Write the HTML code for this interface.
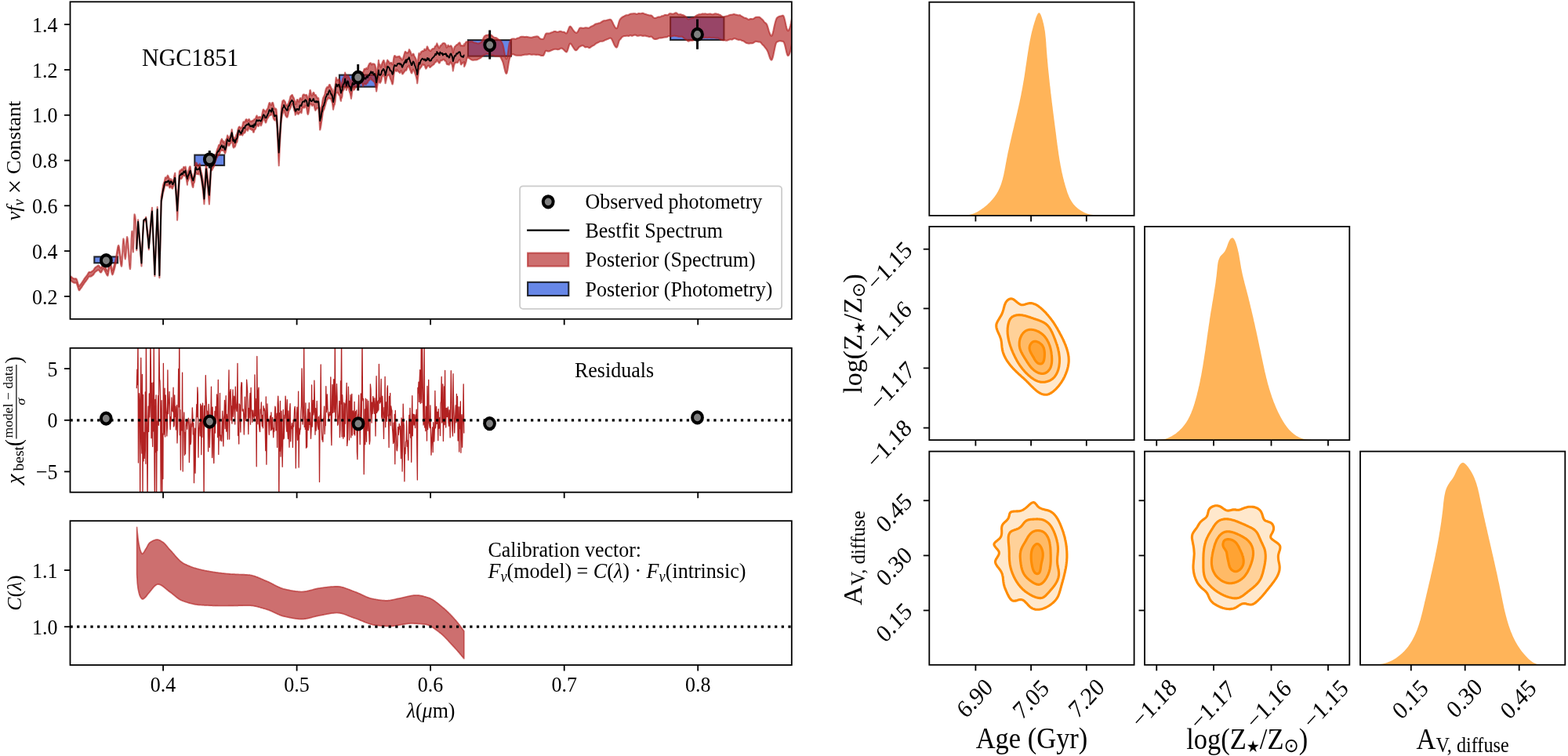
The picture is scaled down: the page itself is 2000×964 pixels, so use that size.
<!DOCTYPE html>
<html><head><meta charset="utf-8"><title>NGC1851 SED fit</title><style>html,body{margin:0;padding:0;background:#fff;}svg{display:block;}</style></head><body>
<svg width="2000" height="964" viewBox="0 0 2000 964" font-family="'Liberation Serif', serif" fill="#000">
<rect width="2000" height="964" fill="#fff"/>
<defs>
<clipPath id="cm"><rect x="89.5" y="2.3" width="920.3" height="404.5"/></clipPath>
<clipPath id="cr"><rect x="89.5" y="443.8" width="920.3" height="183.90000000000003"/></clipPath>
<clipPath id="cc"><rect x="89.5" y="664.2" width="920.3" height="183.79999999999995"/></clipPath>
</defs>
<g clip-path="url(#cm)">
<rect x="120.3" y="327.4" width="29.8" height="7.9" fill="royalblue" fill-opacity="0.8" stroke="#000" stroke-opacity="0.8" stroke-width="2.1"/>
<rect x="248.3" y="197.6" width="37.8" height="13.3" fill="royalblue" fill-opacity="0.8" stroke="#000" stroke-opacity="0.8" stroke-width="2.1"/>
<rect x="432.9" y="95.6" width="46.8" height="15.1" fill="royalblue" fill-opacity="0.8" stroke="#000" stroke-opacity="0.8" stroke-width="2.1"/>
<rect x="597" y="51.1" width="55" height="20.5" fill="royalblue" fill-opacity="0.8" stroke="#000" stroke-opacity="0.8" stroke-width="2.1"/>
<rect x="855.1" y="21.8" width="68.3" height="29.1" fill="royalblue" fill-opacity="0.8" stroke="#000" stroke-opacity="0.8" stroke-width="2.1"/>
<path d="M89.5 353 L90.1 352.5 L90.7 352.7 L91.3 353.3 L91.9 353.9 L92.5 354.4 L93.1 354.7 L93.7 355 L94.3 355.2 L94.9 355.4 L95.5 355.5 L96.1 355.3 L96.7 355.2 L97.3 355.6 L97.9 356.6 L98.5 358.2 L99.1 360.1 L99.7 362.1 L100.3 363.9 L100.9 364.8 L101.1 364.8 L101.5 364.4 L102.1 363.6 L102.7 362.7 L103.3 362 L103.9 361.2 L104.5 360.3 L105.1 359.4 L105.7 358.4 L106.3 357.5 L106.9 356.6 L107.5 355.6 L108.1 354.7 L108.7 354 L109.3 353.3 L109.9 352.4 L110.5 351.6 L111.1 350.8 L111.7 349.9 L112.3 348.8 L112.9 347.7 L113.5 347.1 L114.1 346.9 L114.7 347 L115.3 347 L115.9 346.9 L116.5 346.6 L117.1 346.1 L117.7 345.7 L118.3 345.3 L118.6 345.1 L118.9 344.8 L119.5 344.1 L120.1 343.1 L120.7 342.1 L121.3 341.3 L121.9 340.8 L122.5 340.4 L123.1 340 L123.7 339.5 L124.3 339.1 L124.9 338.8 L125.5 338.6 L126.1 338.8 L126.7 339.5 L127.3 340.5 L127.9 341.3 L128.5 341.7 L128.7 341.6 L129.1 341.3 L129.7 340.4 L130.3 339.1 L130.9 337.8 L131.5 336.8 L131.8 336.6 L132.1 336.7 L132.7 337.4 L133.3 338.5 L133.9 339.8 L134.5 341 L135.1 342.2 L135.7 343.4 L136.3 344.5 L136.9 345.3 L137.2 345.6 L137.5 345.4 L138.1 343.2 L138.7 339.6 L139.3 335.9 L139.9 333.2 L140.3 332.6 L140.5 332.8 L141.1 334.8 L141.7 337.9 L142.3 341.2 L142.9 343.6 L143.5 344.3 L144.1 343.3 L144.7 341.4 L145.3 339.4 L145.9 337.4 L146.5 334.9 L147.1 332.3 L147.3 331.4 L147.7 329.8 L148.3 326.8 L148.9 323.3 L149.5 319.4 L150.1 315.8 L150.7 313.4 L151.2 312.8 L151.9 314.8 L152.5 318.6 L153.1 323.3 L153.7 328 L154.3 331.6 L154.9 333.4 L155.1 333.4 L155.5 331.3 L156.1 322.6 L156.7 312 L157.3 305 L157.5 304.4 L157.9 305.9 L158.5 312.3 L159.1 319.9 L159.7 324.2 L160.3 321.5 L160.9 313.8 L161.5 305.8 L162.1 302 L162.7 304.1 L163.3 309.6 L163.9 317 L164.5 324.9 L165.1 331.8 L165.7 336 L166 336.8 L166.3 335.1 L166.9 323.3 L167.5 307.7 L168.1 296.3 L168.4 294.7 L168.7 297 L169.3 308.1 L169.9 315.1 L170.5 301.9 L171.1 279.9 L171.5 273.3 L171.7 273.4 L172.3 275.3 L172.9 280.7 L173.5 291.4 L174.1 309.1 L174.3 316.1 L174.9 305.3 L175.5 293.9 L176.1 280.4 L176.7 287.2 L177.3 294.3 L177.9 301.5 L178.5 308.5 L179.1 315.2 L179.7 322.5 L180.3 329.5 L180.5 332 L180.9 324.2 L181.5 311.5 L182.1 299 L182.7 288.1 L183.1 281 L183.3 280.9 L183.9 280.7 L184.5 280.2 L185.1 278.9 L185.7 278.4 L186.2 276.8 L186.9 283.1 L187.5 288.8 L188.1 293.6 L188.7 299 L189.3 305.2 L189.8 312.2 L190.5 304.4 L191.1 296.9 L191.7 289.6 L192.3 283 L192.9 275.9 L193.5 269.4 L194 264.7 L194.7 281.5 L195.3 295.7 L195.9 311.1 L196.5 326.6 L197.1 342.1 L197.4 347.7 L197.7 338.6 L198.3 324.3 L198.9 310 L199.5 295.2 L200.1 280.9 L200.7 264.1 L201.3 280.9 L201.9 297.8 L202.5 318.3 L203.1 339.1 L203.4 348 L203.7 335.1 L204.3 311.2 L204.9 287 L205.5 260 L205.7 250.5 L206.1 248.4 L206.7 245.7 L207.3 241.6 L207.9 237.2 L208.5 234.6 L209.1 232.9 L209.7 231.8 L210.3 228.7 L210.9 226.2 L211.5 226.2 L212.1 226.6 L212.7 226.9 L213.3 224.9 L213.9 223.7 L214.5 224.5 L215.1 225.9 L215.6 227 L216.3 228.3 L216.9 230.1 L217.5 230 L218.1 228.2 L218.7 229.4 L219.3 231.1 L219.9 232.8 L220.2 232.4 L220.5 230.8 L221.1 230.1 L221.7 227.5 L222.3 224.4 L222.9 221.7 L223.3 220.7 L223.5 224.2 L224.1 234.4 L224.7 241.8 L225.3 248.7 L225.9 256.4 L226.1 260.9 L226.5 254.8 L227.1 245.1 L227.7 236.3 L228.3 227.9 L228.8 219 L229.5 217.4 L230.1 217.9 L230.7 217.2 L231.3 216.2 L231.9 215.6 L232.5 215.7 L232.7 216.7 L233.1 216.5 L233.7 214.7 L234.3 212.8 L234.9 213.1 L235.5 213.8 L236.1 214.1 L236.6 212.5 L237.3 216.2 L237.9 220.3 L238.5 222.6 L238.9 224 L239.1 222.8 L239.7 220.3 L240.3 217.9 L240.9 216 L241.5 213.7 L242.1 212.3 L242.7 212.3 L243.3 216.9 L243.9 220.1 L244.5 222 L245.1 224.5 L245.7 225.7 L246.3 226.1 L246.7 226.1 L246.9 224.7 L247.5 223.6 L248.1 219.7 L248.7 214.8 L249.3 209.7 L249.8 207.2 L250.5 207.8 L251.1 208 L251.7 210 L252.3 211.2 L252.9 211.4 L253.5 211.8 L254.1 211.5 L254.5 210.1 L254.7 208.8 L255.3 211.8 L255.9 215.6 L256.5 218.5 L256.8 219.5 L257.1 220.4 L257.7 223.6 L258.3 227.1 L258.9 230.5 L259.5 235.7 L260.1 241 L260.4 244 L260.7 240.6 L261.3 232.5 L261.9 222.5 L262.5 214 L263 207.6 L263.7 214.5 L264.3 218.9 L264.9 224.4 L265.5 230.4 L266.1 236.2 L266.7 240.3 L266.9 241.6 L267.3 238.2 L267.9 229.4 L268.5 219.2 L269.1 208.9 L269.7 207.9 L270.3 207.4 L270.9 206.7 L271.5 204.9 L272.1 204.3 L272.7 202.6 L273.3 200.4 L273.9 199.3 L274.5 199 L274.7 198.9 L275.1 198.2 L275.7 195.4 L276.3 193 L276.9 191.1 L277.5 189.4 L278.1 188.5 L278.7 186.1 L279.3 184.7 L279.9 184.5 L280.5 184.7 L280.9 184.3 L281.1 182 L281.7 179.5 L282.3 178.4 L282.9 177.2 L283.5 178.2 L284.1 180.8 L284.7 180.9 L285.3 180 L285.6 180.8 L285.9 182 L286.5 182.9 L287.1 183.6 L287.7 180.3 L288.3 178 L288.9 177.4 L289.5 175.5 L290.1 172.6 L290.7 173.8 L291.3 174.8 L291.9 175.5 L292.5 176.7 L293.1 175.6 L293.4 174 L293.7 172.7 L294.3 171.7 L294.9 169.6 L295.5 166.3 L295.7 165.1 L296.1 167.3 L296.7 172.6 L297.3 174.3 L297.9 175 L298.5 175.6 L299.1 176.6 L299.6 176.6 L300.3 175.2 L300.9 173.7 L301.5 171.8 L302.1 170.6 L302.7 169.1 L303.3 165.9 L303.9 163.9 L304.2 163.5 L304.5 162.1 L305.1 161.8 L305.7 161.6 L306.3 162.5 L306.9 163.2 L307.5 163.5 L308.1 162.5 L308.7 161.9 L308.9 161.5 L309.3 159.9 L309.9 157.2 L310.5 155.4 L311.1 155.3 L311.7 155.7 L312.3 155.2 L312.9 154.3 L313.5 152.5 L314.1 152.1 L314.7 152.2 L315.1 154.2 L315.3 154.7 L315.9 153.9 L316.5 152.9 L317.1 152.8 L317.7 151.8 L318.3 153.2 L318.9 155 L319.5 154.9 L320.1 154.6 L320.7 154.9 L321.3 154.3 L321.9 153.9 L322.5 153.5 L323.1 153.6 L323.7 153.2 L324.3 151.9 L324.9 152 L325.5 151.7 L326.1 151.2 L326.7 148.8 L327.3 147.9 L327.6 147.4 L327.9 148 L328.5 149.9 L329.1 150.2 L329.7 149.4 L330.3 149.3 L330.9 148.9 L331.5 149.2 L332.1 149.9 L332.3 149.7 L332.7 149 L333.3 149.5 L333.9 147.9 L334.5 144.9 L335.1 142 L335.7 139.7 L336.2 139.6 L336.9 140.7 L337.5 141.4 L338.1 141.3 L338.7 142.5 L339.3 142.7 L339.9 140.8 L340.5 139.4 L341.1 139 L341.7 137.8 L342.3 135.5 L342.9 133.1 L343.5 131.2 L344.1 131 L344.7 132.4 L345.3 133.5 L345.9 134 L346.5 132.9 L347.1 131.2 L347.7 130.8 L347.9 130.8 L348.3 131.6 L348.9 134 L349.5 136.7 L350.1 138.7 L350.7 139.2 L351.3 138.4 L351.9 138.5 L352.5 139.5 L353.1 145.8 L353.7 154.6 L354.3 165.1 L354.9 174.4 L355.5 183.7 L355.7 188.4 L356.1 183.8 L356.7 171.3 L357.3 162.3 L357.9 153.6 L358.5 144.2 L358.8 138.7 L359.1 136 L359.7 132.1 L360.3 129 L360.9 128.2 L361.5 128.1 L361.9 127.5 L362.1 127.6 L362.7 128.8 L363.3 129.2 L363.9 130.2 L364.5 132.5 L365.1 134.1 L365.7 134.6 L366.3 134.2 L366.9 133.6 L367.5 132.6 L368.1 131 L368.7 129.2 L369.3 127.9 L369.9 125.5 L370.5 122.9 L371.1 122.1 L371.7 122.1 L372.3 121.1 L372.9 121.1 L373.5 122.7 L374.1 123.7 L374.3 124.3 L374.7 124.8 L375.3 126.7 L375.9 129 L376.5 129.9 L376.7 131.3 L377.1 133 L377.7 132.4 L378.3 129.3 L378.9 127 L379.5 127.1 L380.1 128.2 L380.7 129.4 L381.3 129.7 L381.9 127.7 L382.5 125.6 L383.1 125.1 L383.7 125.3 L384.3 126.2 L384.5 126.9 L384.9 127.5 L385.5 125 L386.1 121.9 L386.7 120.6 L387.3 120.5 L387.9 120.5 L388.5 120.8 L389.1 121.2 L389.7 121.5 L390.3 121 L390.9 120.9 L391.5 122 L392.1 124.1 L392.7 126.1 L393 126.9 L393.3 126.5 L393.9 123.9 L394.5 120.6 L395.1 117.4 L395.3 115.3 L395.7 114.8 L396.3 116.8 L396.9 120.1 L397.5 121.8 L398.1 121.7 L398.7 120.7 L399.2 118.8 L399.9 117.8 L400.5 118.5 L401.1 120.5 L401.6 121.3 L402.3 121 L402.9 121.3 L403.5 122.8 L404.1 123.8 L404.7 124.4 L405.3 125.4 L405.9 125 L406.2 125 L406.5 128.3 L407.1 134.7 L407.7 141.3 L408.1 146.1 L408.3 143.3 L408.9 140.6 L409.5 137.7 L410.1 135.7 L410.7 133.3 L410.9 131.8 L411.3 129 L411.9 125.8 L412.5 124.1 L413.1 123 L413.7 121.8 L414.3 120 L414.8 117.2 L415.5 114.6 L416.1 112.6 L416.7 111.9 L417.1 111.2 L417.3 110.8 L417.9 111.7 L418.5 111.3 L419.1 110.5 L419.7 108.7 L420.2 107.8 L420.9 108.4 L421.5 110.3 L422.1 111.1 L422.5 112.6 L422.7 113.8 L423.3 113.1 L423.9 115.8 L424.5 119.3 L425 122.2 L425.7 119.5 L426.3 114.6 L426.9 112.3 L427.5 109.4 L428.1 104.4 L428.7 98.8 L429.3 100.4 L429.9 101.8 L430.5 102.6 L431.1 101.8 L431.7 101.4 L432.3 101.7 L432.5 101 L432.9 101.6 L433.5 103.1 L434.1 105.4 L434.7 108.5 L434.9 110 L435.3 107.6 L435.9 106.5 L436.5 104.6 L436.8 102.8 L437.1 100.9 L437.7 99.7 L438.3 99 L438.9 97.8 L439.5 96.4 L439.9 94.4 L440.1 92.5 L440.7 94.6 L441.3 96.8 L441.8 99.5 L442.5 97.7 L443.1 96.6 L443.7 96.3 L444.3 97.2 L444.9 98 L445.5 99.2 L446.1 100.3 L446.7 102.6 L447.3 105.7 L447.9 108.3 L448.5 103.9 L449.1 100.7 L449.7 99.7 L450.3 99.5 L450.5 100 L450.9 100.7 L451.5 99.8 L452.1 98.8 L452.4 97.8 L452.7 96.5 L453.3 96.1 L453.9 94.8 L454.5 94.2 L455.1 93.8 L455.7 93.4 L456 92.1 L456.3 90.8 L456.9 90.2 L457.5 90.7 L458.1 91.3 L458.7 92.3 L459.3 93.1 L459.9 93.5 L460.5 93.6 L461 92.5 L461.7 92.1 L462.3 92.2 L462.9 92.4 L463.5 91.5 L464.1 89.6 L464.7 87.7 L465.3 87.8 L465.9 88 L466.1 88.3 L466.5 88 L467.1 87 L467.7 86.7 L468.3 87.9 L468.9 87.9 L469.2 86.4 L469.5 85 L470.1 83.5 L470.7 82.1 L471.3 80.9 L471.9 80.5 L472.5 80.5 L472.9 80.3 L473.1 80.7 L473.7 82 L474.3 82.6 L474.8 81.6 L475.5 81.2 L476 81.4 L476.7 81.6 L477.3 81.5 L477.9 82.1 L478.5 83.3 L479.1 86.4 L479.7 90.4 L480.1 94.8 L480.3 93.7 L480.9 90 L481.5 87.4 L482.1 83.9 L482.7 79.3 L482.9 76.8 L483.3 80.2 L483.9 82 L484.5 82.4 L484.8 83.7 L485.1 84.9 L485.7 85.6 L486.3 84.3 L486.9 82.1 L487.5 80.5 L488.1 79 L488.7 77.9 L489.3 76.8 L489.7 77.1 L489.9 78.5 L490.5 79.8 L491.1 82.5 L491.6 85.7 L492.3 83.2 L492.9 81.3 L493.5 78.9 L494.1 76.6 L494.4 76.6 L494.7 77.5 L495.3 77.9 L495.9 78.3 L496.5 79.8 L497.1 80.9 L497.7 80.4 L498.3 80.1 L498.9 79.8 L499.5 80.3 L499.9 81 L500.1 81.8 L500.7 82.4 L501.3 80.9 L501.9 76.3 L502.5 72.8 L503.1 71.2 L503.7 71 L504.3 71.7 L504.9 72.8 L505.5 72.8 L506.1 72.4 L506.5 72.7 L506.7 72.3 L507.3 72.4 L507.9 72.2 L508.5 72 L509.1 71.6 L509.7 71.9 L509.9 73.2 L510.3 74 L510.9 73.6 L511.5 74.1 L512.1 75.5 L512.7 76.2 L513.3 76.2 L513.9 75.3 L514.5 73.1 L515.1 71 L515.6 69.2 L516.3 67 L516.9 65.7 L517.5 65.9 L518.1 67 L518.7 67.6 L519.3 67.2 L519.9 67.1 L520.5 67.3 L521.1 65.9 L521.7 63.8 L521.9 63 L522.3 63.6 L522.9 64.7 L523.5 65.8 L524.1 67.6 L524.7 69.4 L525.3 70.7 L525.9 70.2 L526.5 69.1 L527.1 68.6 L527.6 69.1 L528.3 70.9 L528.9 72.2 L529.5 73.2 L530.1 74.3 L530.7 75.8 L531.3 78.9 L531.9 82 L532.2 84.4 L532.5 81.8 L533.1 76.8 L533.7 72.3 L534.3 68.4 L534.5 67.8 L534.9 68.8 L535.5 69.4 L536.1 68.8 L536.7 67.2 L537.3 66 L537.9 65.7 L538.5 65.3 L539.1 65 L539.7 65.1 L540.3 65.1 L540.9 64.2 L541.3 63 L541.5 62.5 L542.1 63.6 L542.7 64 L543.3 63.7 L543.9 62.2 L544.5 60.8 L544.7 59.4 L545.1 59.3 L545.7 60.7 L546.3 62.5 L546.9 63.4 L547.5 63.6 L548.1 64.3 L548.7 64.9 L549.3 65.1 L549.9 64.4 L550.5 63.4 L551.1 62.7 L551.6 62.3 L552.3 62.1 L552.9 62.3 L553.5 62.2 L554.1 61.4 L554.7 59.5 L555.3 58.8 L555.9 58.7 L556.5 57.8 L557.1 55.9 L557.3 55.2 L557.7 56.2 L558.3 57.8 L558.9 58.9 L559.5 60.3 L560.1 61.2 L560.7 60.6 L561.3 59.3 L561.9 57.9 L562.5 57.9 L563.1 57.5 L563.7 56.4 L564.3 55.7 L564.7 55.3 L564.9 55.2 L565.5 55.1 L566.1 54.9 L566.7 55 L567.3 55.5 L567.9 55.8 L568.5 57 L569.1 58.3 L569.3 60 L569.7 60.6 L570.3 60.2 L570.9 58.9 L571.5 57.5 L572.1 58.2 L572.7 59 L573.3 59.2 L573.9 59 L574.5 58.4 L575.1 58.2 L575.5 58.6 L575.7 58.9 L576.3 60 L576.9 61.8 L577.5 64.4 L577.8 67.2 L578.1 65.8 L578.7 63.8 L579.3 61.4 L579.9 59.8 L580.5 59.1 L581.1 58.7 L581.7 57.9 L582.3 57.3 L582.9 57 L583.5 57 L584.1 56.2 L584.7 55.3 L585.3 54.8 L585.9 54.4 L586.5 54.4 L587.1 56 L587.5 57.8 L587.7 58.3 L588.3 58.1 L588.9 58 L589.5 58 L590.1 58.6 L590.7 58.4 L591.3 57.7 L591.9 56.9 L592.1 56.1 L592.1 58.4 L592.9 56.4 L593.7 54.6 L594.5 53.5 L595.3 53.2 L596.1 53.4 L596.9 53.4 L597.7 53.2 L598.5 53.1 L599.3 53.1 L600.1 53.1 L600.9 53 L601.7 52.9 L602.5 53.1 L603.3 53.6 L604.1 54.1 L604.9 54.4 L605.7 54.5 L606.5 54.5 L607.3 54.7 L608.1 54.9 L608.9 55.2 L609.7 55.4 L610.5 55.4 L611.3 55.1 L612.1 54.7 L612.9 54.4 L613.7 53.8 L614.5 52.8 L615.3 51.4 L616.1 49.8 L616.9 48 L617.7 46.6 L618.5 45.8 L619.3 45.3 L620.1 44.9 L620.9 44.8 L621.7 44.7 L622.5 44.5 L623.3 44.3 L624.1 44.1 L624.9 44.2 L625.7 44.4 L626.5 44.8 L627.3 45.4 L628.1 46.1 L628.9 46.8 L629.7 47.5 L630.5 47.9 L631.3 48 L632.1 48.1 L632.9 48.3 L633.7 48.7 L634.5 49.3 L635.3 49.8 L636.1 50.4 L636.9 50.9 L637.7 51.4 L638.5 52.1 L639.3 52.9 L640.1 54.2 L640.9 55.7 L641.7 58.1 L642.5 61.8 L643.3 66.1 L644.1 70 L644.9 73.2 L645.7 75 L646.5 74.5 L647.3 70.7 L648.1 65.3 L648.9 59.6 L649.7 55.3 L650.5 53 L651.3 51.2 L652.1 50 L652.9 49.6 L653.7 49.5 L654.5 49.5 L655.3 49.4 L656.1 49.6 L656.9 49.8 L657.7 49.7 L658.5 49.4 L659.3 49 L660.1 48.6 L660.9 48.4 L661.7 48.2 L662.5 47.9 L663.3 47.4 L664.1 47 L664.9 46.8 L665.7 46.7 L666.5 46.7 L667.3 46.8 L668.1 46.9 L668.9 47.1 L669.7 47.1 L670.5 47 L671.3 46.9 L672.1 47 L672.9 47.1 L673.7 47.2 L674.5 47.4 L675.3 47.6 L676.1 47.7 L676.9 47.8 L677.7 47.9 L678.5 47.8 L679.3 47.5 L680.1 47.2 L680.9 47 L681.7 46.9 L682.5 46.8 L683.3 46.6 L684.1 46.5 L684.9 46.4 L685.7 46.5 L686.5 46.8 L687.3 47.6 L688.1 48.5 L688.9 49.3 L689.7 49.6 L690.5 49.7 L691.3 49.8 L692.1 49.9 L692.9 49.8 L693.7 48.9 L694.5 46.9 L695.3 44.8 L696.1 43.1 L696.9 42.6 L697.7 42.5 L698.5 42.5 L699.3 42.6 L700.1 42.5 L700.9 42.5 L701.7 42.3 L702.5 41.8 L703.3 41.4 L704.1 41.2 L704.9 41 L705.7 40.6 L706.5 40.3 L707.3 40 L708.1 40 L708.9 40.3 L709.7 40.6 L710.5 40.7 L711.3 40.7 L712.1 40.6 L712.9 40.4 L713.7 40.1 L714.5 39.9 L715.3 39.9 L716.1 40.2 L716.9 40.5 L717.7 40.7 L718.5 40.7 L719.3 40.8 L720.1 41.2 L720.9 41.8 L721.7 42.4 L722.5 42.5 L723.3 41.6 L724.1 39.8 L724.9 37.7 L725.7 35.5 L726.5 34 L727.3 33.6 L728.1 34.1 L728.9 35.1 L729.7 36.2 L730.5 37.5 L731.3 38.6 L732.1 39.7 L732.9 40.6 L733.7 41.2 L734.5 41.7 L735.3 41.9 L736.1 41.4 L736.9 40.4 L737.7 38.9 L738.5 37.2 L739.3 35.9 L740.1 35.5 L740.9 35.5 L741.7 35.6 L742.5 35.8 L743.3 35.9 L744.1 35.9 L744.9 35.7 L745.7 35.5 L746.5 35.4 L747.3 35.3 L748.1 35.4 L748.9 35.5 L749.7 35.6 L750.5 35.8 L751.3 35.7 L752.1 35.2 L752.9 34.4 L753.7 33.9 L754.5 33.6 L755.3 33.3 L756.1 32.9 L756.9 32.5 L757.7 32 L758.5 31.3 L759.3 30.7 L760.1 30.4 L760.9 30.3 L761.7 30.2 L762.5 29.9 L763.3 29.6 L764.1 29.4 L764.9 29.2 L765.7 28.9 L766.5 28.5 L767.3 28 L768.1 27.5 L768.9 27 L769.7 26.6 L770.5 26.3 L771.3 26.2 L772.1 26.2 L772.9 26.1 L773.7 25.9 L774.5 25.6 L775.3 25.4 L776.1 25.2 L776.9 25 L777.7 24.9 L778.5 24.9 L779.3 25.3 L780.1 26.2 L780.9 27.6 L781.7 29.3 L782.5 31 L783.3 32.6 L784.1 34 L784.9 35.2 L785.7 36 L786.5 36.3 L787.3 35.5 L788.1 33.2 L788.9 30.3 L789.7 27.4 L790.5 25.4 L791.3 24.2 L792.1 23.3 L792.9 22.5 L793.7 22 L794.5 21.5 L795.3 21 L796.1 20.6 L796.9 20.1 L797.7 19.7 L798.5 19.4 L799.3 19.3 L800.1 19.3 L800.9 19.3 L801.7 19 L802.5 18.5 L803.3 18.1 L804.1 17.7 L804.9 17.6 L805.7 17.5 L806.5 17.5 L807.3 17.4 L808.1 17.3 L808.9 17.3 L809.7 17.3 L810.5 17.4 L811.3 17.7 L812.1 17.9 L812.9 17.8 L813.7 17.4 L814.5 17.1 L815.3 17.1 L816.1 17.2 L816.9 17.3 L817.7 17.3 L818.5 17 L819.3 16.7 L820.1 16.7 L820.9 17.1 L821.7 17.6 L822.5 17.9 L823.3 18 L824.1 18.3 L824.9 18.6 L825.7 18.7 L826.5 18.9 L827.3 19.2 L828.1 19.5 L828.9 19.6 L829.7 19.6 L830.5 19.6 L831.3 20 L832.1 20.8 L832.9 21.7 L833.7 22.5 L834.5 22.9 L835.3 23.1 L836.1 23 L836.9 22.7 L837.7 22.4 L838.5 22 L839.3 21.7 L840.1 21.6 L840.9 21.6 L841.7 21.6 L842.5 21.3 L843.3 20.9 L844.1 20.4 L844.9 20.3 L845.7 20.2 L846.5 19.9 L847.3 19.4 L848.1 19 L848.9 19 L849.7 19.1 L850.5 19.3 L851.3 19.3 L852.1 19 L852.9 18.3 L853.7 17.6 L854.5 17.3 L855.3 17.3 L856.1 17.5 L856.9 17.6 L857.7 17.7 L858.5 17.7 L859.3 17.6 L860.1 17.2 L860.9 16.8 L861.7 16.4 L862.5 16.4 L863.3 16.8 L864.1 17.5 L864.9 18.2 L865.7 18.5 L866.5 18.4 L867.3 18.2 L868.1 18.3 L868.9 18.6 L869.7 18.9 L870.5 19.1 L871.3 19.3 L872.1 19.6 L872.9 20 L873.7 20.6 L874.5 21.3 L875.3 22 L876.1 22.9 L876.9 23.8 L877.7 24.4 L878.5 24.4 L879.3 24.1 L880.1 23.9 L880.9 23.6 L881.7 23.2 L882.5 22.9 L883.3 22.8 L884.1 22.9 L884.9 22.7 L885.7 22.1 L886.5 21.2 L887.3 20.5 L888.1 19.9 L888.9 19.5 L889.7 19.1 L890.5 18.7 L891.3 18.4 L892.1 18.3 L892.9 18.3 L893.7 18.3 L894.5 18.1 L895.3 17.8 L896.1 17.5 L896.9 17.6 L897.7 17.7 L898.5 17.6 L899.3 17.5 L900.1 17.5 L900.9 17.8 L901.7 18 L902.5 18.1 L903.3 17.9 L904.1 17.8 L904.9 17.7 L905.7 17.6 L906.5 17.7 L907.3 18 L908.1 18.2 L908.9 18.3 L909.7 18.2 L910.5 17.9 L911.3 17.6 L912.1 17.4 L912.9 17.5 L913.7 17.6 L914.5 17.7 L915.3 17.9 L916.1 18.1 L916.9 18.4 L917.7 18.7 L918.5 18.9 L919.3 19.5 L920.1 20.2 L920.9 20.9 L921.7 21.4 L922.5 21.7 L923.3 21.8 L924.1 21.4 L924.9 21 L925.7 20.7 L926.5 20.6 L927.3 20.5 L928.1 20.2 L928.9 19.9 L929.7 19.5 L930.5 19.2 L931.3 19 L932.1 18.8 L932.9 18.7 L933.7 18.7 L934.5 18.5 L935.3 18.3 L936.1 18.1 L936.9 18.2 L937.7 18.5 L938.5 18.8 L939.3 18.9 L940.1 18.9 L940.9 19.2 L941.7 19.4 L942.5 19.4 L943.3 19.3 L944.1 19.4 L944.9 20 L945.7 20.6 L946.5 21 L947.3 21.4 L948.1 22 L948.9 22.5 L949.7 22.8 L950.5 22.9 L951.3 23.1 L952.1 23.4 L952.9 23.8 L953.7 24.4 L954.5 24.9 L955.3 25 L956.1 24.5 L956.9 24.1 L957.7 24 L958.5 24.1 L959.3 24.2 L960.1 24.3 L960.9 24.1 L961.7 23.5 L962.5 22.8 L963.3 22.3 L964.1 22 L964.9 21.9 L965.7 21.8 L966.5 21.8 L967.3 21.7 L968.1 21.7 L968.9 22 L969.7 22.6 L970.5 23.3 L971.3 24 L972.1 24.6 L972.9 25.4 L973.7 26.4 L974.5 27.6 L975.3 28.5 L976.1 29.1 L976.9 29.7 L977.7 30.5 L978.5 32.2 L979.3 34.6 L980.1 37.4 L980.9 40 L981.7 42.3 L982.5 44.1 L983.3 45.4 L984.1 45.8 L984.9 44.9 L985.7 42.4 L986.5 38.9 L987.3 35 L988.1 31.4 L988.9 28.2 L989.7 25.6 L990.5 23.5 L991.3 22.5 L992.1 21.9 L992.9 21.4 L993.7 21.1 L994.5 20.8 L995.3 20.6 L996.1 20.5 L996.9 20.2 L997.7 19.9 L998.5 19.8 L999.3 20.2 L1000.1 22.1 L1000.9 25 L1001.7 28.5 L1002.5 32.3 L1003.3 35.6 L1004.1 38.1 L1004.9 39.2 L1005.7 38.9 L1006.5 37.6 L1007.3 35.5 L1008.1 32.8 L1008.9 29.4 L1009.7 25.4 L1010.5 20.7 L1011.3 15.5 L1011.3 47.7 L1010.5 53.2 L1009.7 57.9 L1008.9 61.9 L1008.1 65.1 L1007.3 67.7 L1006.5 69.7 L1005.7 70.8 L1004.9 71 L1004.1 69.7 L1003.3 66.9 L1002.5 63.5 L1001.7 59.9 L1000.9 56.8 L1000.1 54.5 L999.3 53.2 L998.5 52.8 L997.7 52.7 L996.9 52.5 L996.1 52.4 L995.3 52.3 L994.5 52.2 L993.7 52.4 L992.9 52.6 L992.1 53.1 L991.3 53.4 L990.5 53.9 L989.7 55.6 L988.9 58.6 L988.1 62.2 L987.3 66.1 L986.5 69.9 L985.7 73.2 L984.9 75.6 L984.1 76.6 L983.3 76.2 L982.5 75 L981.7 73 L980.9 70.6 L980.1 68.1 L979.3 65.9 L978.5 64.3 L977.7 62.9 L976.9 61.9 L976.1 60.9 L975.3 59.9 L974.5 58.8 L973.7 57.9 L972.9 57.2 L972.1 56.4 L971.3 55.4 L970.5 54.4 L969.7 53.7 L968.9 53.5 L968.1 53.5 L967.3 53.5 L966.5 53.3 L965.7 53.1 L964.9 52.9 L964.1 52.8 L963.3 53.1 L962.5 53.6 L961.7 54.2 L960.9 54.7 L960.1 55 L959.3 55.2 L958.5 55.2 L957.7 55.1 L956.9 55.2 L956.1 55.4 L955.3 55.5 L954.5 55.5 L953.7 55.3 L952.9 55.1 L952.1 54.9 L951.3 54.5 L950.5 53.9 L949.7 53.3 L948.9 52.7 L948.1 52.3 L947.3 52.1 L946.5 51.9 L945.7 51.5 L944.9 51.1 L944.1 50.8 L943.3 50.8 L942.5 50.9 L941.7 50.8 L940.9 50.6 L940.1 50.2 L939.3 49.9 L938.5 49.5 L937.7 49.2 L936.9 49 L936.1 49.2 L935.3 49.7 L934.5 50.2 L933.7 50.5 L932.9 50.5 L932.1 50.3 L931.3 50.3 L930.5 50.5 L929.7 50.8 L928.9 51.1 L928.1 51.4 L927.3 51.6 L926.5 51.7 L925.7 51.6 L924.9 51.4 L924.1 51.3 L923.3 51.3 L922.5 51.4 L921.7 51.3 L920.9 51.1 L920.1 50.8 L919.3 50.4 L918.5 49.9 L917.7 49.5 L916.9 49.1 L916.1 48.7 L915.3 48.6 L914.5 48.6 L913.7 48.6 L912.9 48.6 L912.1 48.4 L911.3 48.2 L910.5 48.1 L909.7 48.1 L908.9 48.2 L908.1 48.2 L907.3 48.2 L906.5 48.1 L905.7 47.9 L904.9 47.9 L904.1 47.9 L903.3 48 L902.5 48.1 L901.7 48.1 L900.9 48 L900.1 47.9 L899.3 48 L898.5 48.1 L897.7 48.1 L896.9 48.2 L896.1 48.4 L895.3 48.4 L894.5 48.3 L893.7 48 L892.9 47.7 L892.1 47.5 L891.3 47.5 L890.5 47.7 L889.7 48.1 L888.9 48.6 L888.1 49.1 L887.3 49.5 L886.5 50 L885.7 50.6 L884.9 51.1 L884.1 51.5 L883.3 51.6 L882.5 51.7 L881.7 51.6 L880.9 51.5 L880.1 51.7 L879.3 52.2 L878.5 52.6 L877.7 52.5 L876.9 52 L876.1 51.2 L875.3 50.6 L874.5 50.1 L873.7 49.6 L872.9 49 L872.1 48.4 L871.3 47.7 L870.5 47.1 L869.7 46.7 L868.9 46.6 L868.1 46.7 L867.3 46.7 L866.5 46.8 L865.7 46.8 L864.9 46.6 L864.1 46.2 L863.3 46.1 L862.5 46 L861.7 45.9 L860.9 45.7 L860.1 45.6 L859.3 45.7 L858.5 45.9 L857.7 46.1 L856.9 46.2 L856.1 46.4 L855.3 46.4 L854.5 46.2 L853.7 46 L852.9 46 L852.1 46.4 L851.3 46.9 L850.5 47.2 L849.7 47.4 L848.9 47.4 L848.1 47.5 L847.3 47.6 L846.5 47.7 L845.7 47.9 L844.9 48.2 L844.1 48.3 L843.3 48.4 L842.5 48.4 L841.7 48.4 L840.9 48.6 L840.1 48.8 L839.3 49.2 L838.5 49.5 L837.7 49.8 L836.9 49.9 L836.1 50 L835.3 50 L834.5 49.8 L833.7 49.4 L832.9 48.6 L832.1 47.7 L831.3 46.9 L830.5 46.6 L829.7 46.8 L828.9 47 L828.1 47 L827.3 46.8 L826.5 46.5 L825.7 46.3 L824.9 46.2 L824.1 45.9 L823.3 45.6 L822.5 45.5 L821.7 45.6 L820.9 45.8 L820.1 45.9 L819.3 45.8 L818.5 45.5 L817.7 45.2 L816.9 45.1 L816.1 45.2 L815.3 45.5 L814.5 45.6 L813.7 45.7 L812.9 45.7 L812.1 45.4 L811.3 44.9 L810.5 44.6 L809.7 44.5 L808.9 44.7 L808.1 45 L807.3 45.4 L806.5 45.8 L805.7 45.7 L804.9 45.3 L804.1 45.1 L803.3 45.3 L802.5 45.7 L801.7 45.9 L800.9 45.7 L800.1 45.6 L799.3 45.7 L798.5 45.8 L797.7 46 L796.9 46 L796.1 46 L795.3 46.2 L794.5 46.6 L793.7 47.1 L792.9 47.9 L792.1 49 L791.3 50 L790.5 50.7 L789.7 52.1 L788.9 54.6 L788.1 57.5 L787.3 59.7 L786.5 60.6 L785.7 60.2 L784.9 59.4 L784.1 58.2 L783.3 56.7 L782.5 54.9 L781.7 53 L780.9 51.2 L780.1 49.8 L779.3 48.9 L778.5 48.6 L777.7 48.8 L776.9 49.1 L776.1 49.5 L775.3 49.7 L774.5 50.1 L773.7 50.4 L772.9 50.8 L772.1 51 L771.3 51.4 L770.5 51.8 L769.7 52.3 L768.9 52.6 L768.1 52.8 L767.3 52.8 L766.5 52.7 L765.7 52.8 L764.9 53.1 L764.1 53.6 L763.3 54 L762.5 54.4 L761.7 54.8 L760.9 55.1 L760.1 55.6 L759.3 56.3 L758.5 57 L757.7 57.6 L756.9 58 L756.1 58.4 L755.3 58.8 L754.5 59.3 L753.7 59.9 L752.9 60.5 L752.1 61 L751.3 61 L750.5 60.6 L749.7 60.1 L748.9 59.9 L748.1 60 L747.3 60.2 L746.5 60.2 L745.7 59.8 L744.9 59 L744.1 58.4 L743.3 58 L742.5 58.1 L741.7 58.4 L740.9 58.8 L740.1 59.2 L739.3 59.5 L738.5 60.3 L737.7 61.2 L736.9 62.3 L736.1 63.3 L735.3 64.1 L734.5 64.3 L733.7 63.9 L732.9 63.1 L732.1 62 L731.3 60.7 L730.5 59.5 L729.7 58.2 L728.9 56.8 L728.1 55.8 L727.3 55.5 L726.5 56.3 L725.7 58.4 L724.9 61.1 L724.1 63.8 L723.3 65.7 L722.5 66.4 L721.7 66 L720.9 65.4 L720.1 64.6 L719.3 63.8 L718.5 63 L717.7 62.3 L716.9 61.7 L716.1 61.5 L715.3 61.6 L714.5 62.1 L713.7 62.6 L712.9 62.9 L712.1 63.1 L711.3 63.1 L710.5 63 L709.7 62.8 L708.9 62.7 L708.1 62.7 L707.3 62.8 L706.5 63 L705.7 63.3 L704.9 63.6 L704.1 63.9 L703.3 64.2 L702.5 64.6 L701.7 64.9 L700.9 65.2 L700.1 65.5 L699.3 65.5 L698.5 65.4 L697.7 65.1 L696.9 64.8 L696.1 64.9 L695.3 66.2 L694.5 68.3 L693.7 70.1 L692.9 70.9 L692.1 70.9 L691.3 71 L690.5 70.9 L689.7 70.7 L688.9 70.4 L688.1 70.1 L687.3 69.9 L686.5 69.7 L685.7 69.7 L684.9 69.8 L684.1 69.9 L683.3 69.8 L682.5 69.7 L681.7 69.5 L680.9 69.5 L680.1 69.5 L679.3 69.6 L678.5 69.7 L677.7 69.7 L676.9 69.5 L676.1 69.2 L675.3 69.1 L674.5 69.1 L673.7 69.4 L672.9 69.5 L672.1 69.6 L671.3 69.6 L670.5 69.5 L669.7 69.6 L668.9 69.8 L668.1 70 L667.3 70.1 L666.5 70.3 L665.7 70.5 L664.9 70.7 L664.1 70.8 L663.3 70.8 L662.5 70.8 L661.7 70.8 L660.9 70.7 L660.1 70.7 L659.3 70.7 L658.5 70.6 L657.7 70.4 L656.9 70.2 L656.1 69.8 L655.3 69.4 L654.5 69.3 L653.7 69.3 L652.9 69.5 L652.1 70.1 L651.3 71.6 L650.5 73.4 L649.7 75.7 L648.9 79.7 L648.1 84.8 L647.3 89.8 L646.5 93.2 L645.7 93.9 L644.9 92.7 L644.1 90.1 L643.3 86.7 L642.5 83.2 L641.7 80.1 L640.9 77.9 L640.1 76.2 L639.3 74.5 L638.5 73 L637.7 71.9 L636.9 71.6 L636.1 71.6 L635.3 71.6 L634.5 71.5 L633.7 71.5 L632.9 71.6 L632.1 71.7 L631.3 71.5 L630.5 71.1 L629.7 70.6 L628.9 70.4 L628.1 70.4 L627.3 70.5 L626.5 70.6 L625.7 70.5 L624.9 70.2 L624.1 69.8 L623.3 69.4 L622.5 69.1 L621.7 68.9 L620.9 68.9 L620.1 69.1 L619.3 69.5 L618.5 69.8 L617.7 70 L616.9 70.3 L616.1 70.8 L615.3 71.5 L614.5 72.3 L613.7 73.2 L612.9 74 L612.1 74.4 L611.3 74.8 L610.5 75.1 L609.7 75.5 L608.9 76 L608.1 76.3 L607.3 76.4 L606.5 76.3 L605.7 76.4 L604.9 76.5 L604.1 76.6 L603.3 76.7 L602.5 76.6 L601.7 76.4 L600.9 76 L600.1 75.4 L599.3 74.8 L598.5 74.2 L597.7 73.8 L596.9 73.5 L596.1 73.2 L595.3 75 L594.5 79 L593.7 81.5 L592.9 83.5 L592.1 84.9 L592.1 79 L591.9 79 L591.3 80 L590.7 80.6 L590.1 80.3 L589.5 80.2 L588.9 81.6 L588.3 82.4 L587.7 81.9 L587.5 80.3 L587.1 78 L586.5 76.4 L585.9 76.3 L585.3 77 L584.7 78.1 L584.1 79.5 L583.5 80 L582.9 79.3 L582.3 79.5 L581.7 80.1 L581.1 80 L580.5 80 L579.9 81.2 L579.3 82.9 L578.7 85.3 L578.1 88.5 L577.8 90.4 L577.5 86.8 L576.9 83.5 L576.3 81.7 L575.7 80.8 L575.5 80.1 L575.1 79.5 L574.5 79.4 L573.9 80.3 L573.3 81.8 L572.7 82.7 L572.1 82.3 L571.5 82.1 L570.9 82.2 L570.3 82.2 L569.7 81.4 L569.3 79.8 L569.1 78.6 L568.5 78.2 L567.9 77.4 L567.3 77.5 L566.7 76.5 L566.1 75.7 L565.5 75.8 L564.9 76.3 L564.7 76 L564.3 76.6 L563.7 77.3 L563.1 77.3 L562.5 77.1 L561.9 77.3 L561.3 78.9 L560.7 80.3 L560.1 80.5 L559.5 79.4 L558.9 78.8 L558.3 78.1 L557.7 76.8 L557.3 76.6 L557.1 77.3 L556.5 78.5 L555.9 79.2 L555.3 79.4 L554.7 79.6 L554.1 81 L553.5 82 L552.9 82.4 L552.3 82.8 L551.6 83.2 L551.1 83.6 L550.5 84.2 L549.9 84.7 L549.3 85.2 L548.7 85.9 L548.1 85.7 L547.5 84.1 L546.9 83.5 L546.3 84 L545.7 84.3 L545.1 84.6 L544.7 85.1 L544.5 86 L543.9 86.9 L543.3 87.7 L542.7 86.6 L542.1 84.4 L541.5 82.8 L541.3 82.8 L540.9 82.9 L540.3 82.9 L539.7 82.3 L539.1 82.1 L538.5 83 L537.9 84.3 L537.3 85.4 L536.7 86.1 L536.1 86.7 L535.5 87.7 L534.9 88.5 L534.5 88.4 L534.3 89.4 L533.7 94.1 L533.1 99.2 L532.5 104.5 L532.2 106.2 L531.9 102.8 L531.3 100 L530.7 97.6 L530.1 95.5 L529.5 94 L528.9 92.2 L528.3 90.9 L527.6 89.5 L527.1 88.6 L526.5 89.3 L525.9 91.3 L525.3 93.4 L524.7 93 L524.1 91.5 L523.5 89.8 L522.9 88.6 L522.3 86.4 L521.9 84.2 L521.7 83.6 L521.1 84.8 L520.5 85.5 L519.9 85.1 L519.3 86.4 L518.7 88.8 L518.1 89.8 L517.5 89.4 L516.9 89.4 L516.3 90.9 L515.6 91.7 L515.1 92.3 L514.5 93.2 L513.9 94.1 L513.3 94.5 L512.7 93 L512.1 91 L511.5 90.1 L510.9 91.1 L510.3 92.7 L509.9 93 L509.7 92.3 L509.1 92 L508.5 91.6 L507.9 90.8 L507.3 90.5 L506.7 89.4 L506.5 89.2 L506.1 89.9 L505.5 90.8 L504.9 90.2 L504.3 89.5 L503.7 89.7 L503.1 91.3 L502.5 94.3 L501.9 99.3 L501.3 105.3 L500.7 107.4 L500.1 106.8 L499.9 105.6 L499.5 104.4 L498.9 102.5 L498.3 101.2 L497.7 99.9 L497.1 97.6 L496.5 95.8 L495.9 95.2 L495.3 95.9 L494.7 96 L494.4 95.9 L494.1 96.4 L493.5 97.7 L492.9 100.5 L492.3 103.3 L491.6 106.3 L491.1 102.3 L490.5 98.4 L489.9 96.5 L489.7 95.5 L489.3 95 L488.7 95.8 L488.1 96.8 L487.5 97.4 L486.9 99.5 L486.3 102.6 L485.7 104.5 L485.1 105.1 L484.8 105.8 L484.5 105.7 L483.9 104.9 L483.3 102.3 L482.9 98.4 L482.7 100.2 L482.1 104.1 L481.5 108.2 L480.9 111.9 L480.3 115.6 L480.1 116.5 L479.7 113.3 L479.1 110 L478.5 107 L477.9 105.4 L477.3 104.1 L476.7 104.1 L476 103.3 L475.5 102.6 L474.8 102.1 L474.3 102.1 L473.7 101.5 L473.1 100.6 L472.9 99.2 L472.5 99 L471.9 99.8 L471.3 101.7 L470.7 102.7 L470.1 102.9 L469.5 103.5 L469.2 104.8 L468.9 105.6 L468.3 105.6 L467.7 106 L467.1 107.4 L466.5 107.8 L466.1 107.5 L465.9 107.2 L465.3 106.9 L464.7 106.9 L464.1 107.6 L463.5 109 L462.9 109.7 L462.3 107.5 L461.7 105.8 L461 104.9 L460.5 105 L459.9 105.6 L459.3 106.4 L458.7 108 L458.1 109.5 L457.5 110.3 L456.9 109.5 L456.3 109.1 L456 109.5 L455.7 109.8 L455.1 109.3 L454.5 110 L453.9 111.2 L453.3 112.1 L452.7 112.7 L452.4 113.4 L452.1 114.2 L451.5 114.6 L450.9 114.3 L450.5 112.8 L450.3 112.5 L449.7 114.2 L449.1 117.2 L448.5 122 L447.9 125.8 L447.3 121.9 L446.7 119.4 L446.1 117.7 L445.5 115.7 L444.9 112.8 L444.3 110.9 L443.7 109.3 L443.1 110.6 L442.5 112.9 L441.8 114.9 L441.3 111.1 L440.7 109 L440.1 106.5 L439.9 108.8 L439.5 111.8 L438.9 113.5 L438.3 114.8 L437.7 115.8 L437.1 116.8 L436.8 119.2 L436.5 122.7 L435.9 124.8 L435.3 125.6 L434.9 128.8 L434.7 128.4 L434.1 126.2 L433.5 122.4 L432.9 121.3 L432.5 121.3 L432.3 121.1 L431.7 119.5 L431.1 118.8 L430.5 117.8 L429.9 118.1 L429.3 118.6 L428.7 118.9 L428.1 124.4 L427.5 129.8 L426.9 133.1 L426.3 134.1 L425.7 136.3 L425 139.7 L424.5 135.4 L423.9 131.5 L423.3 129.6 L422.7 128.3 L422.5 126.6 L422.1 125.7 L421.5 125.9 L420.9 125.8 L420.2 125.5 L419.7 125.5 L419.1 125 L418.5 124.6 L417.9 126.8 L417.3 126.9 L417.1 127.1 L416.7 128.4 L416.1 129.8 L415.5 132.2 L414.8 134.7 L414.3 136.3 L413.7 138.7 L413.1 139.9 L412.5 141 L411.9 143.1 L411.3 147 L410.9 149.9 L410.7 151.8 L410.1 155.3 L409.5 159.5 L408.9 163.1 L408.3 165.4 L408.1 165.6 L407.7 157.9 L407.1 148.1 L406.5 140.8 L406.2 138.3 L405.9 138.3 L405.3 137.8 L404.7 138.1 L404.1 138 L403.5 138.9 L402.9 140 L402.3 140.8 L401.6 139.2 L401.1 136.5 L400.5 134.6 L399.9 133.7 L399.2 133.6 L398.7 134.3 L398.1 134.9 L397.5 133.4 L396.9 133.1 L396.3 133.3 L395.7 132.3 L395.3 132.3 L395.1 134.7 L394.5 137.1 L393.9 141.5 L393.3 144.9 L393 145.6 L392.7 145.8 L392.1 144.5 L391.5 140.3 L390.9 137.1 L390.3 135.2 L389.7 134.5 L389.1 135.2 L388.5 137.3 L387.9 137.6 L387.3 136.8 L386.7 137.1 L386.1 136.7 L385.5 138.4 L384.9 142 L384.5 144.1 L384.3 143.8 L383.7 143.2 L383.1 143 L382.5 143.2 L381.9 143.9 L381.3 144.7 L380.7 145.6 L380.1 145.6 L379.5 144.9 L378.9 143.4 L378.3 142.7 L377.7 143.9 L377.1 146.2 L376.7 146.7 L376.5 144.4 L375.9 142.2 L375.3 140.7 L374.7 138.5 L374.3 136.7 L374.1 134.9 L373.5 133.6 L372.9 132.7 L372.3 133.1 L371.7 133.8 L371.1 136.2 L370.5 137.8 L369.9 139.1 L369.3 140 L368.7 140.8 L368.1 143 L367.5 146 L366.9 148.5 L366.3 149.6 L365.7 149.4 L365.1 148.4 L364.5 147.7 L363.9 146.5 L363.3 144.1 L362.7 142 L362.1 140.8 L361.9 141.3 L361.5 142.3 L360.9 144.3 L360.3 145.9 L359.7 148.1 L359.1 151.7 L358.8 155 L358.5 158.4 L357.9 168.1 L357.3 179.3 L356.7 190 L356.1 204.3 L355.7 211.2 L355.5 206.7 L354.9 194.9 L354.3 182.8 L353.7 169.8 L353.1 159.2 L352.5 152.6 L351.9 152.2 L351.3 152.2 L350.7 153.5 L350.1 153.2 L349.5 152.2 L348.9 151.2 L348.3 148.5 L347.9 146.3 L347.7 144.4 L347.1 143.3 L346.5 144.9 L345.9 146.6 L345.3 146.9 L344.7 147 L344.1 147.2 L343.5 147.7 L342.9 148.2 L342.3 149.6 L341.7 150.4 L341.1 150.9 L340.5 152.3 L339.9 154.1 L339.3 156.2 L338.7 156.4 L338.1 154.6 L337.5 153.7 L336.9 151.4 L336.2 150.2 L335.7 150.8 L335.1 153.3 L334.5 155.9 L333.9 157.8 L333.3 159.7 L332.7 160.3 L332.3 158.8 L332.1 157.5 L331.5 157.4 L330.9 157.8 L330.3 159.6 L329.7 161.1 L329.1 160.6 L328.5 159.7 L327.9 158.8 L327.6 158.7 L327.3 159.8 L326.7 161.8 L326.1 164 L325.5 165 L324.9 165.2 L324.3 166.4 L323.7 168.8 L323.1 168.8 L322.5 166 L321.9 165.2 L321.3 165.9 L320.7 164.9 L320.1 164.4 L319.5 165 L318.9 164.3 L318.3 162.9 L317.7 161.8 L317.1 163.4 L316.5 165.5 L315.9 166.8 L315.3 165.8 L315.1 165 L314.7 165.2 L314.1 165.3 L313.5 166.1 L312.9 168 L312.3 169.2 L311.7 169.8 L311.1 169.6 L310.5 169.8 L309.9 171.2 L309.3 172.7 L308.9 171.7 L308.7 170.2 L308.1 170.4 L307.5 172 L306.9 172 L306.3 172.3 L305.7 172.1 L305.1 172.2 L304.5 171.1 L304.2 171.5 L303.9 173.3 L303.3 176.2 L302.7 179.9 L302.1 181.7 L301.5 182.1 L300.9 182.9 L300.3 185.7 L299.6 187.3 L299.1 187.1 L298.5 187.5 L297.9 188.4 L297.3 187.1 L296.7 183.1 L296.1 179.9 L295.7 179 L295.5 178.3 L294.9 180.4 L294.3 182.5 L293.7 183.3 L293.4 183.4 L293.1 184.1 L292.5 185.5 L291.9 185.8 L291.3 184.6 L290.7 183.4 L290.1 183.2 L289.5 185.5 L288.9 188 L288.3 191.7 L287.7 194.1 L287.1 195.7 L286.5 194.6 L285.9 193.7 L285.6 192.3 L285.3 191.8 L284.7 192 L284.1 191.8 L283.5 191.8 L282.9 192.1 L282.3 191.4 L281.7 191.4 L281.1 192.2 L280.9 193.5 L280.5 195.3 L279.9 196 L279.3 197.7 L278.7 198.3 L278.1 198 L277.5 199.4 L276.9 200.9 L276.3 201.2 L275.7 203.3 L275.1 205.3 L274.7 204.9 L274.5 206.1 L273.9 208.6 L273.3 211.4 L272.7 212.6 L272.1 213.7 L271.5 214.6 L270.9 215.9 L270.3 217.2 L269.7 217.2 L269.1 218.1 L268.5 230.2 L267.9 242.7 L267.3 254.2 L266.9 260.4 L266.7 258.4 L266.1 252 L265.5 245.7 L264.9 239.1 L264.3 231.9 L263.7 224.7 L263 216.9 L262.5 224.7 L261.9 235.4 L261.3 246.1 L260.7 256.7 L260.4 260.3 L260.1 255.9 L259.5 249.5 L258.9 243.7 L258.3 239 L257.7 234.8 L257.1 230.2 L256.8 227.8 L256.5 227 L255.9 225.2 L255.3 221.7 L254.7 217.3 L254.5 218.5 L254.1 220.3 L253.5 222.3 L252.9 222.4 L252.3 222 L251.7 222 L251.1 222 L250.5 220.8 L249.8 219.7 L249.3 220.9 L248.7 226.8 L248.1 231.8 L247.5 233.4 L246.9 234.2 L246.7 236.8 L246.3 238.9 L245.7 238.3 L245.1 235.8 L244.5 232.8 L243.9 229.4 L243.3 227.2 L242.7 224.1 L242.1 224.1 L241.5 225.1 L240.9 227.7 L240.3 229.8 L239.7 230.6 L239.1 232.2 L238.9 235.7 L238.5 232.7 L237.9 229.4 L237.3 226.4 L236.6 223.1 L236.1 224.2 L235.5 224.5 L234.9 224.1 L234.3 223.8 L233.7 224.1 L233.1 224.3 L232.7 225 L232.5 226.6 L231.9 226.9 L231.3 227.9 L230.7 227.8 L230.1 227.7 L229.5 228.2 L228.8 230.2 L228.3 240.8 L227.7 251.6 L227.1 262 L226.5 274.1 L226.1 280.7 L225.9 273.7 L225.3 263.1 L224.7 252.8 L224.1 242.4 L223.5 234.6 L223.3 230.7 L222.9 230.1 L222.3 232.7 L221.7 235.4 L221.1 237.7 L220.5 238.4 L220.2 240.4 L219.9 240.5 L219.3 240.1 L218.7 238.4 L218.1 237.5 L217.5 238.3 L216.9 239.3 L216.3 239.5 L215.6 236.5 L215.1 235.4 L214.5 235.8 L213.9 236.5 L213.3 236.7 L212.7 236.3 L212.1 236.5 L211.5 235.9 L210.9 235.8 L210.3 236.5 L209.7 239.6 L209.1 242.4 L208.5 244.2 L207.9 246.6 L207.3 249.5 L206.7 252.4 L206.1 256.4 L205.7 257.4 L205.5 265.2 L204.9 292.8 L204.3 317.9 L203.7 342 L203.4 354.1 L203.1 345.3 L202.5 324.6 L201.9 304 L201.3 286.2 L200.7 268.9 L200.1 286.5 L199.5 301 L198.9 315.5 L198.3 330.2 L197.7 343.8 L197.4 352.1 L197.1 346.3 L196.5 331.1 L195.9 316.8 L195.3 302.8 L194.7 290 L194 274 L193.5 276.9 L192.9 281.8 L192.3 289.4 L191.7 296.4 L191.1 303.2 L190.5 309.9 L189.8 318.3 L189.3 311.9 L188.7 305.5 L188.1 300.9 L187.5 295.2 L186.9 288.3 L186.2 281.3 L185.7 281.8 L185.1 281.9 L184.5 281.5 L183.9 282.1 L183.3 283.9 L183.1 285.1 L182.7 292.4 L182.1 303.6 L181.5 317 L180.9 330.7 L180.5 339.5 L180.3 337 L179.7 329.9 L179.1 322.2 L178.5 314.8 L177.9 307 L177.3 299.4 L176.7 292.1 L176.1 285.2 L175.5 298.4 L174.9 308.7 L174.3 319.1 L174.1 315.5 L173.5 297.8 L172.9 287.1 L172.3 281.7 L171.7 279.8 L171.5 279.6 L171.1 286.2 L170.5 308.2 L169.9 321.5 L169.3 314.5 L168.7 303.4 L168.4 301 L168.1 302.6 L167.5 314 L166.9 329.7 L166.3 341.4 L166 343.1 L165.7 342.3 L165.1 338.1 L164.5 331.2 L163.9 323.3 L163.3 315.9 L162.7 310.4 L162.1 308.3 L161.5 312 L160.9 320.1 L160.3 327.8 L159.7 330.4 L159.1 326.1 L158.5 318.6 L157.9 312.1 L157.5 310.6 L157.3 311.2 L156.7 318.2 L156.1 328.7 L155.5 337.5 L155.1 339.6 L154.9 339.6 L154.3 337.8 L153.7 334.1 L153.1 329.5 L152.5 324.8 L151.9 320.9 L151.2 318.9 L150.7 319.5 L150.1 321.9 L149.5 325.5 L148.9 329.4 L148.3 332.9 L147.7 335.9 L147.3 337.5 L147.1 338.3 L146.5 341 L145.9 343.4 L145.3 345.5 L144.7 347.5 L144.1 349.3 L143.5 350.3 L142.9 349.6 L142.3 347.2 L141.7 344 L141.1 340.8 L140.5 338.9 L140.3 338.6 L139.9 339.2 L139.3 341.9 L138.7 345.6 L138.1 349.1 L137.5 351.4 L137.2 351.6 L136.9 351.3 L136.3 350.4 L135.7 349.3 L135.1 348.1 L134.5 346.9 L133.9 345.7 L133.3 344.4 L132.7 343.3 L132.1 342.6 L131.8 342.5 L131.5 342.7 L130.9 343.7 L130.3 345 L129.7 346.2 L129.1 347.2 L128.7 347.4 L128.5 347.5 L127.9 347.1 L127.3 346.3 L126.7 345.3 L126.1 344.6 L125.5 344.4 L124.9 344.6 L124.3 344.8 L123.7 345.2 L123.1 345.7 L122.5 346.1 L121.9 346.5 L121.3 347 L120.7 347.8 L120.1 348.8 L119.5 349.8 L118.9 350.5 L118.6 350.7 L118.3 351 L117.7 351.4 L117.1 351.8 L116.5 352.2 L115.9 352.5 L115.3 352.6 L114.7 352.6 L114.1 352.5 L113.5 352.7 L112.9 353.3 L112.3 354.4 L111.7 355.5 L111.1 356.4 L110.5 357.1 L109.9 358 L109.3 358.8 L108.7 359.5 L108.1 360.2 L107.5 361.1 L106.9 362.1 L106.3 362.9 L105.7 363.8 L105.1 364.8 L104.5 365.8 L103.9 366.6 L103.3 367.4 L102.7 368.2 L102.1 369 L101.5 369.8 L101.1 370.2 L100.9 370.2 L100.3 369.2 L99.7 367.5 L99.1 365.5 L98.5 363.6 L97.9 362 L97.3 360.9 L96.7 360.5 L96.1 360.6 L95.5 360.8 L94.9 360.7 L94.3 360.5 L93.7 360.2 L93.1 360 L92.5 359.6 L91.9 359.1 L91.3 358.5 L90.7 357.9 L90.1 357.7 L89.5 358.2 Z" fill="#b22222" fill-opacity="0.65" stroke="#b22222" stroke-opacity="0.65" stroke-width="2.1" stroke-linejoin="round"/>
<path d="M174.3 317.7 L174.9 306.9 L175.5 295.7 L176.1 282.6 L176.7 289.5 L177.3 296.7 L177.9 304.2 L178.5 311.1 L179.1 318.9 L179.7 326.5 L180.3 333.3 L180.5 335.6 L180.9 327.1 L181.5 313.9 L182.1 301.7 L182.7 289.9 L183.1 281.9 L183.3 281.4 L183.9 279.9 L184.5 279.9 L185.1 280.2 L185.7 279.5 L186.2 278.4 L186.9 285.2 L187.5 291.9 L188.1 297.3 L188.7 302.7 L189.3 309.6 L189.8 316.4 L190.5 308.5 L191.1 301.4 L191.7 293.4 L192.3 286.6 L192.9 279.1 L193.5 273.2 L194 269.4 L194.7 286.1 L195.3 299.7 L195.9 314.5 L196.5 329.8 L197.1 344.7 L197.4 350.1 L197.7 340.8 L198.3 326.2 L198.9 311.7 L199.5 297.2 L200.1 282.9 L200.7 266.9 L201.3 284.7 L201.9 302 L202.5 322.3 L203.1 342.7 L203.4 351.4 L203.7 338.8 L204.3 314.8 L204.9 290.8 L205.5 263.8 L205.7 255.5 L206.1 254.3 L206.7 251 L207.3 246.6 L207.9 243 L208.5 240.3 L209.1 238.2 L209.7 235.4 L210.3 232.5 L210.9 231.9 L211.5 232.9 L212.1 231.7 L212.7 232 L213.3 232.3 L213.9 230.8 L214.5 230.7 L215.1 230.3 L215.6 232.3 L216.3 234.6 L216.9 233.9 L217.5 231.5 L218.1 231.5 L218.7 231.6 L219.3 233 L219.9 235.1 L220.2 234.5 L220.5 235.2 L221.1 233.6 L221.7 232.4 L222.3 229.5 L222.9 226.9 L223.3 226.8 L223.5 230.5 L224.1 239.2 L224.7 248 L225.3 255.2 L225.9 263.1 L226.1 268.8 L226.5 263 L227.1 252.7 L227.7 243.2 L228.3 234.1 L228.8 224.5 L229.5 223.2 L230.1 223.3 L230.7 223.2 L231.3 221.2 L231.9 222.1 L232.5 220.8 L232.7 220.7 L233.1 222.2 L233.7 220.5 L234.3 218.4 L234.9 218.8 L235.5 220 L236.1 219.3 L236.6 217.4 L237.3 221.5 L237.9 224.6 L238.5 226.2 L238.9 228 L239.1 226.9 L239.7 224.8 L240.3 223.5 L240.9 222.5 L241.5 220.7 L242.1 218.4 L242.7 217.5 L243.3 220.5 L243.9 222.7 L244.5 225.3 L245.1 227.4 L245.7 228.8 L246.3 230.4 L246.7 229.1 L246.9 228.3 L247.5 225.8 L248.1 224.8 L248.7 221.1 L249.3 214.7 L249.8 213 L250.5 215.6 L251.1 216.5 L251.7 216.3 L252.3 215.6 L252.9 215.9 L253.5 215.7 L254.1 214.8 L254.5 214.3 L254.7 213.1 L255.3 217.3 L255.9 220.1 L256.5 223.8 L256.8 224.1 L257.1 225.6 L257.7 230.7 L258.3 234.1 L258.9 237.9 L259.5 242.8 L260.1 249.6 L260.4 253.6 L260.7 249.7 L261.3 240.3 L261.9 232 L262.5 222.7 L263 215.4 L263.7 222.5 L264.3 228.3 L264.9 232.6 L265.5 237.7 L266.1 243.1 L266.7 247.8 L266.9 248.9 L267.3 243.6 L267.9 233.7 L268.5 224.4 L269.1 214.2 L269.7 212.6 L270.3 211.8 L270.9 210.7 L271.5 211.2 L272.1 209.4 L272.7 208.6 L273.3 206.3 L273.9 203.3 L274.5 202.6 L274.7 203.5 L275.1 202.7 L275.7 200.6 L276.3 197.6 L276.9 194.6 L277.5 194 L278.1 192.5 L278.7 193.3 L279.3 191.8 L279.9 190.2 L280.5 189.8 L280.9 189.6 L281.1 188 L281.7 187 L282.3 186.5 L282.9 185.3 L283.5 186.5 L284.1 188.3 L284.7 186.7 L285.3 186.8 L285.6 186.1 L285.9 188.1 L286.5 189.6 L287.1 191.1 L287.7 189.3 L288.3 187.5 L288.9 183.7 L289.5 180.2 L290.1 177.4 L290.7 178.6 L291.3 179.3 L291.9 180.2 L292.5 180.1 L293.1 180.1 L293.4 176.9 L293.7 176.3 L294.3 175.4 L294.9 172.2 L295.5 169.6 L295.7 169.1 L296.1 170.4 L296.7 175 L297.3 179.7 L297.9 179.9 L298.5 178.2 L299.1 179.3 L299.6 182 L300.3 180.9 L300.9 178.3 L301.5 177.2 L302.1 177.1 L302.7 174.9 L303.3 171.1 L303.9 167.7 L304.2 166.4 L304.5 166.5 L305.1 166.2 L305.7 168.4 L306.3 168.4 L306.9 169.4 L307.5 170.6 L308.1 168.9 L308.7 166.5 L308.9 167.9 L309.3 167.6 L309.9 164.6 L310.5 163.1 L311.1 162.8 L311.7 162.5 L312.3 163.7 L312.9 160.6 L313.5 159.8 L314.1 159.9 L314.7 159 L315.1 158.5 L315.3 158.7 L315.9 159 L316.5 159.3 L317.1 157.2 L317.7 158.4 L318.3 159.5 L318.9 160.9 L319.5 161.2 L320.1 160.2 L320.7 160.5 L321.3 161.6 L321.9 160.4 L322.5 159.7 L323.1 162.4 L323.7 162.2 L324.3 158.2 L324.9 158.5 L325.5 159.7 L326.1 157.3 L326.7 154.9 L327.3 153.4 L327.6 153 L327.9 153.5 L328.5 153.7 L329.1 154.4 L329.7 153.6 L330.3 153.2 L330.9 153.3 L331.5 154.1 L332.1 153.7 L332.3 154.2 L332.7 154.7 L333.3 153.5 L333.9 152.4 L334.5 150.9 L335.1 149.1 L335.7 147.2 L336.2 146.1 L336.9 147.2 L337.5 147.3 L338.1 149.9 L338.7 150.3 L339.3 150.3 L339.9 149.2 L340.5 148 L341.1 146.9 L341.7 145.2 L342.3 144.6 L342.9 142.1 L343.5 140.2 L344.1 140.8 L344.7 140.6 L345.3 141.9 L345.9 142.7 L346.5 140.9 L347.1 138.1 L347.7 138.6 L347.9 141.2 L348.3 141.6 L348.9 142.7 L349.5 145.6 L350.1 148.3 L350.7 148.1 L351.3 147.1 L351.9 147.3 L352.5 147.2 L353.1 152.9 L353.7 161.4 L354.3 171.7 L354.9 181 L355.5 190.7 L355.7 194.6 L356.1 189.4 L356.7 178 L357.3 168.9 L357.9 160.5 L358.5 152.5 L358.8 148.3 L359.1 145.4 L359.7 141.6 L360.3 138.5 L360.9 137.4 L361.5 137 L361.9 135.1 L362.1 134 L362.7 135.1 L363.3 136.6 L363.9 137.9 L364.5 138.4 L365.1 139.8 L365.7 140.7 L366.3 140.8 L366.9 140.5 L367.5 136 L368.1 135.2 L368.7 135.2 L369.3 133.7 L369.9 131.8 L370.5 130.1 L371.1 129.8 L371.7 128.8 L372.3 127.6 L372.9 128.7 L373.5 129.1 L374.1 130 L374.3 131.9 L374.7 134.7 L375.3 137.1 L375.9 138.1 L376.5 140.8 L376.7 141.8 L377.1 141.6 L377.7 140.9 L378.3 139.1 L378.9 138.8 L379.5 139.5 L380.1 138.9 L380.7 140.1 L381.3 140.2 L381.9 137.8 L382.5 134.9 L383.1 134.1 L383.7 134.6 L384.3 135 L384.5 134.8 L384.9 133 L385.5 131 L386.1 129.6 L386.7 129.6 L387.3 129.1 L387.9 129.6 L388.5 129.9 L389.1 127.6 L389.7 127.1 L390.3 128 L390.9 128.6 L391.5 130.6 L392.1 134.4 L392.7 135.3 L393 134.7 L393.3 135.2 L393.9 133.2 L394.5 128.9 L395.1 125.8 L395.3 125.7 L395.7 127 L396.3 128.1 L396.9 129 L397.5 129 L398.1 128.6 L398.7 128.2 L399.2 126.7 L399.9 125.9 L400.5 127.8 L401.1 129.5 L401.6 130.2 L402.3 130.3 L402.9 129.1 L403.5 128.9 L404.1 130.6 L404.7 130.1 L405.3 129.1 L405.9 129.3 L406.2 129.5 L406.5 132.4 L407.1 138.5 L407.7 147.9 L408.1 154 L408.3 152.7 L408.9 151 L409.5 148.9 L410.1 144.4 L410.7 141.4 L410.9 142.5 L411.3 139.2 L411.9 135.9 L412.5 135.4 L413.1 134.1 L413.7 131.6 L414.3 130 L414.8 127 L415.5 124.1 L416.1 123.3 L416.7 121.9 L417.1 119.9 L417.3 120.2 L417.9 120.2 L418.5 120.5 L419.1 117.2 L419.7 116.5 L420.2 115 L420.9 116 L421.5 118 L422.1 119.7 L422.5 120.5 L422.7 120.1 L423.3 121 L423.9 123.3 L424.5 126.8 L425 130.2 L425.7 127.4 L426.3 124 L426.9 121.1 L427.5 117.9 L428.1 112.7 L428.7 107.2 L429.3 108.1 L429.9 109.9 L430.5 110.4 L431.1 108.1 L431.7 108.2 L432.3 107.7 L432.5 108.1 L432.9 109.3 L433.5 111 L434.1 114 L434.7 117.7 L434.9 118.7 L435.3 116.9 L435.9 115.8 L436.5 114.4 L436.8 111 L437.1 110 L437.7 107.8 L438.3 107.2 L438.9 106.4 L439.5 103.9 L439.9 101.5 L440.1 100.4 L440.7 104 L441.3 106.4 L441.8 109.5 L442.5 107.1 L443.1 103.4 L443.7 103.4 L444.3 104.6 L444.9 108.3 L445.5 109.7 L446.1 110.2 L446.7 110.5 L447.3 113.8 L447.9 115.6 L448.5 112 L449.1 108.4 L449.7 105.6 L450.3 106.4 L450.5 108 L450.9 107.6 L451.5 107.8 L452.1 107.1 L452.4 106.2 L452.7 106.5 L453.3 104.5 L453.9 104.3 L454.5 104.7 L455.1 104.5 L455.7 103.2 L456 101.9 L456.3 100.2 L456.9 99.5 L457.5 100.2 L458.1 99.7 L458.7 99 L459.3 99.3 L459.9 99.5 L460.5 98.3 L461 97.8 L461.7 98.1 L462.3 99.8 L462.9 101.2 L463.5 101.5 L464.1 98.8 L464.7 99 L465.3 100.4 L465.9 99.7 L466.1 99.7 L466.5 100.7 L467.1 98.8 L467.7 97.3 L468.3 97.4 L468.9 98.9 L469.2 98.6 L469.5 96.4 L470.1 95.7 L470.7 96.4 L471.3 95.5 L471.9 93.5 L472.5 93.2 L472.9 92.4 L473.1 91.2 L473.7 92.6 L474.3 93.6 L474.8 92.3 L475.5 91.6 L476 93.5 L476.7 95.4 L477.3 95.4 L477.9 93.9 L478.5 96.8 L479.1 98.3 L479.7 102.1 L480.1 105.1 L480.3 104.5 L480.9 101.2 L481.5 97.7 L482.1 95.4 L482.7 90.9 L482.9 89.3 L483.3 93.9 L483.9 95.3 L484.5 96.1 L484.8 95.1 L485.1 95.9 L485.7 95.4 L486.3 93.8 L486.9 90.9 L487.5 89.8 L488.1 89.8 L488.7 88.1 L489.3 88 L489.7 89.1 L489.9 88.9 L490.5 90.6 L491.1 93.1 L491.6 96.1 L492.3 93.6 L492.9 90.5 L493.5 88.6 L494.1 85.3 L494.4 84.6 L494.7 85.6 L495.3 85.2 L495.9 86 L496.5 86.4 L497.1 88.2 L497.7 90.2 L498.3 89.6 L498.9 90.6 L499.5 91.5 L499.9 92.8 L500.1 93.7 L500.7 94.9 L501.3 93.8 L501.9 89.2 L502.5 85.2 L503.1 83.2 L503.7 83 L504.3 83.8 L504.9 84.1 L505.5 84.2 L506.1 83.8 L506.5 82.6 L506.7 81.9 L507.3 81.1 L507.9 81.4 L508.5 80.8 L509.1 81 L509.7 80.7 L509.9 81.7 L510.3 82.3 L510.9 81.4 L511.5 81.6 L512.1 82.7 L512.7 85.4 L513.3 85.8 L513.9 84 L514.5 82.3 L515.1 81.7 L515.6 79.5 L516.3 80.1 L516.9 77.9 L517.5 76.4 L518.1 79.8 L518.7 78.8 L519.3 75.7 L519.9 75.5 L520.5 75.4 L521.1 74.8 L521.7 73.1 L521.9 73.5 L522.3 75.6 L522.9 77.3 L523.5 79.1 L524.1 80.5 L524.7 83 L525.3 83.1 L525.9 81.8 L526.5 79.2 L527.1 78.4 L527.6 78.9 L528.3 80.5 L528.9 82.8 L529.5 84.4 L530.1 85.7 L530.7 88 L531.3 90.1 L531.9 92.6 L532.2 95.1 L532.5 93.3 L533.1 88.2 L533.7 83.9 L534.3 80.8 L534.5 79.9 L534.9 81 L535.5 81.6 L536.1 79.3 L536.7 77.3 L537.3 76.4 L537.9 75.5 L538.5 74.7 L539.1 74.7 L539.7 75.3 L540.3 75.9 L540.9 76.5 L541.3 75.8 L541.5 75.4 L542.1 75.5 L542.7 77.6 L543.3 77.4 L543.9 77 L544.5 75.7 L544.7 75 L545.1 73.9 L545.7 75 L546.3 76.3 L546.9 74.5 L547.5 76.1 L548.1 77.6 L548.7 77.3 L549.3 77.6 L549.9 77.2 L550.5 75.2 L551.1 74.8 L551.6 74.1 L552.3 73.2 L552.9 72.8 L553.5 72.3 L554.1 71.5 L554.7 70.1 L555.3 68.6 L555.9 70.1 L556.5 69.4 L557.1 67.4 L557.3 65.9 L557.7 66.5 L558.3 68.1 L558.9 68.5 L559.5 67.9 L560.1 70 L560.7 70.3 L561.3 66.4 L561.9 67.1 L562.5 67.6 L563.1 68 L563.7 68.9 L564.3 67.8 L564.7 69.1 L564.9 70.5 L565.5 69.4 L566.1 68.9 L566.7 69 L567.3 69 L567.9 69.4 L568.5 68.1 L569.1 68.6 L569.3 68.9 L569.7 71.5 L570.3 71.9 L570.9 70.7 L571.5 72.1 L572.1 72.3 L572.7 73.6 L573.3 73.3 L573.9 70.1 L574.5 68.7 L575.1 69.3 L575.5 68.5 L575.7 69.6 L576.3 70.9 L576.9 72.3 L577.5 75.7 L577.8 78.2 L578.1 77.3 L578.7 74.9 L579.3 73.1 L579.9 71.4 L580.5 70.7 L581.1 71.4 L581.7 69.8 L582.3 68.1 L582.9 68.1 L583.5 68.7 L584.1 68.1 L584.7 66.5 L585.3 66.3 L585.9 66.6 L586.5 66.1 L587.1 67.8 L587.5 70.6 L587.7 70.9 L588.3 71.7 L588.9 72.4 L589.5 71.9 L590.1 71.8 L590.7 73 L591.3 71.8 L591.9 70.4 L592.1 70.6" fill="none" stroke="#000" stroke-width="1.8" stroke-linejoin="round"/>
<line x1="267.3" y1="192.1" x2="267.3" y2="214.5" stroke="#000" stroke-width="2.9"/>
<line x1="456.7" y1="82.1" x2="456.7" y2="115.5" stroke="#000" stroke-width="2.9"/>
<line x1="624.7" y1="38.5" x2="624.7" y2="75.6" stroke="#000" stroke-width="2.9"/>
<line x1="889.5" y1="24.5" x2="889.5" y2="62.8" stroke="#000" stroke-width="2.9"/>
<circle transform="translate(135.4 332.2) scale(1 1.085)" r="6.42" fill="gray" stroke="#000" stroke-width="3.95"/>
<circle transform="translate(267.3 203.3) scale(1 1.085)" r="6.42" fill="gray" stroke="#000" stroke-width="3.95"/>
<circle transform="translate(456.7 98.6) scale(1 1.085)" r="6.42" fill="gray" stroke="#000" stroke-width="3.95"/>
<circle transform="translate(624.7 57.3) scale(1 1.085)" r="6.42" fill="gray" stroke="#000" stroke-width="3.95"/>
<circle transform="translate(889.5 43.9) scale(1 1.085)" r="6.42" fill="gray" stroke="#000" stroke-width="3.95"/>
</g>
<text transform="translate(181 83.8) scale(1 1.085)" font-size="30" text-anchor="start">NGC1851</text>
<rect x="663.1" y="237.3" width="334" height="156.5" rx="4" ry="4" fill="#fff" fill-opacity="0.8" stroke="#cccccc" stroke-width="1.8"/>
<circle transform="translate(699.2 257.3) scale(1 1.085)" r="6.42" fill="gray" stroke="#000" stroke-width="3.95"/>
<line x1="672.1" y1="293.6" x2="726.3" y2="293.6" stroke="#000" stroke-width="2.1"/>
<rect x="673.1" y="322.6" width="52.2" height="16.9" fill="#b22222" fill-opacity="0.65" stroke="#b22222" stroke-opacity="0.65" stroke-width="2.1"/>
<rect x="673.1" y="359.8" width="52.2" height="17.2" fill="royalblue" fill-opacity="0.8" stroke="#000" stroke-opacity="0.8" stroke-width="2.1"/>
<text transform="translate(746.5 265.8) scale(1 1.085)" font-size="26.0" text-anchor="start">Observed photometry</text>
<text transform="translate(746.5 303.1) scale(1 1.085)" font-size="26.0" text-anchor="start">Bestfit Spectrum</text>
<text transform="translate(746.5 340.4) scale(1 1.085)" font-size="26.0" text-anchor="start">Posterior (Spectrum)</text>
<text transform="translate(746.5 377.7) scale(1 1.085)" font-size="26.0" text-anchor="start">Posterior (Photometry)</text>
<g clip-path="url(#cr)">
<path d="M174.3 495.2 L174.9 471.1 L175.4 490.6 L176 430.7 L176.5 590 L177.1 532.8 L177.6 501.7 L178.2 515.4 L178.7 640.8 L179.3 505.9 L179.8 456.3 L180.4 563.5 L180.9 578 L181.5 477.4 L182 640.8 L182.6 503.4 L183.1 587.9 L183.7 551.5 L184.2 584.4 L184.8 564.4 L185.3 499.8 L185.9 591.3 L186.4 430.7 L187 528.1 L187.5 559.8 L188.1 640.8 L188.6 542.6 L189.2 518.2 L189.7 550.4 L190.3 501.8 L190.8 531.8 L191.4 517.8 L191.9 430.7 L192.5 471 L193 558.7 L193.6 488.4 L194.1 548.7 L194.7 569.5 L195.2 487.9 L195.8 549.9 L196.3 430.7 L196.9 585.3 L197.4 640.8 L198 509.4 L198.5 576.6 L199.1 504 L199.6 640.8 L200.2 537.2 L200.7 574.7 L201.3 518.2 L201.8 504.5 L202.4 542.3 L202.9 430.7 L203.5 483.3 L204 485.8 L204.6 506.3 L205.1 628.5 L205.7 534.2 L206.2 510.7 L206.8 640.8 L207.3 553.2 L207.9 610.6 L208.4 463.5 L209 554.1 L209.5 546.5 L210.1 495.1 L210.6 556.9 L211.2 504 L211.7 518.6 L212.3 527 L212.8 555.9 L213.4 544.6 L213.9 472 L214.5 527.7 L215 514.6 L215.6 510.8 L216.1 499.3 L216.7 537 L217.2 547.7 L217.8 531.5 L218.3 537.1 L218.9 506.8 L219.4 523.9 L220 522.4 L220.5 524.9 L221.1 494.2 L221.6 544 L222.2 542 L222.7 503.8 L223.3 531.3 L223.8 518.2 L224.4 548.1 L224.9 527.3 L225.5 516.6 L226 564.9 L226.6 548.3 L227.1 518.7 L227.7 470.4 L228.2 518.9 L228.8 430.7 L229.3 554.7 L229.9 522.7 L230.4 599.2 L231 535.4 L231.5 543.4 L232.1 548.9 L232.6 475.1 L233.2 601.1 L233.7 537.6 L234.3 535.8 L234.8 526 L235.4 580.5 L235.9 551.5 L236.5 578.8 L237 543.8 L237.6 536 L238.1 537.4 L238.7 547.3 L239.2 538 L239.8 538.8 L240.3 533.1 L240.9 542.9 L241.4 589.5 L242 564.4 L242.5 534.4 L243.1 566.6 L243.6 563.7 L244.2 540.1 L244.7 544.1 L245.3 519.9 L245.8 529.6 L246.4 553.9 L246.9 539.7 L247.5 615.7 L248 562.9 L248.6 546.1 L249.1 603.3 L249.7 556.2 L250.2 535.7 L250.8 515.7 L251.3 531.7 L251.9 494 L252.4 503 L253 583.2 L253.5 547.4 L254.1 545.5 L254.6 539.2 L255.2 555.9 L255.7 515.1 L256.3 522.4 L256.8 579.7 L257.4 517.2 L257.9 557.3 L258.5 514.2 L259 526.4 L259.6 543.6 L260.1 640.8 L260.7 517.5 L261.2 538.8 L261.8 533.1 L262.3 478.6 L262.9 503.4 L263.4 514.9 L264 533 L264.5 524.1 L265.1 534.2 L265.6 575.7 L266.2 515.4 L266.7 526.9 L267.3 570.5 L267.8 552.7 L268.4 542.6 L268.9 528.2 L269.5 493.1 L270 535.3 L270.6 583.5 L271.1 519.1 L271.7 539 L272.2 577.6 L272.8 590.6 L273.3 560.2 L273.9 524.4 L274.4 552.1 L275 518.4 L275.5 539.8 L276.1 528.1 L276.6 503 L277.2 517.8 L277.7 557.5 L278.3 484.3 L278.8 579.4 L279.4 535.4 L279.9 555.5 L280.5 501.3 L281 561.9 L281.6 554.8 L282.1 557.1 L282.7 562.6 L283.2 542.7 L283.8 524.2 L284.3 551.7 L284.9 568.9 L285.4 534.5 L286 528.5 L286.5 510.3 L287.1 546.7 L287.6 531.4 L288.2 504.7 L288.7 550.2 L289.3 528.3 L289.8 534.3 L290.4 560.2 L290.9 528.4 L291.5 498.7 L292 471.9 L292.6 560.1 L293.1 503.3 L293.7 498.9 L294.2 496.5 L294.8 535.9 L295.3 518 L295.9 540 L296.4 512.1 L297 497 L297.5 531.3 L298.1 520.2 L298.6 505.1 L299.2 508.5 L299.7 541.1 L300.3 493.1 L300.8 514 L301.4 521.8 L301.9 524.5 L302.5 508.9 L303 463.5 L303.6 555.3 L304.1 545.8 L304.7 566 L305.2 514.9 L305.8 516.2 L306.3 533.5 L306.9 551.1 L307.4 494.5 L308 487.6 L308.5 488.1 L309.1 524.1 L309.6 522 L310.2 522 L310.7 528.4 L311.3 554.1 L311.8 539.5 L312.4 506.1 L312.9 525.3 L313.5 536.4 L314 531.2 L314.6 484.2 L315.1 490.4 L315.7 499.4 L316.2 521.1 L316.8 553.6 L317.3 520.7 L317.9 532.8 L318.4 510.8 L319 501.3 L319.5 541.2 L320.1 494.4 L320.6 523.9 L321.2 523.1 L321.7 538.3 L322.3 529.6 L322.8 523.1 L323.4 529.9 L323.9 532.6 L324.5 534.4 L325 477.8 L325.6 530.4 L326.1 508.4 L326.7 524.6 L327.2 594.8 L327.8 454.5 L328.3 527.5 L328.9 540.8 L329.4 497.8 L330 494.2 L330.5 542.3 L331.1 548.8 L331.6 550.5 L332.2 522.1 L332.7 526.8 L333.3 512.8 L333.8 534 L334.4 543.7 L334.9 529.4 L335.5 545.8 L336 517.7 L336.6 523.7 L337.1 520.8 L337.7 523.6 L338.2 544.2 L338.8 574.7 L339.3 506 L339.9 592.2 L340.4 552.9 L341 514.8 L341.5 531.9 L342.1 537 L342.6 535.4 L343.2 554.3 L343.7 538 L344.3 533.7 L344.8 530.1 L345.4 549.1 L345.9 525.8 L346.5 547.9 L347 546 L347.6 532.4 L348.1 544.8 L348.7 557.8 L349.2 546.1 L349.8 550 L350.3 530.8 L350.9 518.2 L351.4 520.2 L352 548.9 L352.5 541.6 L353.1 527.2 L353.6 570.4 L354.2 513.5 L354.7 505.1 L355.3 517.1 L355.8 640.8 L356.4 526.6 L356.9 575.1 L357.5 511.4 L358 582.2 L358.6 564.8 L359.1 524.1 L359.7 564.8 L360.2 595.3 L360.8 557.2 L361.3 522.5 L361.9 559.8 L362.4 558 L363 529.1 L363.5 533.3 L364.1 505.1 L364.6 514.1 L365.2 541.5 L365.7 550.2 L366.3 509.6 L366.8 549.8 L367.4 559.5 L367.9 524 L368.5 548.6 L369 570.3 L369.6 521.1 L370.1 514.7 L370.7 562.8 L371.2 544 L371.8 546.6 L372.3 539.6 L372.9 546.2 L373.4 570.4 L374 535.5 L374.5 544 L375.1 533.6 L375.6 521.7 L376.2 518.4 L376.7 527.4 L377.3 596.9 L377.8 560.9 L378.4 535.5 L378.9 519.1 L379.5 561.2 L380 555.8 L380.6 499.1 L381.1 596.1 L381.7 546.1 L382.2 554 L382.8 548.2 L383.3 547.2 L383.9 524.7 L384.4 517.8 L385 469.9 L385.5 499.1 L386.1 541.1 L386.6 534.2 L387.2 516.3 L387.7 437.6 L388.3 544.4 L388.8 531.4 L389.4 547.4 L389.9 513.9 L390.5 571.3 L391 534.6 L391.6 570.1 L392.1 533.8 L392.7 521.7 L393.2 548.6 L393.8 544.6 L394.3 513.6 L394.9 541.4 L395.4 526.1 L396 544 L396.5 559.3 L397.1 547.5 L397.6 490.9 L398.2 544.1 L398.7 536.3 L399.3 510.4 L399.8 528.8 L400.4 524.8 L400.9 485.2 L401.5 515.8 L402 554.3 L402.6 520.7 L403.1 549.1 L403.7 543.4 L404.2 511.5 L404.8 533.8 L405.3 541.6 L405.9 547.5 L406.4 531.5 L407 540.6 L407.5 614.5 L408.1 529.6 L408.6 537.4 L409.2 465 L409.7 526.4 L410.3 549.5 L410.8 560.9 L411.4 558.3 L411.9 563.4 L412.5 534.4 L413 532.5 L413.6 518.1 L414.1 553.4 L414.7 540.8 L415.2 542.7 L415.8 492.6 L416.3 525.5 L416.9 518.3 L417.4 502.8 L418 521.9 L418.5 527.8 L419.1 535.5 L419.6 531.9 L420.2 525.6 L420.7 529.5 L421.3 528.8 L421.8 480.8 L422.4 552.1 L422.9 567.7 L423.5 513.1 L424 490.4 L424.6 526.3 L425.1 501.4 L425.7 483.6 L426.2 525.7 L426.8 516.2 L427.3 430.7 L427.9 535.6 L428.4 530.8 L429 505.9 L429.5 489.6 L430.1 507.6 L430.6 542.3 L431.2 540.7 L431.7 531.9 L432.3 523.8 L432.8 511.4 L433.4 557.7 L433.9 548.1 L434.5 485.8 L435 515.2 L435.6 430.7 L436.1 556.9 L436.7 503.7 L437.2 514.6 L437.8 559.2 L438.3 554.4 L438.9 513.5 L439.4 556.8 L440 514.8 L440.5 540.2 L441.1 513.9 L441.6 508.8 L442.2 488.3 L442.7 568.4 L443.3 562.2 L443.8 532.5 L444.4 493.2 L444.9 519.5 L445.5 561 L446 511.3 L446.6 533.4 L447.1 503.6 L447.7 557.9 L448.2 512.2 L448.8 502.4 L449.3 555 L449.9 530.4 L450.4 523.9 L451 529.6 L451.5 553.4 L452.1 512.3 L452.6 555 L453.2 533.2 L453.7 524.6 L454.3 527.7 L454.8 522.9 L455.4 575.9 L455.9 585.7 L456.5 530.4 L457 527.7 L457.6 504 L458.1 539.5 L458.7 537.8 L459.2 566.7 L459.8 524.9 L460.3 501.8 L460.9 541.7 L461.4 522.4 L462 430.7 L462.5 505.9 L463.1 511 L463.6 508.7 L464.2 604.7 L464.7 571.4 L465.3 522 L465.8 566.7 L466.4 508.2 L466.9 541.7 L467.5 563.2 L468 509.3 L468.6 542.3 L469.1 549.3 L469.7 511.2 L470.2 532 L470.8 553 L471.3 566.3 L471.9 561.7 L472.4 489.8 L473 496.2 L473.5 523.6 L474.1 539 L474.6 513.1 L475.2 527.5 L475.7 505.5 L476.3 508.5 L476.8 520.4 L477.4 527.3 L477.9 507.6 L478.5 520.2 L479 555.9 L479.6 513.1 L480.1 479.6 L480.7 526.4 L481.2 512.1 L481.8 524.6 L482.3 510.8 L482.9 522.9 L483.4 464.4 L484 505.2 L484.5 514.2 L485.1 507.5 L485.6 512.7 L486.2 483.4 L486.7 531.3 L487.3 534.2 L487.8 505.1 L488.4 522.2 L488.9 532 L489.5 559.4 L490 519.7 L490.6 532.6 L491.1 480.3 L491.7 544.7 L492.2 512.6 L492.8 523.2 L493.3 537.3 L493.9 495.3 L494.4 492 L495 530.7 L495.5 529.2 L496.1 570.6 L496.6 505.5 L497.2 529.3 L497.7 501.3 L498.3 542.8 L498.8 518 L499.4 522.3 L499.9 523.3 L500.5 546.1 L501 553 L501.6 565.5 L502.1 539.2 L502.7 563.9 L503.2 528.5 L503.8 591.7 L504.3 523.4 L504.9 543.6 L505.4 554.4 L506 573.6 L506.5 574.9 L507.1 567.9 L507.6 544.3 L508.2 554.5 L508.7 550.7 L509.3 540.3 L509.8 547 L510.4 543.3 L510.9 562.9 L511.5 584.7 L512 532.8 L512.6 535.3 L513.1 601 L513.7 569.6 L514.2 515.2 L514.8 538.2 L515.3 542.8 L515.9 613.8 L516.4 571.2 L517 578.7 L517.5 563.4 L518.1 562.1 L518.6 536.7 L519.2 569.3 L519.7 561.5 L520.3 575.9 L520.8 586.8 L521.4 546 L521.9 529.4 L522.5 552.6 L523 520.5 L523.6 558.2 L524.1 536 L524.7 589.3 L525.2 536.3 L525.8 504.6 L526.3 555.8 L526.9 528.2 L527.4 528.6 L528 542 L528.5 528.7 L529.1 536.1 L529.6 545.7 L530.2 528.9 L530.7 532.6 L531.3 522.1 L531.8 570 L532.4 611.9 L532.9 494.5 L533.5 501.1 L534 487.2 L534.6 512.4 L535.1 486.7 L535.7 471.6 L536.2 514.5 L536.8 504.5 L537.3 438.5 L537.9 513.7 L538.4 430.7 L539 473.4 L539.5 505.1 L540.1 542 L540.6 538.9 L541.2 437.3 L541.7 545.1 L542.3 533.9 L542.8 549.6 L543.4 518.1 L543.9 522.7 L544.5 562 L545 492.4 L545.6 547.7 L546.1 536.9 L546.7 484.3 L547.2 537.7 L547.8 543.4 L548.3 545.6 L548.9 517 L549.4 548.4 L550 580.2 L550.5 566.9 L551.1 554 L551.6 545 L552.2 576.7 L552.7 538.7 L553.3 551.6 L553.8 563 L554.4 545.6 L554.9 498.4 L555.5 545.9 L556 540.8 L556.6 518.5 L557.1 540.4 L557.7 525.4 L558.2 525.5 L558.8 561.7 L559.3 521.6 L559.9 546.3 L560.4 540.1 L561 532.3 L561.5 555.6 L562.1 514.1 L562.6 511.7 L563.2 480.5 L563.7 538.9 L564.3 534.7 L564.8 489.8 L565.4 562.4 L565.9 538.2 L566.5 492.8 L567 541.5 L567.6 472.5 L568.1 532.7 L568.7 545 L569.2 520.5 L569.8 520.3 L570.3 531.6 L570.9 531.1 L571.4 518.8 L572 538.6 L572.5 543.3 L573.1 522.7 L573.6 525.7 L574.2 557.9 L574.7 517.6 L575.3 472.7 L575.8 496.1 L576.4 535.8 L576.9 548.6 L577.5 556 L578 476.7 L578.6 515.6 L579.1 529.1 L579.7 551.9 L580.2 540 L580.8 528.3 L581.3 517 L581.9 538.9 L582.4 502.5 L583 536.2 L583.5 505.5 L584.1 562 L584.6 518.8 L585.2 540 L585.7 576.1 L586.3 518.9 L586.8 546.7 L587.4 512 L587.9 577.3 L588.5 537.1 L589 528.7 L589.6 570.3 L590.1 543.5 L590.7 525.4 L591.2 489.8 L591.8 552.4" fill="none" stroke="#b22222" stroke-width="1.3" stroke-linejoin="round"/>
<line x1="89.5" y1="535.8" x2="1009.8" y2="535.8" stroke="#000" stroke-width="3.2" stroke-dasharray="3.26 5.38"/>
<circle transform="translate(135.3 533.6) scale(1 1.085)" r="6.42" fill="gray" stroke="#000" stroke-width="3.95"/>
<circle transform="translate(267.4 537.6) scale(1 1.085)" r="6.42" fill="gray" stroke="#000" stroke-width="3.95"/>
<circle transform="translate(457.0 540.3) scale(1 1.085)" r="6.42" fill="gray" stroke="#000" stroke-width="3.95"/>
<circle transform="translate(624.5 540.1) scale(1 1.085)" r="6.42" fill="gray" stroke="#000" stroke-width="3.95"/>
<circle transform="translate(889.5 532.4) scale(1 1.085)" r="6.42" fill="gray" stroke="#000" stroke-width="3.95"/>
</g>
<text transform="translate(733 480.7) scale(1 1.085)" font-size="26.0" text-anchor="start">Residuals</text>
<g clip-path="url(#cc)">
<path d="M174.6 672.4 L175.3 679.9 L176 686.3 L176.7 691.3 L177.4 695.3 L178.1 698.6 L178.8 700.9 L179.5 703 L180.2 704.7 L180.9 705.8 L181.6 706.1 L182.3 705.7 L183 704.9 L183.7 703.9 L184.4 702.7 L185.1 701.5 L185.8 700.3 L186.5 699.2 L187.2 698 L187.9 696.7 L188.6 695.3 L189.3 694.1 L190 693 L190.7 692.2 L191.4 691.7 L192.1 691.3 L192.8 690.8 L193.5 690.4 L194.2 690 L194.9 689.6 L195.6 689.3 L196.3 689 L197 688.7 L197.7 688.5 L198.4 688.3 L199.1 688.2 L199.8 688.1 L200.5 688.1 L201.2 688.1 L201.9 688.3 L202.6 688.5 L203.3 688.8 L204 689.1 L204.7 689.4 L205.4 689.9 L206.1 690.3 L206.8 690.7 L207.5 691.2 L208.2 691.6 L208.9 692.2 L209.6 692.8 L210.3 693.5 L211 694.2 L211.7 695 L212.4 695.9 L213.1 696.7 L213.8 697.6 L214.5 698.5 L215.2 699.3 L215.9 700.1 L216.6 700.8 L217.3 701.6 L218 702.3 L218.7 703.1 L219.4 703.9 L220.1 704.7 L220.8 705.5 L221.5 706.3 L222.2 707.1 L222.9 708 L223.6 708.8 L224.3 709.6 L225 710.4 L225.7 711.1 L226.4 711.9 L227.1 712.6 L227.8 713.3 L228.5 714 L229.2 714.7 L229.9 715.3 L230.6 716 L231.3 716.5 L232 717.1 L232.7 717.5 L233.4 718 L234.1 718.4 L234.8 718.8 L235.5 719.1 L236.2 719.5 L236.9 719.8 L237.6 720.1 L238.3 720.4 L239 720.8 L239.7 721.1 L240.4 721.4 L241.1 721.6 L241.8 721.9 L242.5 722.2 L243.2 722.5 L243.9 722.7 L244.6 723 L245.3 723.2 L246 723.5 L246.7 723.7 L247.4 724 L248.1 724.2 L248.8 724.4 L249.5 724.6 L250.2 724.8 L250.9 725 L251.6 725.2 L252.3 725.4 L253 725.6 L253.7 725.8 L254.4 726 L255.1 726.1 L255.8 726.3 L256.5 726.5 L257.2 726.6 L257.9 726.8 L258.6 727 L259.3 727.1 L260 727.2 L260.7 727.4 L261.4 727.5 L262.1 727.7 L262.8 727.8 L263.5 727.9 L264.2 728 L264.9 728.2 L265.6 728.3 L266.3 728.4 L267 728.5 L267.7 728.7 L268.4 728.8 L269.1 728.9 L269.8 729 L270.5 729.1 L271.2 729.3 L271.9 729.4 L272.6 729.5 L273.3 729.6 L274 729.7 L274.7 729.8 L275.4 729.9 L276.1 730 L276.8 730.1 L277.5 730.2 L278.2 730.3 L278.9 730.4 L279.6 730.5 L280.3 730.6 L281 730.6 L281.7 730.7 L282.4 730.8 L283.1 730.9 L283.8 731 L284.5 731.1 L285.2 731.1 L285.9 731.2 L286.6 731.3 L287.3 731.3 L288 731.4 L288.7 731.5 L289.4 731.5 L290.1 731.6 L290.8 731.7 L291.5 731.7 L292.2 731.8 L292.9 731.8 L293.6 731.9 L294.3 732 L295 732 L295.7 732 L296.4 732.1 L297.1 732.1 L297.8 732.2 L298.5 732.2 L299.2 732.2 L299.9 732.3 L300.6 732.3 L301.3 732.3 L302 732.4 L302.7 732.4 L303.4 732.4 L304.1 732.4 L304.8 732.5 L305.5 732.5 L306.2 732.5 L306.9 732.5 L307.6 732.6 L308.3 732.6 L309 732.6 L309.7 732.6 L310.4 732.7 L311.1 732.7 L311.8 732.7 L312.5 732.8 L313.2 732.8 L313.9 732.8 L314.6 732.9 L315.3 732.9 L316 733 L316.7 733 L317.4 733.1 L318.1 733.2 L318.8 733.2 L319.5 733.4 L320.2 733.5 L320.9 733.6 L321.6 733.8 L322.3 734 L323 734.2 L323.7 734.4 L324.4 734.6 L325.1 734.8 L325.8 735.1 L326.5 735.3 L327.2 735.6 L327.9 735.8 L328.6 736.1 L329.3 736.4 L330 736.7 L330.7 737 L331.4 737.3 L332.1 737.6 L332.8 737.9 L333.5 738.2 L334.2 738.5 L334.9 738.8 L335.6 739.1 L336.3 739.5 L337 739.8 L337.7 740.1 L338.4 740.4 L339.1 740.6 L339.8 740.9 L340.5 741.2 L341.2 741.5 L341.9 741.8 L342.6 742.1 L343.3 742.4 L344 742.8 L344.7 743.1 L345.4 743.5 L346.1 743.8 L346.8 744.2 L347.5 744.6 L348.2 744.9 L348.9 745.3 L349.6 745.7 L350.3 746 L351 746.4 L351.7 746.8 L352.4 747.1 L353.1 747.5 L353.8 747.8 L354.5 748.1 L355.2 748.5 L355.9 748.8 L356.6 749.1 L357.3 749.4 L358 749.7 L358.7 749.9 L359.4 750.2 L360.1 750.4 L360.8 750.7 L361.5 750.9 L362.2 751 L362.9 751.2 L363.6 751.3 L364.3 751.5 L365 751.7 L365.7 751.8 L366.4 752 L367.1 752.1 L367.8 752.3 L368.5 752.4 L369.2 752.6 L369.9 752.7 L370.6 752.9 L371.3 753 L372 753.1 L372.7 753.3 L373.4 753.4 L374.1 753.5 L374.8 753.6 L375.5 753.7 L376.2 753.8 L376.9 753.9 L377.6 754 L378.3 754.1 L379 754.2 L379.7 754.2 L380.4 754.3 L381.1 754.4 L381.8 754.4 L382.5 754.4 L383.2 754.5 L383.9 754.5 L384.6 754.5 L385.3 754.5 L386 754.5 L386.7 754.4 L387.4 754.4 L388.1 754.3 L388.8 754.2 L389.5 754.1 L390.2 754 L390.9 753.9 L391.6 753.7 L392.3 753.6 L393 753.4 L393.7 753.3 L394.4 753.1 L395.1 752.9 L395.8 752.7 L396.5 752.6 L397.2 752.4 L397.9 752.2 L398.6 752 L399.3 751.8 L400 751.6 L400.7 751.4 L401.4 751.2 L402.1 751.1 L402.8 750.9 L403.5 750.7 L404.2 750.6 L404.9 750.4 L405.6 750.3 L406.3 750.2 L407 750.1 L407.7 750 L408.4 749.9 L409.1 749.8 L409.8 749.7 L410.5 749.6 L411.2 749.5 L411.9 749.4 L412.6 749.3 L413.3 749.2 L414 749.1 L414.7 749 L415.4 748.9 L416.1 748.9 L416.8 748.8 L417.5 748.7 L418.2 748.6 L418.9 748.5 L419.6 748.4 L420.3 748.4 L421 748.3 L421.7 748.2 L422.4 748.2 L423.1 748.1 L423.8 748 L424.5 748 L425.2 748 L425.9 747.9 L426.6 747.9 L427.3 747.8 L428 747.8 L428.7 747.8 L429.4 747.8 L430.1 747.8 L430.8 747.8 L431.5 747.9 L432.2 747.9 L432.9 748 L433.6 748.1 L434.3 748.2 L435 748.4 L435.7 748.5 L436.4 748.7 L437.1 748.9 L437.8 749.1 L438.5 749.3 L439.2 749.5 L439.9 749.7 L440.6 750 L441.3 750.2 L442 750.5 L442.7 750.7 L443.4 751 L444.1 751.3 L444.8 751.5 L445.5 751.8 L446.2 752.1 L446.9 752.4 L447.6 752.7 L448.3 752.9 L449 753.2 L449.7 753.5 L450.4 753.7 L451.1 754 L451.8 754.3 L452.5 754.5 L453.2 754.7 L453.9 755 L454.6 755.3 L455.3 755.6 L456 755.9 L456.7 756.2 L457.4 756.5 L458.1 756.8 L458.8 757.1 L459.5 757.4 L460.2 757.7 L460.9 758.1 L461.6 758.4 L462.3 758.7 L463 759.1 L463.7 759.4 L464.4 759.7 L465.1 760 L465.8 760.4 L466.5 760.7 L467.2 761 L467.9 761.3 L468.6 761.6 L469.3 761.8 L470 762.1 L470.7 762.3 L471.4 762.6 L472.1 762.8 L472.8 763 L473.5 763.2 L474.2 763.3 L474.9 763.5 L475.6 763.6 L476.3 763.7 L477 763.9 L477.7 764 L478.4 764.1 L479.1 764.3 L479.8 764.4 L480.5 764.5 L481.2 764.6 L481.9 764.8 L482.6 764.9 L483.3 765 L484 765.1 L484.7 765.2 L485.4 765.3 L486.1 765.4 L486.8 765.4 L487.5 765.5 L488.2 765.6 L488.9 765.6 L489.6 765.7 L490.3 765.7 L491 765.8 L491.7 765.8 L492.4 765.8 L493.1 765.8 L493.8 765.8 L494.5 765.8 L495.2 765.7 L495.9 765.6 L496.6 765.6 L497.3 765.5 L498 765.4 L498.7 765.2 L499.4 765.1 L500.1 765 L500.8 764.8 L501.5 764.7 L502.2 764.5 L502.9 764.4 L503.6 764.2 L504.3 764 L505 763.9 L505.7 763.7 L506.4 763.6 L507.1 763.4 L507.8 763.3 L508.5 763.2 L509.2 763 L509.9 762.9 L510.6 762.8 L511.3 762.6 L512 762.5 L512.7 762.3 L513.4 762.1 L514.1 762 L514.8 761.8 L515.5 761.6 L516.2 761.5 L516.9 761.3 L517.6 761.1 L518.3 761 L519 760.8 L519.7 760.6 L520.4 760.5 L521.1 760.3 L521.8 760.2 L522.5 760 L523.2 759.9 L523.9 759.8 L524.6 759.6 L525.3 759.5 L526 759.4 L526.7 759.3 L527.4 759.2 L528.1 759.2 L528.8 759.1 L529.5 759.1 L530.2 759 L530.9 759 L531.6 759 L532.3 759 L533 759.1 L533.7 759.1 L534.4 759.2 L535.1 759.3 L535.8 759.4 L536.5 759.5 L537.2 759.6 L537.9 759.8 L538.6 759.9 L539.3 760.1 L540 760.3 L540.7 760.5 L541.4 760.7 L542.1 760.9 L542.8 761.1 L543.5 761.3 L544.2 761.5 L544.9 761.7 L545.6 761.9 L546.3 762.2 L547 762.4 L547.7 762.6 L548.4 762.9 L549.1 763.2 L549.8 763.6 L550.5 763.9 L551.2 764.3 L551.9 764.7 L552.6 765.1 L553.3 765.6 L554 766.1 L554.7 766.5 L555.4 767.1 L556.1 767.6 L556.8 768.1 L557.5 768.6 L558.2 769.2 L558.9 769.8 L559.6 770.3 L560.3 770.9 L561 771.5 L561.7 772.1 L562.4 772.6 L563.1 773.2 L563.8 773.8 L564.5 774.4 L565.2 775 L565.9 775.5 L566.6 776.1 L567.3 776.7 L568 777.4 L568.7 778 L569.4 778.6 L570.1 779.3 L570.8 780 L571.5 780.6 L572.2 781.3 L572.9 782 L573.6 782.7 L574.3 783.4 L575 784.2 L575.7 784.9 L576.4 785.6 L577.1 786.4 L577.8 787.2 L578.5 787.9 L579.2 788.7 L579.9 789.5 L580.6 790.3 L581.3 791.1 L582 791.9 L582.7 792.7 L583.4 793.6 L584.1 794.4 L584.8 795.3 L585.5 796.2 L586.2 797.1 L586.9 798 L587.6 799 L588.3 799.9 L589 800.9 L589.7 801.9 L590.4 802.8 L591.1 803.8 L591.8 804.8 L591.8 839.8 L591.1 838.9 L590.4 838.1 L589.7 837.2 L589 836.4 L588.3 835.5 L587.6 834.7 L586.9 833.9 L586.2 833.1 L585.5 832.2 L584.8 831.4 L584.1 830.6 L583.4 829.8 L582.7 829 L582 828.2 L581.3 827.5 L580.6 826.7 L579.9 825.9 L579.2 825.1 L578.5 824.4 L577.8 823.6 L577.1 822.9 L576.4 822.1 L575.7 821.4 L575 820.6 L574.3 819.8 L573.6 819.1 L572.9 818.3 L572.2 817.6 L571.5 816.8 L570.8 816 L570.1 815.3 L569.4 814.5 L568.7 813.8 L568 813.1 L567.3 812.3 L566.6 811.6 L565.9 811 L565.2 810.3 L564.5 809.6 L563.8 809 L563.1 808.4 L562.4 807.8 L561.7 807.2 L561 806.7 L560.3 806.2 L559.6 805.6 L558.9 805.1 L558.2 804.6 L557.5 804.1 L556.8 803.6 L556.1 803 L555.4 802.5 L554.7 802 L554 801.5 L553.3 801 L552.6 800.5 L551.9 800.1 L551.2 799.6 L550.5 799.2 L549.8 798.8 L549.1 798.4 L548.4 798 L547.7 797.7 L547 797.4 L546.3 797.1 L545.6 796.8 L544.9 796.6 L544.2 796.4 L543.5 796.3 L542.8 796.1 L542.1 796.1 L541.4 796 L540.7 795.9 L540 795.8 L539.3 795.8 L538.6 795.7 L537.9 795.6 L537.2 795.6 L536.5 795.5 L535.8 795.5 L535.1 795.4 L534.4 795.4 L533.7 795.3 L533 795.3 L532.3 795.2 L531.6 795.2 L530.9 795.2 L530.2 795.1 L529.5 795.1 L528.8 795.1 L528.1 795.1 L527.4 795 L526.7 795 L526 795 L525.3 795 L524.6 795 L523.9 795 L523.2 795 L522.5 795.1 L521.8 795.1 L521.1 795.1 L520.4 795.2 L519.7 795.3 L519 795.4 L518.3 795.5 L517.6 795.6 L516.9 795.7 L516.2 795.8 L515.5 795.9 L514.8 796 L514.1 796.1 L513.4 796.3 L512.7 796.4 L512 796.5 L511.3 796.6 L510.6 796.8 L509.9 796.9 L509.2 797 L508.5 797.2 L507.8 797.3 L507.1 797.4 L506.4 797.5 L505.7 797.6 L505 797.8 L504.3 797.9 L503.6 798 L502.9 798 L502.2 798.1 L501.5 798.2 L500.8 798.3 L500.1 798.3 L499.4 798.4 L498.7 798.4 L498 798.4 L497.3 798.4 L496.6 798.4 L495.9 798.4 L495.2 798.4 L494.5 798.4 L493.8 798.3 L493.1 798.3 L492.4 798.3 L491.7 798.3 L491 798.2 L490.3 798.2 L489.6 798.1 L488.9 798.1 L488.2 798.1 L487.5 798 L486.8 798 L486.1 797.9 L485.4 797.8 L484.7 797.8 L484 797.7 L483.3 797.7 L482.6 797.6 L481.9 797.5 L481.2 797.5 L480.5 797.4 L479.8 797.3 L479.1 797.3 L478.4 797.2 L477.7 797.1 L477 796.9 L476.3 796.8 L475.6 796.7 L474.9 796.5 L474.2 796.3 L473.5 796.1 L472.8 795.9 L472.1 795.7 L471.4 795.5 L470.7 795.3 L470 795 L469.3 794.8 L468.6 794.5 L467.9 794.3 L467.2 794 L466.5 793.7 L465.8 793.5 L465.1 793.2 L464.4 792.9 L463.7 792.6 L463 792.3 L462.3 792 L461.6 791.7 L460.9 791.5 L460.2 791.2 L459.5 790.9 L458.8 790.6 L458.1 790.3 L457.4 790 L456.7 789.8 L456 789.5 L455.3 789.3 L454.6 789 L453.9 788.8 L453.2 788.5 L452.5 788.3 L451.8 788.1 L451.1 787.8 L450.4 787.6 L449.7 787.3 L449 787.1 L448.3 786.8 L447.6 786.5 L446.9 786.2 L446.2 786 L445.5 785.7 L444.8 785.4 L444.1 785.1 L443.4 784.8 L442.7 784.6 L442 784.3 L441.3 784 L440.6 783.8 L439.9 783.5 L439.2 783.3 L438.5 783 L437.8 782.8 L437.1 782.6 L436.4 782.4 L435.7 782.2 L435 782.1 L434.3 781.9 L433.6 781.8 L432.9 781.7 L432.2 781.6 L431.5 781.6 L430.8 781.5 L430.1 781.5 L429.4 781.5 L428.7 781.5 L428 781.5 L427.3 781.6 L426.6 781.6 L425.9 781.7 L425.2 781.8 L424.5 781.8 L423.8 781.9 L423.1 782 L422.4 782.1 L421.7 782.2 L421 782.3 L420.3 782.4 L419.6 782.6 L418.9 782.7 L418.2 782.8 L417.5 783 L416.8 783.1 L416.1 783.2 L415.4 783.4 L414.7 783.5 L414 783.6 L413.3 783.8 L412.6 783.9 L411.9 784.1 L411.2 784.2 L410.5 784.3 L409.8 784.5 L409.1 784.6 L408.4 784.7 L407.7 784.9 L407 785 L406.3 785.1 L405.6 785.3 L404.9 785.4 L404.2 785.6 L403.5 785.7 L402.8 785.9 L402.1 786.1 L401.4 786.3 L400.7 786.5 L400 786.6 L399.3 786.8 L398.6 787 L397.9 787.2 L397.2 787.4 L396.5 787.6 L395.8 787.7 L395.1 787.9 L394.4 788.1 L393.7 788.3 L393 788.4 L392.3 788.6 L391.6 788.7 L390.9 788.8 L390.2 788.9 L389.5 789.1 L388.8 789.2 L388.1 789.2 L387.4 789.3 L386.7 789.3 L386 789.4 L385.3 789.4 L384.6 789.4 L383.9 789.4 L383.2 789.4 L382.5 789.3 L381.8 789.3 L381.1 789.3 L380.4 789.2 L379.7 789.1 L379 789.1 L378.3 789 L377.6 788.9 L376.9 788.8 L376.2 788.7 L375.5 788.6 L374.8 788.5 L374.1 788.4 L373.4 788.3 L372.7 788.1 L372 788 L371.3 787.9 L370.6 787.7 L369.9 787.6 L369.2 787.4 L368.5 787.3 L367.8 787.2 L367.1 787 L366.4 786.9 L365.7 786.7 L365 786.5 L364.3 786.4 L363.6 786.2 L362.9 786.1 L362.2 785.9 L361.5 785.8 L360.8 785.6 L360.1 785.4 L359.4 785.1 L358.7 784.9 L358 784.6 L357.3 784.4 L356.6 784.1 L355.9 783.8 L355.2 783.5 L354.5 783.2 L353.8 782.9 L353.1 782.5 L352.4 782.2 L351.7 781.9 L351 781.6 L350.3 781.2 L349.6 780.9 L348.9 780.6 L348.2 780.2 L347.5 779.9 L346.8 779.6 L346.1 779.3 L345.4 779 L344.7 778.7 L344 778.4 L343.3 778.1 L342.6 777.8 L341.9 777.6 L341.2 777.4 L340.5 777.1 L339.8 776.9 L339.1 776.7 L338.4 776.5 L337.7 776.3 L337 776.1 L336.3 775.9 L335.6 775.7 L334.9 775.5 L334.2 775.3 L333.5 775.1 L332.8 774.9 L332.1 774.7 L331.4 774.5 L330.7 774.3 L330 774.1 L329.3 773.9 L328.6 773.7 L327.9 773.5 L327.2 773.4 L326.5 773.2 L325.8 773.1 L325.1 772.9 L324.4 772.8 L323.7 772.7 L323 772.5 L322.3 772.4 L321.6 772.4 L320.9 772.3 L320.2 772.2 L319.5 772.2 L318.8 772.1 L318.1 772.1 L317.4 772.1 L316.7 772.1 L316 772.1 L315.3 772.1 L314.6 772.1 L313.9 772.1 L313.2 772.1 L312.5 772.1 L311.8 772.1 L311.1 772.1 L310.4 772.1 L309.7 772.2 L309 772.2 L308.3 772.2 L307.6 772.2 L306.9 772.2 L306.2 772.2 L305.5 772.2 L304.8 772.2 L304.1 772.2 L303.4 772.3 L302.7 772.3 L302 772.3 L301.3 772.3 L300.6 772.3 L299.9 772.3 L299.2 772.3 L298.5 772.3 L297.8 772.4 L297.1 772.4 L296.4 772.4 L295.7 772.4 L295 772.4 L294.3 772.4 L293.6 772.4 L292.9 772.4 L292.2 772.4 L291.5 772.4 L290.8 772.5 L290.1 772.5 L289.4 772.5 L288.7 772.5 L288 772.5 L287.3 772.5 L286.6 772.5 L285.9 772.5 L285.2 772.5 L284.5 772.5 L283.8 772.5 L283.1 772.5 L282.4 772.5 L281.7 772.5 L281 772.5 L280.3 772.5 L279.6 772.5 L278.9 772.5 L278.2 772.5 L277.5 772.4 L276.8 772.4 L276.1 772.4 L275.4 772.4 L274.7 772.4 L274 772.4 L273.3 772.3 L272.6 772.3 L271.9 772.3 L271.2 772.3 L270.5 772.2 L269.8 772.2 L269.1 772.2 L268.4 772.2 L267.7 772.1 L267 772.1 L266.3 772.1 L265.6 772 L264.9 772 L264.2 772 L263.5 771.9 L262.8 771.9 L262.1 771.9 L261.4 771.8 L260.7 771.8 L260 771.7 L259.3 771.7 L258.6 771.7 L257.9 771.6 L257.2 771.6 L256.5 771.5 L255.8 771.5 L255.1 771.4 L254.4 771.4 L253.7 771.3 L253 771.3 L252.3 771.2 L251.6 771.1 L250.9 771 L250.2 770.9 L249.5 770.8 L248.8 770.7 L248.1 770.6 L247.4 770.4 L246.7 770.3 L246 770.1 L245.3 770 L244.6 769.8 L243.9 769.6 L243.2 769.5 L242.5 769.3 L241.8 769.1 L241.1 768.9 L240.4 768.7 L239.7 768.5 L239 768.3 L238.3 768 L237.6 767.8 L236.9 767.6 L236.2 767.3 L235.5 767.1 L234.8 766.8 L234.1 766.6 L233.4 766.3 L232.7 766.1 L232 765.8 L231.3 765.5 L230.6 765.2 L229.9 764.8 L229.2 764.4 L228.5 764 L227.8 763.5 L227.1 763 L226.4 762.5 L225.7 762 L225 761.4 L224.3 760.9 L223.6 760.3 L222.9 759.7 L222.2 759.1 L221.5 758.5 L220.8 758 L220.1 757.4 L219.4 756.8 L218.7 756.3 L218 755.7 L217.3 755.2 L216.6 754.7 L215.9 754.2 L215.2 753.7 L214.5 753.2 L213.8 752.6 L213.1 752 L212.4 751.4 L211.7 750.8 L211 750.2 L210.3 749.7 L209.6 749.1 L208.9 748.5 L208.2 748 L207.5 747.5 L206.8 747 L206.1 746.6 L205.4 746.2 L204.7 745.8 L204 745.5 L203.3 745.3 L202.6 745.2 L201.9 745.1 L201.2 745.1 L200.5 745.3 L199.8 745.5 L199.1 745.9 L198.4 746.4 L197.7 747 L197 747.6 L196.3 748.3 L195.6 749.1 L194.9 749.9 L194.2 750.8 L193.5 751.7 L192.8 752.6 L192.1 753.4 L191.4 754.3 L190.7 755.2 L190 756 L189.3 756.8 L188.6 757.6 L187.9 758.5 L187.2 759.5 L186.5 760.4 L185.8 761.2 L185.1 761.9 L184.4 762.5 L183.7 763.1 L183 763.6 L182.3 763.9 L181.6 764 L180.9 763.6 L180.2 762.8 L179.5 761.8 L178.8 760.6 L178.1 758.9 L177.4 756.5 L176.7 753.6 L176 749.9 L175.3 743.8 L174.6 732 Z" fill="#b22222" fill-opacity="0.65" stroke="#b22222" stroke-opacity="0.65" stroke-width="1.7" stroke-linejoin="round"/>
<line x1="89.5" y1="799.2" x2="1009.8" y2="799.2" stroke="#000" stroke-width="3.2" stroke-dasharray="3.26 5.38"/>
</g>
<text transform="translate(622.5 710.1) scale(1 1.085)" font-size="26.0" text-anchor="start">Calibration vector:</text>
<text transform="translate(622.5 737.4) scale(1 1.085)" font-size="26.0" textLength="329" lengthAdjust="spacingAndGlyphs"><tspan font-style="italic">F</tspan><tspan font-style="italic" font-size="18.4" dy="4">&#957;</tspan><tspan dy="-4">(model) = </tspan><tspan font-style="italic">C</tspan>(<tspan font-style="italic">&#955;</tspan>) &#183; <tspan font-style="italic">F</tspan><tspan font-style="italic" font-size="18.4" dy="4">&#957;</tspan><tspan dy="-4">(intrinsic)</tspan></text>
<rect x="89.5" y="2.3" width="920.3" height="404.5" fill="none" stroke="#000" stroke-width="1.8"/>
<line x1="208.1" y1="406.8" x2="208.1" y2="414.3" stroke="#000" stroke-width="1.8"/>
<line x1="378.6" y1="406.8" x2="378.6" y2="414.3" stroke="#000" stroke-width="1.8"/>
<line x1="549.1" y1="406.8" x2="549.1" y2="414.3" stroke="#000" stroke-width="1.8"/>
<line x1="719.7" y1="406.8" x2="719.7" y2="414.3" stroke="#000" stroke-width="1.8"/>
<line x1="890.2" y1="406.8" x2="890.2" y2="414.3" stroke="#000" stroke-width="1.8"/>
<rect x="89.5" y="443.8" width="920.3" height="183.9" fill="none" stroke="#000" stroke-width="1.8"/>
<line x1="208.1" y1="627.7" x2="208.1" y2="635.2" stroke="#000" stroke-width="1.8"/>
<line x1="378.6" y1="627.7" x2="378.6" y2="635.2" stroke="#000" stroke-width="1.8"/>
<line x1="549.1" y1="627.7" x2="549.1" y2="635.2" stroke="#000" stroke-width="1.8"/>
<line x1="719.7" y1="627.7" x2="719.7" y2="635.2" stroke="#000" stroke-width="1.8"/>
<line x1="890.2" y1="627.7" x2="890.2" y2="635.2" stroke="#000" stroke-width="1.8"/>
<rect x="89.5" y="664.2" width="920.3" height="183.8" fill="none" stroke="#000" stroke-width="1.8"/>
<line x1="208.1" y1="848.0" x2="208.1" y2="855.5" stroke="#000" stroke-width="1.8"/>
<line x1="378.6" y1="848.0" x2="378.6" y2="855.5" stroke="#000" stroke-width="1.8"/>
<line x1="549.1" y1="848.0" x2="549.1" y2="855.5" stroke="#000" stroke-width="1.8"/>
<line x1="719.7" y1="848.0" x2="719.7" y2="855.5" stroke="#000" stroke-width="1.8"/>
<line x1="890.2" y1="848.0" x2="890.2" y2="855.5" stroke="#000" stroke-width="1.8"/>
<line x1="82.0" y1="377.9" x2="89.5" y2="377.9" stroke="#000" stroke-width="1.8"/>
<text transform="translate(73.6 387.5) scale(1 1.085)" font-size="26.0" text-anchor="end">0.2</text>
<line x1="82.0" y1="320.1" x2="89.5" y2="320.1" stroke="#000" stroke-width="1.8"/>
<text transform="translate(73.6 329.7) scale(1 1.085)" font-size="26.0" text-anchor="end">0.4</text>
<line x1="82.0" y1="262.3" x2="89.5" y2="262.3" stroke="#000" stroke-width="1.8"/>
<text transform="translate(73.6 271.9) scale(1 1.085)" font-size="26.0" text-anchor="end">0.6</text>
<line x1="82.0" y1="204.6" x2="89.5" y2="204.6" stroke="#000" stroke-width="1.8"/>
<text transform="translate(73.6 214.2) scale(1 1.085)" font-size="26.0" text-anchor="end">0.8</text>
<line x1="82.0" y1="146.8" x2="89.5" y2="146.8" stroke="#000" stroke-width="1.8"/>
<text transform="translate(73.6 156.4) scale(1 1.085)" font-size="26.0" text-anchor="end">1.0</text>
<line x1="82.0" y1="89" x2="89.5" y2="89" stroke="#000" stroke-width="1.8"/>
<text transform="translate(73.6 98.6) scale(1 1.085)" font-size="26.0" text-anchor="end">1.2</text>
<line x1="82.0" y1="31.2" x2="89.5" y2="31.2" stroke="#000" stroke-width="1.8"/>
<text transform="translate(73.6 40.8) scale(1 1.085)" font-size="26.0" text-anchor="end">1.4</text>
<line x1="82.0" y1="601.4" x2="89.5" y2="601.4" stroke="#000" stroke-width="1.8"/>
<text transform="translate(73.6 611) scale(1 1.085)" font-size="26.0" text-anchor="end">&#8722;5</text>
<line x1="82.0" y1="535.8" x2="89.5" y2="535.8" stroke="#000" stroke-width="1.8"/>
<text transform="translate(73.6 545.4) scale(1 1.085)" font-size="26.0" text-anchor="end">0</text>
<line x1="82.0" y1="470.1" x2="89.5" y2="470.1" stroke="#000" stroke-width="1.8"/>
<text transform="translate(73.6 479.7) scale(1 1.085)" font-size="26.0" text-anchor="end">5</text>
<line x1="82.0" y1="799.2" x2="89.5" y2="799.2" stroke="#000" stroke-width="1.8"/>
<text transform="translate(73.6 808.9) scale(1 1.085)" font-size="26.0" text-anchor="end">1.0</text>
<line x1="82.0" y1="727.1" x2="89.5" y2="727.1" stroke="#000" stroke-width="1.8"/>
<text transform="translate(73.6 736.7) scale(1 1.085)" font-size="26.0" text-anchor="end">1.1</text>
<text transform="translate(208.1 881.5) scale(1 1.085)" font-size="26.0" text-anchor="middle">0.4</text>
<text transform="translate(378.6 881.5) scale(1 1.085)" font-size="26.0" text-anchor="middle">0.5</text>
<text transform="translate(549.1 881.5) scale(1 1.085)" font-size="26.0" text-anchor="middle">0.6</text>
<text transform="translate(719.7 881.5) scale(1 1.085)" font-size="26.0" text-anchor="middle">0.7</text>
<text transform="translate(890.2 881.5) scale(1 1.085)" font-size="26.0" text-anchor="middle">0.8</text>
<text transform="translate(549.6 914.8) scale(1 1.085)" font-size="26.0" text-anchor="middle"><tspan font-style="italic">&#955;</tspan>(<tspan font-style="italic">&#956;</tspan>m)</text>
<text transform="translate(25.9 205) scale(1 1.085) rotate(-90)" font-size="26.0" text-anchor="middle" textLength="140.7" lengthAdjust="spacingAndGlyphs"><tspan font-style="italic">&#957;f</tspan><tspan font-style="italic" font-size="18.4" dy="4">&#957;</tspan><tspan dy="-4"> </tspan><tspan font-size="33" dy="3.8">&#215;</tspan><tspan dy="-3.8"> Constant</tspan></text>
<text transform="translate(27 756) scale(1 1.085) rotate(-90)" font-size="26.0" text-anchor="middle" textLength="41.8" lengthAdjust="spacingAndGlyphs"><tspan font-style="italic">C</tspan>(<tspan font-style="italic">&#955;</tspan>)</text>
<text transform="translate(25.6 617) scale(1 1.085) rotate(-90)" font-size="26.0" text-anchor="start" font-style="italic">&#967;</text>
<text transform="translate(29.9 600.5) scale(1 1.085) rotate(-90)" font-size="18" text-anchor="start">best</text>
<text transform="translate(26.5 569) scale(1 1.085) rotate(-90)" font-size="30" text-anchor="start" textLength="8.3" lengthAdjust="spacingAndGlyphs">(</text>
<text transform="translate(15.6 558.5) scale(1 1.085) rotate(-90)" font-size="16.5" text-anchor="start" textLength="84.8" lengthAdjust="spacingAndGlyphs">model &#8722; data</text>
<line x1="20.9" y1="465" x2="20.9" y2="559.5" stroke="#000" stroke-width="1.2"/>
<text transform="translate(31.8 516.8) scale(1 1.085) rotate(-90)" font-size="17" text-anchor="start" font-style="italic">&#963;</text>
<text transform="translate(26.5 463.5) scale(1 1.085) rotate(-90)" font-size="30" text-anchor="start" textLength="8.3" lengthAdjust="spacingAndGlyphs">)</text>
<path d="M1227.9 274.9 L1227.9 274.5 L1230 274.5 L1232.1 274.5 L1234.1 274.3 L1236.1 274 L1237.9 273.6 L1239.7 273.1 L1241.5 272.5 L1243.2 271.8 L1244.9 271 L1246.5 270.2 L1248.1 269.2 L1249.7 268.3 L1251.3 267.2 L1252.9 266.1 L1254.5 265 L1256 263.7 L1257.6 262.5 L1259.1 261.2 L1260.5 259.8 L1262 258.4 L1263.4 257 L1264.7 255.5 L1266.1 254 L1267.3 252.5 L1268.5 250.9 L1269.7 249.3 L1270.8 247.7 L1271.8 246 L1272.7 244.4 L1273.6 242.7 L1274.4 240.9 L1275.2 239.2 L1275.9 237.4 L1276.6 235.7 L1277.2 233.9 L1277.8 232.1 L1278.3 230.3 L1278.9 228.4 L1279.3 226.6 L1279.8 224.7 L1280.2 222.9 L1280.6 221 L1281 219.1 L1281.4 217.2 L1281.7 215.3 L1282.1 213.4 L1282.4 211.5 L1282.8 209.6 L1283.1 207.7 L1283.5 205.8 L1283.8 203.9 L1284.2 202 L1284.6 200.1 L1285 198.1 L1285.3 196.2 L1285.7 194.3 L1286.1 192.4 L1286.6 190.5 L1287 188.6 L1287.4 186.7 L1287.8 184.8 L1288.2 182.9 L1288.7 181 L1289.1 179.2 L1289.5 177.3 L1290 175.4 L1290.4 173.5 L1290.8 171.6 L1291.3 169.7 L1291.7 167.8 L1292.2 166 L1292.6 164.1 L1293.1 162.2 L1293.5 160.3 L1293.9 158.5 L1294.4 156.6 L1294.8 154.7 L1295.3 152.9 L1295.7 151 L1296.2 149.1 L1296.6 147.3 L1297 145.4 L1297.5 143.5 L1297.9 141.6 L1298.3 139.8 L1298.7 137.9 L1299.2 136 L1299.6 134.1 L1300 132.3 L1300.4 130.4 L1300.8 128.5 L1301.2 126.6 L1301.6 124.7 L1302 122.8 L1302.4 120.9 L1302.7 119 L1303.1 117.1 L1303.5 115.2 L1303.8 113.3 L1304.2 111.4 L1304.5 109.5 L1304.9 107.6 L1305.2 105.6 L1305.5 103.7 L1305.9 101.8 L1306.2 99.8 L1306.5 97.9 L1306.8 96 L1307.1 94 L1307.4 92.1 L1307.7 90.1 L1308 88.2 L1308.2 86.3 L1308.5 84.3 L1308.8 82.4 L1309.1 80.5 L1309.4 78.5 L1309.7 76.6 L1309.9 74.7 L1310.2 72.8 L1310.5 70.9 L1310.8 69 L1311.1 67.1 L1311.4 65.2 L1311.7 63.3 L1312 61.4 L1312.3 59.6 L1312.6 57.7 L1313 55.9 L1313.3 54.1 L1313.6 52.2 L1314 50.4 L1314.4 48.6 L1314.7 46.9 L1315.1 45.1 L1315.5 43.3 L1315.9 41.4 L1316.4 39.6 L1316.9 37.7 L1317.4 35.8 L1317.9 33.8 L1318.5 31.8 L1319.1 29.8 L1319.8 27.6 L1320.5 25.4 L1321.2 23.1 L1322 21 L1322.9 19 L1323.7 17.5 L1324.6 16.5 L1325.4 16.2 L1326.2 16.8 L1327.1 18 L1327.9 19.7 L1328.6 21.8 L1329.3 24 L1330 26.3 L1330.5 28.5 L1331.1 30.6 L1331.5 32.8 L1332 34.9 L1332.3 36.9 L1332.7 38.9 L1333 40.9 L1333.2 42.8 L1333.4 44.8 L1333.6 46.7 L1333.8 48.6 L1334 50.4 L1334.1 52.3 L1334.3 54.2 L1334.4 56 L1334.5 57.9 L1334.6 59.7 L1334.8 61.5 L1334.9 63.4 L1335 65.3 L1335.2 67.1 L1335.3 69 L1335.5 70.9 L1335.6 72.7 L1335.8 74.6 L1336 76.5 L1336.1 78.4 L1336.3 80.3 L1336.5 82.2 L1336.6 84.1 L1336.8 86 L1337 87.9 L1337.2 89.8 L1337.4 91.7 L1337.6 93.6 L1337.8 95.5 L1338 97.5 L1338.2 99.4 L1338.4 101.3 L1338.6 103.2 L1338.8 105.2 L1339 107.1 L1339.2 109 L1339.5 111 L1339.7 112.9 L1339.9 114.8 L1340.1 116.8 L1340.3 118.7 L1340.6 120.6 L1340.8 122.6 L1341 124.5 L1341.3 126.5 L1341.5 128.4 L1341.7 130.4 L1342 132.3 L1342.2 134.2 L1342.5 136.2 L1342.7 138.1 L1342.9 140.1 L1343.2 142 L1343.4 144 L1343.7 145.9 L1343.9 147.8 L1344.2 149.8 L1344.4 151.7 L1344.7 153.7 L1344.9 155.6 L1345.2 157.5 L1345.4 159.5 L1345.7 161.4 L1345.9 163.3 L1346.2 165.3 L1346.4 167.2 L1346.7 169.1 L1346.9 171 L1347.2 172.9 L1347.4 174.9 L1347.6 176.8 L1347.9 178.7 L1348.1 180.6 L1348.4 182.5 L1348.6 184.4 L1348.9 186.3 L1349.2 188.2 L1349.4 190.1 L1349.7 192 L1350 193.9 L1350.2 195.8 L1350.5 197.7 L1350.8 199.6 L1351.1 201.5 L1351.4 203.4 L1351.7 205.3 L1352.1 207.2 L1352.4 209.1 L1352.7 211 L1353.1 212.8 L1353.5 214.7 L1353.8 216.6 L1354.2 218.5 L1354.6 220.4 L1355.1 222.3 L1355.5 224.2 L1355.9 226 L1356.4 227.9 L1356.9 229.8 L1357.3 231.7 L1357.9 233.6 L1358.4 235.5 L1358.9 237.3 L1359.5 239.2 L1360.1 241.1 L1360.7 243 L1361.3 244.9 L1361.9 246.7 L1362.7 248.6 L1363.4 250.4 L1364.2 252.2 L1365.1 253.9 L1366 255.6 L1367 257.2 L1368.1 258.8 L1369.3 260.4 L1370.5 261.8 L1371.9 263.2 L1373.3 264.6 L1374.7 265.8 L1376.3 267 L1377.9 268.1 L1379.5 269.1 L1381.2 270.1 L1383 270.9 L1384.8 271.7 L1386.6 272.4 L1388.5 272.9 L1390.4 273.4 L1392.3 273.8 L1394.2 274.1 L1396.2 274.2 L1398.2 274.3 L1400.1 274.4 L1402 274.5 L1402 274.9 Z" fill="#ff8c00" fill-opacity="0.65"/>
<path d="M1478.1 561.1 L1478.1 560.6 L1479.9 560.7 L1481.7 560.6 L1483.5 560.3 L1485.4 559.9 L1487.2 559.4 L1489.1 558.7 L1490.9 558 L1492.7 557.1 L1494.5 556.2 L1496.3 555.1 L1498 554 L1499.7 552.9 L1501.3 551.6 L1502.8 550.3 L1504.3 549 L1505.7 547.6 L1507.1 546.2 L1508.4 544.8 L1509.6 543.3 L1510.8 541.8 L1511.9 540.3 L1513 538.7 L1514 537.1 L1515 535.4 L1515.9 533.8 L1516.8 532.1 L1517.6 530.4 L1518.4 528.6 L1519.2 526.9 L1519.9 525.1 L1520.6 523.3 L1521.3 521.5 L1521.9 519.7 L1522.5 517.9 L1523.1 516 L1523.7 514.2 L1524.2 512.3 L1524.8 510.5 L1525.3 508.6 L1525.8 506.7 L1526.3 504.9 L1526.8 503 L1527.2 501.1 L1527.7 499.2 L1528.2 497.3 L1528.6 495.4 L1529 493.6 L1529.5 491.7 L1529.9 489.8 L1530.3 487.9 L1530.7 486 L1531 484.1 L1531.4 482.2 L1531.8 480.3 L1532.2 478.4 L1532.5 476.5 L1532.9 474.6 L1533.2 472.7 L1533.5 470.7 L1533.9 468.8 L1534.2 466.9 L1534.5 465 L1534.8 463.1 L1535.1 461.2 L1535.4 459.3 L1535.7 457.4 L1536 455.4 L1536.3 453.5 L1536.6 451.6 L1536.9 449.7 L1537.2 447.8 L1537.5 445.9 L1537.7 443.9 L1538 442 L1538.3 440.1 L1538.6 438.2 L1538.8 436.3 L1539.1 434.3 L1539.4 432.4 L1539.6 430.5 L1539.9 428.6 L1540.2 426.7 L1540.4 424.8 L1540.7 422.9 L1541 420.9 L1541.3 419 L1541.5 417.1 L1541.8 415.2 L1542.1 413.3 L1542.4 411.4 L1542.7 409.5 L1542.9 407.6 L1543.2 405.7 L1543.5 403.8 L1543.8 401.9 L1544.1 400 L1544.4 398.1 L1544.7 396.2 L1545.1 394.3 L1545.4 392.4 L1545.7 390.5 L1546 388.6 L1546.3 386.7 L1546.6 384.8 L1547 382.9 L1547.3 381 L1547.6 379.1 L1547.9 377.2 L1548.2 375.3 L1548.5 373.4 L1548.8 371.5 L1549.1 369.6 L1549.4 367.7 L1549.7 365.8 L1550 363.9 L1550.3 361.9 L1550.6 360 L1550.8 358.1 L1551.1 356.1 L1551.3 354.2 L1551.6 352.2 L1551.8 350.3 L1552 348.3 L1552.2 346.3 L1552.4 344.4 L1552.6 342.4 L1552.8 340.4 L1553 338.4 L1553.3 336.5 L1553.6 334.6 L1554 332.7 L1554.6 330.9 L1555.3 329.2 L1556.1 327.6 L1557.2 326.1 L1558.5 324.7 L1559.8 323.4 L1561.1 321.9 L1562.3 320.4 L1563.3 318.6 L1564.1 316.7 L1564.9 314.8 L1565.6 312.8 L1566.3 310.8 L1567 308.9 L1567.8 307.2 L1568.8 305.6 L1569.8 304.3 L1571 303.5 L1572.1 303.3 L1573.1 303.8 L1574.1 305 L1575 306.6 L1575.9 308.6 L1576.7 310.8 L1577.4 313.1 L1578.1 315.5 L1578.7 317.7 L1579.2 319.9 L1579.7 322 L1580.1 324 L1580.5 326 L1580.8 327.9 L1581.1 329.7 L1581.4 331.5 L1581.7 333.3 L1582 335.1 L1582.3 336.9 L1582.6 338.6 L1582.9 340.4 L1583.2 342.2 L1583.6 344 L1583.9 345.8 L1584.3 347.6 L1584.7 349.5 L1585.1 351.3 L1585.6 353.2 L1586 355 L1586.5 356.9 L1587 358.8 L1587.4 360.7 L1587.9 362.5 L1588.4 364.4 L1588.9 366.3 L1589.4 368.2 L1589.9 370.1 L1590.4 372 L1590.9 373.9 L1591.4 375.8 L1591.9 377.7 L1592.4 379.6 L1592.8 381.5 L1593.3 383.4 L1593.8 385.3 L1594.2 387.2 L1594.7 389.1 L1595.1 391 L1595.6 392.9 L1596.1 394.8 L1596.5 396.7 L1596.9 398.6 L1597.4 400.4 L1597.8 402.3 L1598.3 404.2 L1598.7 406.1 L1599.1 408 L1599.5 409.9 L1600 411.8 L1600.4 413.6 L1600.8 415.5 L1601.2 417.4 L1601.6 419.3 L1602.1 421.2 L1602.5 423.1 L1602.9 424.9 L1603.3 426.8 L1603.7 428.7 L1604.1 430.6 L1604.5 432.5 L1604.9 434.3 L1605.3 436.2 L1605.7 438.1 L1606.1 440 L1606.5 441.9 L1606.9 443.7 L1607.3 445.6 L1607.7 447.5 L1608.1 449.4 L1608.5 451.3 L1608.9 453.2 L1609.3 455 L1609.7 456.9 L1610.1 458.8 L1610.5 460.7 L1610.9 462.6 L1611.3 464.5 L1611.7 466.3 L1612.1 468.2 L1612.5 470.1 L1612.9 472 L1613.3 473.9 L1613.8 475.7 L1614.2 477.6 L1614.7 479.5 L1615.1 481.4 L1615.6 483.2 L1616.1 485.1 L1616.5 487 L1617 488.8 L1617.5 490.7 L1618.1 492.5 L1618.6 494.4 L1619.1 496.2 L1619.7 498.1 L1620.3 499.9 L1620.9 501.8 L1621.5 503.6 L1622.1 505.4 L1622.7 507.2 L1623.4 509.1 L1624.1 510.9 L1624.7 512.7 L1625.5 514.5 L1626.2 516.3 L1626.9 518.1 L1627.7 519.9 L1628.5 521.7 L1629.3 523.4 L1630.1 525.2 L1631 527 L1631.9 528.7 L1632.8 530.5 L1633.7 532.2 L1634.7 534 L1635.7 535.7 L1636.7 537.4 L1637.7 539.1 L1638.8 540.7 L1639.9 542.3 L1641.1 543.9 L1642.3 545.4 L1643.5 546.9 L1644.8 548.4 L1646.1 549.8 L1647.4 551.1 L1648.9 552.3 L1650.3 553.5 L1651.8 554.6 L1653.4 555.7 L1655 556.6 L1656.7 557.5 L1658.4 558.3 L1660.2 558.9 L1662 559.5 L1663.9 560 L1665.9 560.3 L1667.9 560.6 L1670 560.7 L1672.2 560.7 L1672.2 561.1 Z" fill="#ff8c00" fill-opacity="0.65"/>
<path d="M1752 847.8 L1752 847.2 L1754 847.4 L1756 847.4 L1757.9 847.3 L1759.9 847.1 L1761.9 846.8 L1763.8 846.5 L1765.7 846 L1767.6 845.4 L1769.5 844.8 L1771.4 844.1 L1773.2 843.3 L1775 842.4 L1776.8 841.4 L1778.5 840.4 L1780.2 839.4 L1781.9 838.2 L1783.5 837 L1785.1 835.8 L1786.6 834.5 L1788.1 833.2 L1789.6 831.8 L1791 830.4 L1792.3 828.9 L1793.6 827.4 L1794.9 825.9 L1796.1 824.4 L1797.2 822.8 L1798.3 821.2 L1799.4 819.6 L1800.4 817.9 L1801.4 816.2 L1802.3 814.5 L1803.2 812.8 L1804.1 811.1 L1804.9 809.3 L1805.7 807.5 L1806.4 805.7 L1807.2 803.9 L1807.9 802 L1808.5 800.2 L1809.2 798.3 L1809.8 796.4 L1810.4 794.5 L1811 792.6 L1811.6 790.7 L1812.1 788.8 L1812.6 786.8 L1813.1 784.9 L1813.6 782.9 L1814.1 781 L1814.6 779 L1815.1 777.1 L1815.5 775.1 L1816 773.2 L1816.4 771.2 L1816.9 769.3 L1817.3 767.3 L1817.8 765.4 L1818.3 763.4 L1818.7 761.5 L1819.2 759.5 L1819.6 757.6 L1820.1 755.7 L1820.5 753.7 L1821 751.8 L1821.4 749.9 L1821.9 747.9 L1822.3 746 L1822.8 744.1 L1823.2 742.2 L1823.7 740.3 L1824.1 738.4 L1824.6 736.4 L1825 734.5 L1825.4 732.6 L1825.9 730.7 L1826.3 728.8 L1826.7 726.9 L1827.2 725 L1827.6 723 L1828 721.1 L1828.4 719.2 L1828.8 717.3 L1829.3 715.4 L1829.7 713.5 L1830.1 711.5 L1830.5 709.6 L1830.9 707.7 L1831.2 705.8 L1831.6 703.9 L1832 701.9 L1832.4 700 L1832.8 698.1 L1833.1 696.2 L1833.5 694.2 L1833.9 692.3 L1834.2 690.4 L1834.6 688.4 L1834.9 686.5 L1835.3 684.5 L1835.6 682.6 L1835.9 680.6 L1836.2 678.7 L1836.6 676.7 L1836.9 674.8 L1837.2 672.8 L1837.5 670.8 L1837.8 668.9 L1838.1 666.9 L1838.4 664.9 L1838.6 662.9 L1838.9 660.9 L1839.2 658.9 L1839.4 656.9 L1839.7 654.9 L1839.9 652.9 L1840.2 650.9 L1840.4 648.9 L1840.6 646.9 L1840.8 644.8 L1841 642.8 L1841.2 640.8 L1841.5 638.7 L1841.7 636.7 L1842 634.7 L1842.3 632.7 L1842.7 630.8 L1843.1 628.9 L1843.5 627 L1844.1 625.1 L1844.7 623.3 L1845.4 621.6 L1846.2 619.9 L1847.1 618.2 L1848.1 616.7 L1849.2 615.1 L1850.3 613.6 L1851.5 612.1 L1852.6 610.5 L1853.7 608.7 L1854.7 606.9 L1855.7 605 L1856.6 603.1 L1857.5 601.1 L1858.4 599.1 L1859.3 597.2 L1860.2 595.4 L1861.2 593.7 L1862.3 592.2 L1863.5 591 L1864.7 590.2 L1865.9 590 L1867.3 590.3 L1868.6 591.2 L1870 592.4 L1871.3 593.9 L1872.6 595.5 L1873.8 597.2 L1875 598.9 L1876.1 600.7 L1877.1 602.5 L1878.1 604.3 L1879 606.1 L1879.9 607.9 L1880.7 609.8 L1881.4 611.7 L1882.1 613.5 L1882.8 615.4 L1883.4 617.3 L1883.9 619.2 L1884.5 621.1 L1885 623.1 L1885.5 625 L1885.9 626.9 L1886.4 628.8 L1886.8 630.8 L1887.2 632.7 L1887.6 634.6 L1888 636.6 L1888.4 638.5 L1888.8 640.5 L1889.3 642.4 L1889.7 644.3 L1890.1 646.2 L1890.5 648.2 L1890.9 650.1 L1891.3 652 L1891.8 653.9 L1892.2 655.9 L1892.6 657.8 L1893 659.7 L1893.5 661.6 L1893.9 663.6 L1894.3 665.5 L1894.8 667.4 L1895.2 669.3 L1895.6 671.2 L1896.1 673.1 L1896.5 675.1 L1897 677 L1897.4 678.9 L1897.8 680.8 L1898.3 682.7 L1898.7 684.6 L1899.1 686.5 L1899.6 688.5 L1900 690.4 L1900.5 692.3 L1900.9 694.2 L1901.3 696.1 L1901.8 698 L1902.2 700 L1902.7 701.9 L1903.1 703.8 L1903.5 705.7 L1904 707.6 L1904.4 709.5 L1904.9 711.5 L1905.3 713.4 L1905.7 715.3 L1906.2 717.2 L1906.6 719.2 L1907 721.1 L1907.4 723 L1907.9 725 L1908.3 726.9 L1908.7 728.8 L1909.2 730.8 L1909.6 732.7 L1910 734.6 L1910.4 736.6 L1910.8 738.5 L1911.2 740.5 L1911.7 742.4 L1912.1 744.3 L1912.5 746.3 L1912.9 748.2 L1913.3 750.2 L1913.7 752.2 L1914.1 754.1 L1914.5 756.1 L1914.9 758 L1915.3 760 L1915.7 762 L1916.1 763.9 L1916.5 765.9 L1916.9 767.9 L1917.3 769.8 L1917.7 771.8 L1918.1 773.7 L1918.5 775.7 L1919 777.7 L1919.4 779.6 L1919.9 781.5 L1920.4 783.5 L1920.9 785.4 L1921.4 787.3 L1921.9 789.2 L1922.4 791.1 L1923 793 L1923.6 794.9 L1924.1 796.8 L1924.8 798.7 L1925.4 800.5 L1926.1 802.4 L1926.7 804.2 L1927.4 806 L1928.2 807.8 L1928.9 809.6 L1929.7 811.4 L1930.6 813.2 L1931.4 814.9 L1932.3 816.7 L1933.2 818.4 L1934.1 820.1 L1935.1 821.8 L1936.1 823.4 L1937.2 825.1 L1938.3 826.7 L1939.4 828.3 L1940.6 829.9 L1941.8 831.5 L1943.1 833 L1944.4 834.5 L1945.7 836 L1947.1 837.5 L1948.5 839 L1950 840.4 L1951.5 841.7 L1953.1 843 L1954.7 844.2 L1956.4 845.2 L1958.2 846.1 L1960 846.8 L1961.9 847.4 L1963.8 847.7 L1965.8 847.8 L1967.9 847.6 L1970.1 847.2 L1970.1 847.8 Z" fill="#ff8c00" fill-opacity="0.65"/>
<path d="M1289.7 380.9 L1290.6 381 L1291.6 381.3 L1292.5 381.7 L1293.5 382.3 L1294.4 383 L1295.3 383.7 L1296.3 384.5 L1297.2 385.3 L1298.1 386.1 L1299.1 386.8 L1300 387.4 L1301 388 L1301.9 388.4 L1302.9 388.7 L1303.9 388.8 L1304.9 388.7 L1306 388.5 L1307 388.2 L1308 387.9 L1309.1 387.5 L1310.2 387.2 L1311.2 386.9 L1312.3 386.7 L1313.3 386.6 L1314.4 386.6 L1315.4 386.6 L1316.5 386.8 L1317.5 387 L1318.5 387.4 L1319.6 387.7 L1320.6 388.2 L1321.6 388.7 L1322.6 389.2 L1323.6 389.8 L1324.6 390.5 L1325.5 391.2 L1326.5 391.9 L1327.4 392.7 L1328.3 393.5 L1329.3 394.3 L1330.1 395.1 L1331 396 L1331.9 396.8 L1332.7 397.7 L1333.6 398.5 L1334.4 399.4 L1335.1 400.3 L1335.9 401.1 L1336.7 402 L1337.4 402.9 L1338.1 403.7 L1338.8 404.6 L1339.5 405.5 L1340.2 406.3 L1340.8 407.2 L1341.5 408.1 L1342.1 409 L1342.7 409.8 L1343.4 410.7 L1344 411.6 L1344.6 412.5 L1345.1 413.4 L1345.7 414.3 L1346.3 415.2 L1346.8 416.1 L1347.4 417 L1347.9 417.9 L1348.5 418.8 L1349 419.8 L1349.5 420.7 L1350 421.6 L1350.6 422.6 L1351.1 423.5 L1351.6 424.5 L1352.1 425.5 L1352.6 426.4 L1353.1 427.4 L1353.7 428.4 L1354.2 429.4 L1354.7 430.4 L1355.2 431.4 L1355.7 432.4 L1356.2 433.4 L1356.6 434.5 L1357.1 435.5 L1357.6 436.5 L1358 437.6 L1358.5 438.6 L1358.9 439.7 L1359.3 440.7 L1359.7 441.8 L1360.1 442.8 L1360.4 443.9 L1360.8 445 L1361.1 446 L1361.4 447.1 L1361.7 448.2 L1362 449.2 L1362.2 450.3 L1362.4 451.4 L1362.6 452.5 L1362.8 453.6 L1362.9 454.6 L1363.1 455.7 L1363.1 456.8 L1363.2 457.9 L1363.2 459 L1363.2 460 L1363.2 461.1 L1363.1 462.2 L1363 463.3 L1362.8 464.4 L1362.7 465.4 L1362.5 466.5 L1362.3 467.6 L1362 468.6 L1361.8 469.7 L1361.5 470.7 L1361.2 471.8 L1360.9 472.8 L1360.5 473.8 L1360.1 474.9 L1359.8 475.9 L1359.4 476.9 L1358.9 477.9 L1358.5 478.9 L1358.1 479.9 L1357.6 480.9 L1357.1 481.8 L1356.6 482.8 L1356.1 483.8 L1355.5 484.7 L1354.9 485.7 L1354.3 486.6 L1353.7 487.6 L1353.1 488.5 L1352.4 489.4 L1351.7 490.3 L1351 491.3 L1350.3 492.2 L1349.5 493.1 L1348.7 494 L1347.9 494.9 L1347.1 495.8 L1346.2 496.6 L1345.4 497.4 L1344.5 498.2 L1343.6 499 L1342.6 499.7 L1341.7 500.4 L1340.8 501 L1339.8 501.5 L1338.9 502 L1337.9 502.5 L1337 502.8 L1336 503.1 L1335.1 503.2 L1334.1 503.3 L1333.2 503.3 L1332.3 503.3 L1331.3 503.1 L1330.4 502.9 L1329.5 502.6 L1328.6 502.3 L1327.6 501.9 L1326.7 501.4 L1325.8 500.9 L1324.9 500.4 L1324 499.7 L1323.1 499.1 L1322.2 498.4 L1321.3 497.7 L1320.5 496.9 L1319.6 496.1 L1318.7 495.3 L1317.8 494.5 L1317 493.7 L1316.1 492.8 L1315.3 492 L1314.4 491.1 L1313.6 490.2 L1312.7 489.4 L1311.9 488.5 L1311.1 487.7 L1310.2 486.8 L1309.4 486 L1308.6 485.2 L1307.8 484.5 L1307 483.7 L1306.2 483 L1305.4 482.2 L1304.6 481.5 L1303.8 480.8 L1303 480.1 L1302.2 479.4 L1301.5 478.7 L1300.7 478 L1299.9 477.3 L1299.1 476.6 L1298.4 475.9 L1297.6 475.2 L1296.8 474.5 L1296.1 473.7 L1295.3 473 L1294.5 472.2 L1293.8 471.4 L1293 470.6 L1292.2 469.8 L1291.5 469 L1290.7 468.2 L1290 467.3 L1289.3 466.5 L1288.6 465.6 L1287.8 464.7 L1287.2 463.8 L1286.5 462.9 L1285.8 462 L1285.2 461 L1284.5 460.1 L1283.9 459.1 L1283.4 458.2 L1282.8 457.2 L1282.3 456.2 L1281.8 455.2 L1281.3 454.2 L1280.8 453.2 L1280.4 452.2 L1280 451.1 L1279.6 450.1 L1279.3 449.1 L1279 448 L1278.7 447 L1278.5 445.9 L1278.3 444.9 L1278.2 443.8 L1278 442.7 L1277.9 441.7 L1277.8 440.6 L1277.7 439.5 L1277.6 438.4 L1277.5 437.4 L1277.4 436.3 L1277.2 435.2 L1277 434.1 L1276.8 433 L1276.5 431.9 L1276.1 430.9 L1275.7 429.8 L1275.3 428.7 L1274.9 427.6 L1274.4 426.6 L1273.9 425.5 L1273.4 424.4 L1272.9 423.4 L1272.5 422.3 L1272.1 421.3 L1271.7 420.2 L1271.3 419.2 L1271.1 418.2 L1270.9 417.2 L1270.8 416.2 L1270.8 415.2 L1270.8 414.2 L1271 413.3 L1271.3 412.3 L1271.7 411.4 L1272.1 410.4 L1272.6 409.5 L1273.1 408.5 L1273.7 407.6 L1274.3 406.6 L1274.9 405.6 L1275.5 404.6 L1276.1 403.6 L1276.7 402.6 L1277.3 401.6 L1277.8 400.5 L1278.3 399.5 L1278.7 398.4 L1279.1 397.2 L1279.4 396.1 L1279.8 395 L1280.1 393.8 L1280.4 392.7 L1280.7 391.6 L1281 390.5 L1281.3 389.4 L1281.7 388.3 L1282.1 387.3 L1282.5 386.4 L1283 385.4 L1283.6 384.6 L1284.3 383.7 L1285 383 L1285.8 382.3 L1286.7 381.7 L1287.7 381.3 L1288.7 381 L1289.7 380.9 Z" fill="#ffe8cc"/>
<path d="M1290 405 L1290.5 404.5 L1291.1 404 L1291.7 403.6 L1292.4 403.3 L1293 403 L1293.7 402.7 L1294.5 402.4 L1295.2 402.2 L1296 402 L1296.7 401.9 L1297.5 401.8 L1298.3 401.7 L1299.1 401.6 L1300 401.6 L1300.8 401.6 L1301.6 401.7 L1302.4 401.7 L1303.2 401.8 L1304 401.9 L1304.8 402.1 L1305.6 402.2 L1306.4 402.4 L1307.2 402.6 L1308 402.8 L1308.8 403 L1309.6 403.2 L1310.4 403.5 L1311.2 403.7 L1312 404 L1312.8 404.2 L1313.6 404.5 L1314.4 404.8 L1315.2 405.1 L1316 405.4 L1316.8 405.6 L1317.6 405.9 L1318.4 406.2 L1319.2 406.5 L1320 406.7 L1320.8 407 L1321.6 407.3 L1322.4 407.5 L1323.2 407.8 L1323.9 408.1 L1324.7 408.3 L1325.5 408.6 L1326.2 408.9 L1327 409.2 L1327.7 409.5 L1328.4 409.8 L1329.1 410.1 L1329.8 410.5 L1330.5 410.8 L1331.2 411.2 L1331.9 411.6 L1332.5 412 L1333.1 412.4 L1333.7 412.8 L1334.3 413.3 L1334.9 413.8 L1335.4 414.3 L1336 414.8 L1336.5 415.3 L1337 415.9 L1337.5 416.5 L1337.9 417.1 L1338.4 417.7 L1338.8 418.3 L1339.2 419 L1339.7 419.6 L1340.1 420.3 L1340.4 421 L1340.8 421.7 L1341.2 422.4 L1341.6 423.1 L1341.9 423.8 L1342.2 424.5 L1342.6 425.3 L1342.9 426 L1343.2 426.8 L1343.5 427.5 L1343.9 428.3 L1344.2 429.1 L1344.5 429.8 L1344.8 430.6 L1345.1 431.3 L1345.4 432.1 L1345.7 432.9 L1346 433.6 L1346.2 434.4 L1346.5 435.2 L1346.8 436 L1347.1 436.7 L1347.3 437.5 L1347.6 438.3 L1347.9 439 L1348.1 439.8 L1348.4 440.6 L1348.6 441.4 L1348.8 442.1 L1349 442.9 L1349.3 443.7 L1349.5 444.5 L1349.7 445.3 L1349.9 446.1 L1350 446.8 L1350.2 447.6 L1350.4 448.4 L1350.5 449.2 L1350.7 450 L1350.8 450.8 L1350.9 451.6 L1351 452.4 L1351.1 453.1 L1351.2 453.9 L1351.3 454.7 L1351.4 455.5 L1351.4 456.3 L1351.5 457.1 L1351.5 457.9 L1351.5 458.7 L1351.5 459.5 L1351.5 460.3 L1351.5 461.1 L1351.4 461.9 L1351.4 462.7 L1351.3 463.5 L1351.2 464.3 L1351.1 465.1 L1351 465.9 L1350.9 466.7 L1350.8 467.6 L1350.6 468.4 L1350.4 469.2 L1350.2 470 L1350 470.8 L1349.8 471.6 L1349.5 472.3 L1349.2 473.1 L1349 473.9 L1348.6 474.6 L1348.3 475.4 L1348 476.1 L1347.6 476.8 L1347.2 477.5 L1346.8 478.2 L1346.3 478.9 L1345.9 479.5 L1345.4 480.2 L1344.9 480.8 L1344.4 481.4 L1343.8 481.9 L1343.2 482.5 L1342.6 483 L1342 483.5 L1341.3 483.9 L1340.7 484.3 L1340 484.7 L1339.3 485.1 L1338.5 485.5 L1337.8 485.8 L1337 486.1 L1336.3 486.3 L1335.5 486.6 L1334.7 486.8 L1333.9 486.9 L1333.1 487.1 L1332.3 487.2 L1331.5 487.2 L1330.6 487.3 L1329.8 487.3 L1329 487.2 L1328.2 487.2 L1327.4 487.1 L1326.6 487 L1325.8 486.8 L1325.1 486.6 L1324.3 486.4 L1323.5 486.1 L1322.8 485.8 L1322 485.5 L1321.3 485.2 L1320.6 484.8 L1319.8 484.4 L1319.1 484 L1318.4 483.6 L1317.7 483.1 L1317.1 482.6 L1316.4 482.2 L1315.7 481.7 L1315.1 481.2 L1314.4 480.7 L1313.8 480.1 L1313.1 479.6 L1312.5 479.1 L1311.9 478.5 L1311.3 478 L1310.7 477.4 L1310.1 476.9 L1309.6 476.3 L1309 475.7 L1308.4 475.2 L1307.9 474.6 L1307.3 474 L1306.8 473.4 L1306.3 472.8 L1305.8 472.2 L1305.2 471.6 L1304.7 471 L1304.2 470.4 L1303.8 469.8 L1303.3 469.2 L1302.8 468.6 L1302.3 467.9 L1301.9 467.3 L1301.4 466.7 L1301 466 L1300.5 465.4 L1300.1 464.7 L1299.7 464.1 L1299.2 463.4 L1298.8 462.8 L1298.4 462.1 L1298 461.4 L1297.6 460.8 L1297.2 460.1 L1296.8 459.4 L1296.5 458.7 L1296.1 458 L1295.7 457.3 L1295.3 456.6 L1295 455.9 L1294.6 455.2 L1294.3 454.5 L1293.9 453.8 L1293.6 453 L1293.2 452.3 L1292.9 451.6 L1292.6 450.9 L1292.2 450.1 L1291.9 449.4 L1291.6 448.6 L1291.3 447.9 L1291 447.1 L1290.6 446.4 L1290.3 445.6 L1290 444.9 L1289.8 444.1 L1289.5 443.3 L1289.2 442.6 L1288.9 441.8 L1288.6 441 L1288.4 440.2 L1288.1 439.4 L1287.9 438.7 L1287.7 437.9 L1287.4 437.1 L1287.2 436.3 L1287 435.5 L1286.8 434.7 L1286.6 433.9 L1286.4 433.1 L1286.3 432.3 L1286.1 431.5 L1286 430.7 L1285.8 429.9 L1285.7 429.1 L1285.6 428.3 L1285.5 427.5 L1285.4 426.7 L1285.3 426 L1285.2 425.2 L1285.2 424.4 L1285.2 423.6 L1285.1 422.8 L1285.1 422 L1285.1 421.2 L1285.2 420.4 L1285.2 419.6 L1285.2 418.8 L1285.3 418 L1285.4 417.2 L1285.5 416.4 L1285.6 415.6 L1285.7 414.8 L1285.9 414 L1286.1 413.3 L1286.3 412.5 L1286.5 411.7 L1286.7 410.9 L1286.9 410.2 L1287.2 409.4 L1287.5 408.7 L1287.9 408 L1288.2 407.3 L1288.6 406.7 L1289 406.1 L1289.5 405.5 L1290 405 Z" fill="#ffd199"/>
<path d="M1311 420.8 L1311.5 420.6 L1312 420.5 L1312.5 420.4 L1313 420.4 L1313.5 420.3 L1314 420.3 L1314.5 420.3 L1315 420.3 L1315.5 420.3 L1316 420.3 L1316.5 420.4 L1317.1 420.5 L1317.6 420.5 L1318.1 420.6 L1318.6 420.7 L1319.2 420.9 L1319.7 421 L1320.2 421.1 L1320.8 421.3 L1321.3 421.5 L1321.8 421.7 L1322.3 421.9 L1322.8 422.1 L1323.3 422.3 L1323.8 422.5 L1324.3 422.7 L1324.8 423 L1325.3 423.2 L1325.8 423.5 L1326.2 423.8 L1326.7 424.1 L1327.1 424.4 L1327.6 424.7 L1328 425 L1328.4 425.3 L1328.9 425.6 L1329.3 425.9 L1329.7 426.3 L1330 426.6 L1330.4 427 L1330.8 427.3 L1331.2 427.7 L1331.5 428 L1331.9 428.4 L1332.2 428.8 L1332.5 429.2 L1332.9 429.6 L1333.2 430 L1333.5 430.4 L1333.8 430.8 L1334.1 431.2 L1334.4 431.6 L1334.7 432 L1334.9 432.4 L1335.2 432.8 L1335.5 433.3 L1335.7 433.7 L1336 434.1 L1336.2 434.6 L1336.4 435 L1336.7 435.4 L1336.9 435.9 L1337.1 436.3 L1337.3 436.8 L1337.5 437.2 L1337.7 437.7 L1337.9 438.1 L1338.1 438.6 L1338.3 439 L1338.5 439.5 L1338.6 440 L1338.8 440.4 L1339 440.9 L1339.1 441.4 L1339.3 441.9 L1339.4 442.3 L1339.6 442.8 L1339.7 443.3 L1339.8 443.8 L1340 444.3 L1340.1 444.8 L1340.2 445.3 L1340.3 445.8 L1340.4 446.3 L1340.5 446.8 L1340.6 447.3 L1340.7 447.8 L1340.8 448.3 L1340.9 448.8 L1341 449.3 L1341 449.9 L1341.1 450.4 L1341.2 450.9 L1341.2 451.4 L1341.3 452 L1341.4 452.5 L1341.4 453 L1341.5 453.6 L1341.5 454.1 L1341.6 454.7 L1341.6 455.2 L1341.6 455.8 L1341.6 456.3 L1341.7 456.9 L1341.7 457.4 L1341.7 458 L1341.7 458.5 L1341.7 459.1 L1341.7 459.6 L1341.7 460.2 L1341.6 460.7 L1341.6 461.2 L1341.6 461.8 L1341.5 462.3 L1341.5 462.8 L1341.4 463.4 L1341.3 463.9 L1341.2 464.4 L1341.1 464.9 L1341 465.4 L1340.9 466 L1340.7 466.5 L1340.6 466.9 L1340.4 467.4 L1340.3 467.9 L1340.1 468.4 L1339.9 468.8 L1339.7 469.3 L1339.5 469.7 L1339.2 470.2 L1339 470.6 L1338.7 471 L1338.4 471.4 L1338.1 471.8 L1337.8 472.2 L1337.5 472.6 L1337.2 472.9 L1336.9 473.3 L1336.5 473.6 L1336.2 473.9 L1335.8 474.2 L1335.4 474.5 L1335 474.8 L1334.6 475 L1334.2 475.3 L1333.8 475.5 L1333.4 475.7 L1333 475.9 L1332.5 476 L1332.1 476.1 L1331.7 476.3 L1331.2 476.3 L1330.8 476.4 L1330.3 476.5 L1329.8 476.5 L1329.4 476.5 L1328.9 476.5 L1328.4 476.4 L1328 476.4 L1327.5 476.3 L1327 476.2 L1326.5 476.1 L1326.1 476 L1325.6 475.8 L1325.1 475.7 L1324.6 475.5 L1324.2 475.3 L1323.7 475.1 L1323.2 474.9 L1322.8 474.6 L1322.3 474.4 L1321.8 474.1 L1321.4 473.9 L1320.9 473.6 L1320.5 473.3 L1320.1 473 L1319.6 472.7 L1319.2 472.4 L1318.8 472 L1318.4 471.7 L1318 471.3 L1317.6 471 L1317.2 470.6 L1316.8 470.3 L1316.5 469.9 L1316.1 469.5 L1315.7 469.2 L1315.4 468.8 L1315 468.4 L1314.7 468 L1314.4 467.6 L1314 467.2 L1313.7 466.8 L1313.4 466.3 L1313.1 465.9 L1312.8 465.5 L1312.5 465.1 L1312.2 464.6 L1311.9 464.2 L1311.6 463.8 L1311.3 463.3 L1311 462.9 L1310.7 462.5 L1310.4 462 L1310.1 461.6 L1309.9 461.1 L1309.6 460.7 L1309.3 460.2 L1309 459.8 L1308.7 459.3 L1308.5 458.9 L1308.2 458.4 L1307.9 458 L1307.6 457.5 L1307.4 457.1 L1307.1 456.7 L1306.8 456.2 L1306.5 455.8 L1306.3 455.3 L1306 454.9 L1305.7 454.4 L1305.4 454 L1305.2 453.5 L1304.9 453.1 L1304.7 452.7 L1304.4 452.2 L1304.1 451.8 L1303.9 451.3 L1303.7 450.9 L1303.4 450.4 L1303.2 450 L1303 449.5 L1302.7 449.1 L1302.5 448.6 L1302.3 448.1 L1302.1 447.7 L1301.9 447.2 L1301.7 446.7 L1301.6 446.3 L1301.4 445.8 L1301.2 445.3 L1301.1 444.9 L1300.9 444.4 L1300.8 443.9 L1300.7 443.4 L1300.6 442.9 L1300.5 442.4 L1300.4 441.9 L1300.3 441.4 L1300.3 440.9 L1300.2 440.4 L1300.2 439.9 L1300.2 439.4 L1300.2 438.9 L1300.2 438.4 L1300.2 437.8 L1300.2 437.3 L1300.2 436.8 L1300.3 436.3 L1300.3 435.7 L1300.4 435.2 L1300.5 434.7 L1300.6 434.2 L1300.7 433.7 L1300.8 433.2 L1300.9 432.7 L1301.1 432.2 L1301.2 431.7 L1301.4 431.2 L1301.6 430.7 L1301.8 430.2 L1302 429.7 L1302.2 429.2 L1302.4 428.8 L1302.6 428.3 L1302.8 427.9 L1303.1 427.4 L1303.3 427 L1303.6 426.6 L1303.9 426.1 L1304.2 425.7 L1304.5 425.3 L1304.8 425 L1305.1 424.6 L1305.4 424.2 L1305.8 423.9 L1306.1 423.6 L1306.5 423.2 L1306.9 422.9 L1307.2 422.6 L1307.6 422.4 L1308 422.1 L1308.4 421.9 L1308.8 421.6 L1309.3 421.4 L1309.7 421.2 L1310.1 421.1 L1310.6 420.9 L1311 420.8 Z" fill="#ffba66"/>
<path d="M1318 435.7 L1318.2 435.6 L1318.4 435.5 L1318.6 435.5 L1318.9 435.4 L1319.1 435.4 L1319.3 435.3 L1319.6 435.3 L1319.8 435.3 L1320 435.3 L1320.3 435.3 L1320.5 435.3 L1320.8 435.3 L1321 435.3 L1321.2 435.4 L1321.5 435.4 L1321.7 435.4 L1322 435.5 L1322.2 435.6 L1322.5 435.6 L1322.7 435.7 L1323 435.8 L1323.2 435.9 L1323.5 436 L1323.7 436.1 L1324 436.2 L1324.2 436.3 L1324.5 436.4 L1324.7 436.5 L1324.9 436.6 L1325.2 436.8 L1325.4 436.9 L1325.7 437 L1325.9 437.2 L1326.1 437.3 L1326.3 437.5 L1326.6 437.7 L1326.8 437.8 L1327 438 L1327.2 438.2 L1327.4 438.3 L1327.6 438.5 L1327.8 438.7 L1328 438.9 L1328.2 439.1 L1328.4 439.2 L1328.6 439.4 L1328.8 439.6 L1328.9 439.8 L1329.1 440 L1329.3 440.2 L1329.4 440.4 L1329.6 440.6 L1329.7 440.8 L1329.9 441.1 L1330 441.3 L1330.1 441.5 L1330.3 441.7 L1330.4 441.9 L1330.5 442.1 L1330.6 442.4 L1330.7 442.6 L1330.8 442.8 L1330.9 443 L1331 443.3 L1331.1 443.5 L1331.2 443.7 L1331.3 444 L1331.4 444.2 L1331.5 444.4 L1331.5 444.7 L1331.6 444.9 L1331.7 445.2 L1331.7 445.4 L1331.8 445.7 L1331.9 445.9 L1331.9 446.2 L1332 446.4 L1332 446.7 L1332.1 446.9 L1332.1 447.2 L1332.1 447.4 L1332.2 447.7 L1332.2 448 L1332.2 448.2 L1332.3 448.5 L1332.3 448.8 L1332.3 449 L1332.3 449.3 L1332.3 449.6 L1332.4 449.8 L1332.4 450.1 L1332.4 450.4 L1332.4 450.7 L1332.4 450.9 L1332.4 451.2 L1332.4 451.5 L1332.4 451.8 L1332.4 452.1 L1332.4 452.4 L1332.4 452.6 L1332.4 452.9 L1332.3 453.2 L1332.3 453.5 L1332.3 453.8 L1332.3 454.1 L1332.3 454.4 L1332.3 454.7 L1332.2 455 L1332.2 455.3 L1332.2 455.6 L1332.2 455.8 L1332.1 456.1 L1332.1 456.4 L1332.1 456.7 L1332 457 L1332 457.3 L1331.9 457.6 L1331.9 457.8 L1331.8 458.1 L1331.8 458.4 L1331.7 458.6 L1331.7 458.9 L1331.6 459.2 L1331.5 459.4 L1331.5 459.7 L1331.4 459.9 L1331.3 460.2 L1331.2 460.4 L1331.1 460.6 L1331 460.9 L1331 461.1 L1330.9 461.3 L1330.8 461.5 L1330.6 461.7 L1330.5 461.9 L1330.4 462.1 L1330.3 462.3 L1330.2 462.4 L1330 462.6 L1329.9 462.8 L1329.8 462.9 L1329.6 463 L1329.5 463.2 L1329.3 463.3 L1329.2 463.4 L1329 463.5 L1328.8 463.6 L1328.7 463.7 L1328.5 463.8 L1328.3 463.8 L1328.1 463.9 L1327.9 463.9 L1327.7 464 L1327.5 464 L1327.3 464 L1327.1 464 L1326.9 464 L1326.7 464 L1326.5 464 L1326.3 464 L1326.1 463.9 L1325.9 463.9 L1325.7 463.8 L1325.5 463.8 L1325.3 463.7 L1325.1 463.6 L1324.8 463.6 L1324.6 463.5 L1324.4 463.4 L1324.2 463.3 L1324 463.2 L1323.8 463 L1323.6 462.9 L1323.4 462.8 L1323.3 462.7 L1323.1 462.5 L1322.9 462.4 L1322.7 462.2 L1322.5 462 L1322.4 461.9 L1322.2 461.7 L1322 461.5 L1321.9 461.3 L1321.7 461.1 L1321.5 460.9 L1321.4 460.7 L1321.2 460.5 L1321 460.3 L1320.9 460.1 L1320.7 459.9 L1320.6 459.7 L1320.4 459.5 L1320.3 459.3 L1320.1 459 L1320 458.8 L1319.9 458.6 L1319.7 458.3 L1319.6 458.1 L1319.4 457.9 L1319.3 457.6 L1319.1 457.4 L1319 457.1 L1318.9 456.9 L1318.7 456.6 L1318.6 456.4 L1318.5 456.2 L1318.3 455.9 L1318.2 455.7 L1318 455.4 L1317.9 455.2 L1317.8 454.9 L1317.6 454.7 L1317.5 454.4 L1317.3 454.2 L1317.2 454 L1317.1 453.7 L1316.9 453.5 L1316.8 453.3 L1316.6 453 L1316.5 452.8 L1316.4 452.5 L1316.2 452.3 L1316.1 452.1 L1316 451.8 L1315.8 451.6 L1315.7 451.4 L1315.6 451.1 L1315.4 450.9 L1315.3 450.7 L1315.2 450.4 L1315.1 450.2 L1314.9 450 L1314.8 449.8 L1314.7 449.5 L1314.6 449.3 L1314.5 449.1 L1314.4 448.8 L1314.3 448.6 L1314.2 448.4 L1314.1 448.1 L1314 447.9 L1313.9 447.7 L1313.8 447.5 L1313.7 447.2 L1313.7 447 L1313.6 446.8 L1313.5 446.5 L1313.5 446.3 L1313.4 446.1 L1313.3 445.8 L1313.3 445.6 L1313.3 445.4 L1313.2 445.1 L1313.2 444.9 L1313.2 444.7 L1313.1 444.4 L1313.1 444.2 L1313.1 443.9 L1313.1 443.7 L1313.1 443.5 L1313.1 443.2 L1313.2 443 L1313.2 442.7 L1313.2 442.5 L1313.3 442.3 L1313.3 442 L1313.3 441.8 L1313.4 441.5 L1313.5 441.3 L1313.5 441 L1313.6 440.8 L1313.7 440.5 L1313.8 440.3 L1313.9 440.1 L1314 439.8 L1314.1 439.6 L1314.2 439.4 L1314.3 439.2 L1314.5 438.9 L1314.6 438.7 L1314.7 438.5 L1314.9 438.3 L1315 438.1 L1315.2 437.9 L1315.3 437.7 L1315.5 437.5 L1315.6 437.3 L1315.8 437.1 L1316 437 L1316.2 436.8 L1316.4 436.6 L1316.5 436.5 L1316.7 436.4 L1316.9 436.2 L1317.1 436.1 L1317.3 436 L1317.5 435.9 L1317.7 435.8 L1318 435.7 Z" fill="#ffa333"/>
<path d="M1289.7 380.9 L1290.6 381 L1291.6 381.3 L1292.5 381.7 L1293.5 382.3 L1294.4 383 L1295.3 383.7 L1296.3 384.5 L1297.2 385.3 L1298.1 386.1 L1299.1 386.8 L1300 387.4 L1301 388 L1301.9 388.4 L1302.9 388.7 L1303.9 388.8 L1304.9 388.7 L1306 388.5 L1307 388.2 L1308 387.9 L1309.1 387.5 L1310.2 387.2 L1311.2 386.9 L1312.3 386.7 L1313.3 386.6 L1314.4 386.6 L1315.4 386.6 L1316.5 386.8 L1317.5 387 L1318.5 387.4 L1319.6 387.7 L1320.6 388.2 L1321.6 388.7 L1322.6 389.2 L1323.6 389.8 L1324.6 390.5 L1325.5 391.2 L1326.5 391.9 L1327.4 392.7 L1328.3 393.5 L1329.3 394.3 L1330.1 395.1 L1331 396 L1331.9 396.8 L1332.7 397.7 L1333.6 398.5 L1334.4 399.4 L1335.1 400.3 L1335.9 401.1 L1336.7 402 L1337.4 402.9 L1338.1 403.7 L1338.8 404.6 L1339.5 405.5 L1340.2 406.3 L1340.8 407.2 L1341.5 408.1 L1342.1 409 L1342.7 409.8 L1343.4 410.7 L1344 411.6 L1344.6 412.5 L1345.1 413.4 L1345.7 414.3 L1346.3 415.2 L1346.8 416.1 L1347.4 417 L1347.9 417.9 L1348.5 418.8 L1349 419.8 L1349.5 420.7 L1350 421.6 L1350.6 422.6 L1351.1 423.5 L1351.6 424.5 L1352.1 425.5 L1352.6 426.4 L1353.1 427.4 L1353.7 428.4 L1354.2 429.4 L1354.7 430.4 L1355.2 431.4 L1355.7 432.4 L1356.2 433.4 L1356.6 434.5 L1357.1 435.5 L1357.6 436.5 L1358 437.6 L1358.5 438.6 L1358.9 439.7 L1359.3 440.7 L1359.7 441.8 L1360.1 442.8 L1360.4 443.9 L1360.8 445 L1361.1 446 L1361.4 447.1 L1361.7 448.2 L1362 449.2 L1362.2 450.3 L1362.4 451.4 L1362.6 452.5 L1362.8 453.6 L1362.9 454.6 L1363.1 455.7 L1363.1 456.8 L1363.2 457.9 L1363.2 459 L1363.2 460 L1363.2 461.1 L1363.1 462.2 L1363 463.3 L1362.8 464.4 L1362.7 465.4 L1362.5 466.5 L1362.3 467.6 L1362 468.6 L1361.8 469.7 L1361.5 470.7 L1361.2 471.8 L1360.9 472.8 L1360.5 473.8 L1360.1 474.9 L1359.8 475.9 L1359.4 476.9 L1358.9 477.9 L1358.5 478.9 L1358.1 479.9 L1357.6 480.9 L1357.1 481.8 L1356.6 482.8 L1356.1 483.8 L1355.5 484.7 L1354.9 485.7 L1354.3 486.6 L1353.7 487.6 L1353.1 488.5 L1352.4 489.4 L1351.7 490.3 L1351 491.3 L1350.3 492.2 L1349.5 493.1 L1348.7 494 L1347.9 494.9 L1347.1 495.8 L1346.2 496.6 L1345.4 497.4 L1344.5 498.2 L1343.6 499 L1342.6 499.7 L1341.7 500.4 L1340.8 501 L1339.8 501.5 L1338.9 502 L1337.9 502.5 L1337 502.8 L1336 503.1 L1335.1 503.2 L1334.1 503.3 L1333.2 503.3 L1332.3 503.3 L1331.3 503.1 L1330.4 502.9 L1329.5 502.6 L1328.6 502.3 L1327.6 501.9 L1326.7 501.4 L1325.8 500.9 L1324.9 500.4 L1324 499.7 L1323.1 499.1 L1322.2 498.4 L1321.3 497.7 L1320.5 496.9 L1319.6 496.1 L1318.7 495.3 L1317.8 494.5 L1317 493.7 L1316.1 492.8 L1315.3 492 L1314.4 491.1 L1313.6 490.2 L1312.7 489.4 L1311.9 488.5 L1311.1 487.7 L1310.2 486.8 L1309.4 486 L1308.6 485.2 L1307.8 484.5 L1307 483.7 L1306.2 483 L1305.4 482.2 L1304.6 481.5 L1303.8 480.8 L1303 480.1 L1302.2 479.4 L1301.5 478.7 L1300.7 478 L1299.9 477.3 L1299.1 476.6 L1298.4 475.9 L1297.6 475.2 L1296.8 474.5 L1296.1 473.7 L1295.3 473 L1294.5 472.2 L1293.8 471.4 L1293 470.6 L1292.2 469.8 L1291.5 469 L1290.7 468.2 L1290 467.3 L1289.3 466.5 L1288.6 465.6 L1287.8 464.7 L1287.2 463.8 L1286.5 462.9 L1285.8 462 L1285.2 461 L1284.5 460.1 L1283.9 459.1 L1283.4 458.2 L1282.8 457.2 L1282.3 456.2 L1281.8 455.2 L1281.3 454.2 L1280.8 453.2 L1280.4 452.2 L1280 451.1 L1279.6 450.1 L1279.3 449.1 L1279 448 L1278.7 447 L1278.5 445.9 L1278.3 444.9 L1278.2 443.8 L1278 442.7 L1277.9 441.7 L1277.8 440.6 L1277.7 439.5 L1277.6 438.4 L1277.5 437.4 L1277.4 436.3 L1277.2 435.2 L1277 434.1 L1276.8 433 L1276.5 431.9 L1276.1 430.9 L1275.7 429.8 L1275.3 428.7 L1274.9 427.6 L1274.4 426.6 L1273.9 425.5 L1273.4 424.4 L1272.9 423.4 L1272.5 422.3 L1272.1 421.3 L1271.7 420.2 L1271.3 419.2 L1271.1 418.2 L1270.9 417.2 L1270.8 416.2 L1270.8 415.2 L1270.8 414.2 L1271 413.3 L1271.3 412.3 L1271.7 411.4 L1272.1 410.4 L1272.6 409.5 L1273.1 408.5 L1273.7 407.6 L1274.3 406.6 L1274.9 405.6 L1275.5 404.6 L1276.1 403.6 L1276.7 402.6 L1277.3 401.6 L1277.8 400.5 L1278.3 399.5 L1278.7 398.4 L1279.1 397.2 L1279.4 396.1 L1279.8 395 L1280.1 393.8 L1280.4 392.7 L1280.7 391.6 L1281 390.5 L1281.3 389.4 L1281.7 388.3 L1282.1 387.3 L1282.5 386.4 L1283 385.4 L1283.6 384.6 L1284.3 383.7 L1285 383 L1285.8 382.3 L1286.7 381.7 L1287.7 381.3 L1288.7 381 L1289.7 380.9 Z" fill="none" stroke="#ff8c00" stroke-width="3.1" stroke-linejoin="round"/>
<path d="M1290 405 L1290.5 404.5 L1291.1 404 L1291.7 403.6 L1292.4 403.3 L1293 403 L1293.7 402.7 L1294.5 402.4 L1295.2 402.2 L1296 402 L1296.7 401.9 L1297.5 401.8 L1298.3 401.7 L1299.1 401.6 L1300 401.6 L1300.8 401.6 L1301.6 401.7 L1302.4 401.7 L1303.2 401.8 L1304 401.9 L1304.8 402.1 L1305.6 402.2 L1306.4 402.4 L1307.2 402.6 L1308 402.8 L1308.8 403 L1309.6 403.2 L1310.4 403.5 L1311.2 403.7 L1312 404 L1312.8 404.2 L1313.6 404.5 L1314.4 404.8 L1315.2 405.1 L1316 405.4 L1316.8 405.6 L1317.6 405.9 L1318.4 406.2 L1319.2 406.5 L1320 406.7 L1320.8 407 L1321.6 407.3 L1322.4 407.5 L1323.2 407.8 L1323.9 408.1 L1324.7 408.3 L1325.5 408.6 L1326.2 408.9 L1327 409.2 L1327.7 409.5 L1328.4 409.8 L1329.1 410.1 L1329.8 410.5 L1330.5 410.8 L1331.2 411.2 L1331.9 411.6 L1332.5 412 L1333.1 412.4 L1333.7 412.8 L1334.3 413.3 L1334.9 413.8 L1335.4 414.3 L1336 414.8 L1336.5 415.3 L1337 415.9 L1337.5 416.5 L1337.9 417.1 L1338.4 417.7 L1338.8 418.3 L1339.2 419 L1339.7 419.6 L1340.1 420.3 L1340.4 421 L1340.8 421.7 L1341.2 422.4 L1341.6 423.1 L1341.9 423.8 L1342.2 424.5 L1342.6 425.3 L1342.9 426 L1343.2 426.8 L1343.5 427.5 L1343.9 428.3 L1344.2 429.1 L1344.5 429.8 L1344.8 430.6 L1345.1 431.3 L1345.4 432.1 L1345.7 432.9 L1346 433.6 L1346.2 434.4 L1346.5 435.2 L1346.8 436 L1347.1 436.7 L1347.3 437.5 L1347.6 438.3 L1347.9 439 L1348.1 439.8 L1348.4 440.6 L1348.6 441.4 L1348.8 442.1 L1349 442.9 L1349.3 443.7 L1349.5 444.5 L1349.7 445.3 L1349.9 446.1 L1350 446.8 L1350.2 447.6 L1350.4 448.4 L1350.5 449.2 L1350.7 450 L1350.8 450.8 L1350.9 451.6 L1351 452.4 L1351.1 453.1 L1351.2 453.9 L1351.3 454.7 L1351.4 455.5 L1351.4 456.3 L1351.5 457.1 L1351.5 457.9 L1351.5 458.7 L1351.5 459.5 L1351.5 460.3 L1351.5 461.1 L1351.4 461.9 L1351.4 462.7 L1351.3 463.5 L1351.2 464.3 L1351.1 465.1 L1351 465.9 L1350.9 466.7 L1350.8 467.6 L1350.6 468.4 L1350.4 469.2 L1350.2 470 L1350 470.8 L1349.8 471.6 L1349.5 472.3 L1349.2 473.1 L1349 473.9 L1348.6 474.6 L1348.3 475.4 L1348 476.1 L1347.6 476.8 L1347.2 477.5 L1346.8 478.2 L1346.3 478.9 L1345.9 479.5 L1345.4 480.2 L1344.9 480.8 L1344.4 481.4 L1343.8 481.9 L1343.2 482.5 L1342.6 483 L1342 483.5 L1341.3 483.9 L1340.7 484.3 L1340 484.7 L1339.3 485.1 L1338.5 485.5 L1337.8 485.8 L1337 486.1 L1336.3 486.3 L1335.5 486.6 L1334.7 486.8 L1333.9 486.9 L1333.1 487.1 L1332.3 487.2 L1331.5 487.2 L1330.6 487.3 L1329.8 487.3 L1329 487.2 L1328.2 487.2 L1327.4 487.1 L1326.6 487 L1325.8 486.8 L1325.1 486.6 L1324.3 486.4 L1323.5 486.1 L1322.8 485.8 L1322 485.5 L1321.3 485.2 L1320.6 484.8 L1319.8 484.4 L1319.1 484 L1318.4 483.6 L1317.7 483.1 L1317.1 482.6 L1316.4 482.2 L1315.7 481.7 L1315.1 481.2 L1314.4 480.7 L1313.8 480.1 L1313.1 479.6 L1312.5 479.1 L1311.9 478.5 L1311.3 478 L1310.7 477.4 L1310.1 476.9 L1309.6 476.3 L1309 475.7 L1308.4 475.2 L1307.9 474.6 L1307.3 474 L1306.8 473.4 L1306.3 472.8 L1305.8 472.2 L1305.2 471.6 L1304.7 471 L1304.2 470.4 L1303.8 469.8 L1303.3 469.2 L1302.8 468.6 L1302.3 467.9 L1301.9 467.3 L1301.4 466.7 L1301 466 L1300.5 465.4 L1300.1 464.7 L1299.7 464.1 L1299.2 463.4 L1298.8 462.8 L1298.4 462.1 L1298 461.4 L1297.6 460.8 L1297.2 460.1 L1296.8 459.4 L1296.5 458.7 L1296.1 458 L1295.7 457.3 L1295.3 456.6 L1295 455.9 L1294.6 455.2 L1294.3 454.5 L1293.9 453.8 L1293.6 453 L1293.2 452.3 L1292.9 451.6 L1292.6 450.9 L1292.2 450.1 L1291.9 449.4 L1291.6 448.6 L1291.3 447.9 L1291 447.1 L1290.6 446.4 L1290.3 445.6 L1290 444.9 L1289.8 444.1 L1289.5 443.3 L1289.2 442.6 L1288.9 441.8 L1288.6 441 L1288.4 440.2 L1288.1 439.4 L1287.9 438.7 L1287.7 437.9 L1287.4 437.1 L1287.2 436.3 L1287 435.5 L1286.8 434.7 L1286.6 433.9 L1286.4 433.1 L1286.3 432.3 L1286.1 431.5 L1286 430.7 L1285.8 429.9 L1285.7 429.1 L1285.6 428.3 L1285.5 427.5 L1285.4 426.7 L1285.3 426 L1285.2 425.2 L1285.2 424.4 L1285.2 423.6 L1285.1 422.8 L1285.1 422 L1285.1 421.2 L1285.2 420.4 L1285.2 419.6 L1285.2 418.8 L1285.3 418 L1285.4 417.2 L1285.5 416.4 L1285.6 415.6 L1285.7 414.8 L1285.9 414 L1286.1 413.3 L1286.3 412.5 L1286.5 411.7 L1286.7 410.9 L1286.9 410.2 L1287.2 409.4 L1287.5 408.7 L1287.9 408 L1288.2 407.3 L1288.6 406.7 L1289 406.1 L1289.5 405.5 L1290 405 Z" fill="none" stroke="#ff8c00" stroke-width="3.1" stroke-linejoin="round"/>
<path d="M1311 420.8 L1311.5 420.6 L1312 420.5 L1312.5 420.4 L1313 420.4 L1313.5 420.3 L1314 420.3 L1314.5 420.3 L1315 420.3 L1315.5 420.3 L1316 420.3 L1316.5 420.4 L1317.1 420.5 L1317.6 420.5 L1318.1 420.6 L1318.6 420.7 L1319.2 420.9 L1319.7 421 L1320.2 421.1 L1320.8 421.3 L1321.3 421.5 L1321.8 421.7 L1322.3 421.9 L1322.8 422.1 L1323.3 422.3 L1323.8 422.5 L1324.3 422.7 L1324.8 423 L1325.3 423.2 L1325.8 423.5 L1326.2 423.8 L1326.7 424.1 L1327.1 424.4 L1327.6 424.7 L1328 425 L1328.4 425.3 L1328.9 425.6 L1329.3 425.9 L1329.7 426.3 L1330 426.6 L1330.4 427 L1330.8 427.3 L1331.2 427.7 L1331.5 428 L1331.9 428.4 L1332.2 428.8 L1332.5 429.2 L1332.9 429.6 L1333.2 430 L1333.5 430.4 L1333.8 430.8 L1334.1 431.2 L1334.4 431.6 L1334.7 432 L1334.9 432.4 L1335.2 432.8 L1335.5 433.3 L1335.7 433.7 L1336 434.1 L1336.2 434.6 L1336.4 435 L1336.7 435.4 L1336.9 435.9 L1337.1 436.3 L1337.3 436.8 L1337.5 437.2 L1337.7 437.7 L1337.9 438.1 L1338.1 438.6 L1338.3 439 L1338.5 439.5 L1338.6 440 L1338.8 440.4 L1339 440.9 L1339.1 441.4 L1339.3 441.9 L1339.4 442.3 L1339.6 442.8 L1339.7 443.3 L1339.8 443.8 L1340 444.3 L1340.1 444.8 L1340.2 445.3 L1340.3 445.8 L1340.4 446.3 L1340.5 446.8 L1340.6 447.3 L1340.7 447.8 L1340.8 448.3 L1340.9 448.8 L1341 449.3 L1341 449.9 L1341.1 450.4 L1341.2 450.9 L1341.2 451.4 L1341.3 452 L1341.4 452.5 L1341.4 453 L1341.5 453.6 L1341.5 454.1 L1341.6 454.7 L1341.6 455.2 L1341.6 455.8 L1341.6 456.3 L1341.7 456.9 L1341.7 457.4 L1341.7 458 L1341.7 458.5 L1341.7 459.1 L1341.7 459.6 L1341.7 460.2 L1341.6 460.7 L1341.6 461.2 L1341.6 461.8 L1341.5 462.3 L1341.5 462.8 L1341.4 463.4 L1341.3 463.9 L1341.2 464.4 L1341.1 464.9 L1341 465.4 L1340.9 466 L1340.7 466.5 L1340.6 466.9 L1340.4 467.4 L1340.3 467.9 L1340.1 468.4 L1339.9 468.8 L1339.7 469.3 L1339.5 469.7 L1339.2 470.2 L1339 470.6 L1338.7 471 L1338.4 471.4 L1338.1 471.8 L1337.8 472.2 L1337.5 472.6 L1337.2 472.9 L1336.9 473.3 L1336.5 473.6 L1336.2 473.9 L1335.8 474.2 L1335.4 474.5 L1335 474.8 L1334.6 475 L1334.2 475.3 L1333.8 475.5 L1333.4 475.7 L1333 475.9 L1332.5 476 L1332.1 476.1 L1331.7 476.3 L1331.2 476.3 L1330.8 476.4 L1330.3 476.5 L1329.8 476.5 L1329.4 476.5 L1328.9 476.5 L1328.4 476.4 L1328 476.4 L1327.5 476.3 L1327 476.2 L1326.5 476.1 L1326.1 476 L1325.6 475.8 L1325.1 475.7 L1324.6 475.5 L1324.2 475.3 L1323.7 475.1 L1323.2 474.9 L1322.8 474.6 L1322.3 474.4 L1321.8 474.1 L1321.4 473.9 L1320.9 473.6 L1320.5 473.3 L1320.1 473 L1319.6 472.7 L1319.2 472.4 L1318.8 472 L1318.4 471.7 L1318 471.3 L1317.6 471 L1317.2 470.6 L1316.8 470.3 L1316.5 469.9 L1316.1 469.5 L1315.7 469.2 L1315.4 468.8 L1315 468.4 L1314.7 468 L1314.4 467.6 L1314 467.2 L1313.7 466.8 L1313.4 466.3 L1313.1 465.9 L1312.8 465.5 L1312.5 465.1 L1312.2 464.6 L1311.9 464.2 L1311.6 463.8 L1311.3 463.3 L1311 462.9 L1310.7 462.5 L1310.4 462 L1310.1 461.6 L1309.9 461.1 L1309.6 460.7 L1309.3 460.2 L1309 459.8 L1308.7 459.3 L1308.5 458.9 L1308.2 458.4 L1307.9 458 L1307.6 457.5 L1307.4 457.1 L1307.1 456.7 L1306.8 456.2 L1306.5 455.8 L1306.3 455.3 L1306 454.9 L1305.7 454.4 L1305.4 454 L1305.2 453.5 L1304.9 453.1 L1304.7 452.7 L1304.4 452.2 L1304.1 451.8 L1303.9 451.3 L1303.7 450.9 L1303.4 450.4 L1303.2 450 L1303 449.5 L1302.7 449.1 L1302.5 448.6 L1302.3 448.1 L1302.1 447.7 L1301.9 447.2 L1301.7 446.7 L1301.6 446.3 L1301.4 445.8 L1301.2 445.3 L1301.1 444.9 L1300.9 444.4 L1300.8 443.9 L1300.7 443.4 L1300.6 442.9 L1300.5 442.4 L1300.4 441.9 L1300.3 441.4 L1300.3 440.9 L1300.2 440.4 L1300.2 439.9 L1300.2 439.4 L1300.2 438.9 L1300.2 438.4 L1300.2 437.8 L1300.2 437.3 L1300.2 436.8 L1300.3 436.3 L1300.3 435.7 L1300.4 435.2 L1300.5 434.7 L1300.6 434.2 L1300.7 433.7 L1300.8 433.2 L1300.9 432.7 L1301.1 432.2 L1301.2 431.7 L1301.4 431.2 L1301.6 430.7 L1301.8 430.2 L1302 429.7 L1302.2 429.2 L1302.4 428.8 L1302.6 428.3 L1302.8 427.9 L1303.1 427.4 L1303.3 427 L1303.6 426.6 L1303.9 426.1 L1304.2 425.7 L1304.5 425.3 L1304.8 425 L1305.1 424.6 L1305.4 424.2 L1305.8 423.9 L1306.1 423.6 L1306.5 423.2 L1306.9 422.9 L1307.2 422.6 L1307.6 422.4 L1308 422.1 L1308.4 421.9 L1308.8 421.6 L1309.3 421.4 L1309.7 421.2 L1310.1 421.1 L1310.6 420.9 L1311 420.8 Z" fill="none" stroke="#ff8c00" stroke-width="3.1" stroke-linejoin="round"/>
<path d="M1318 435.7 L1318.2 435.6 L1318.4 435.5 L1318.6 435.5 L1318.9 435.4 L1319.1 435.4 L1319.3 435.3 L1319.6 435.3 L1319.8 435.3 L1320 435.3 L1320.3 435.3 L1320.5 435.3 L1320.8 435.3 L1321 435.3 L1321.2 435.4 L1321.5 435.4 L1321.7 435.4 L1322 435.5 L1322.2 435.6 L1322.5 435.6 L1322.7 435.7 L1323 435.8 L1323.2 435.9 L1323.5 436 L1323.7 436.1 L1324 436.2 L1324.2 436.3 L1324.5 436.4 L1324.7 436.5 L1324.9 436.6 L1325.2 436.8 L1325.4 436.9 L1325.7 437 L1325.9 437.2 L1326.1 437.3 L1326.3 437.5 L1326.6 437.7 L1326.8 437.8 L1327 438 L1327.2 438.2 L1327.4 438.3 L1327.6 438.5 L1327.8 438.7 L1328 438.9 L1328.2 439.1 L1328.4 439.2 L1328.6 439.4 L1328.8 439.6 L1328.9 439.8 L1329.1 440 L1329.3 440.2 L1329.4 440.4 L1329.6 440.6 L1329.7 440.8 L1329.9 441.1 L1330 441.3 L1330.1 441.5 L1330.3 441.7 L1330.4 441.9 L1330.5 442.1 L1330.6 442.4 L1330.7 442.6 L1330.8 442.8 L1330.9 443 L1331 443.3 L1331.1 443.5 L1331.2 443.7 L1331.3 444 L1331.4 444.2 L1331.5 444.4 L1331.5 444.7 L1331.6 444.9 L1331.7 445.2 L1331.7 445.4 L1331.8 445.7 L1331.9 445.9 L1331.9 446.2 L1332 446.4 L1332 446.7 L1332.1 446.9 L1332.1 447.2 L1332.1 447.4 L1332.2 447.7 L1332.2 448 L1332.2 448.2 L1332.3 448.5 L1332.3 448.8 L1332.3 449 L1332.3 449.3 L1332.3 449.6 L1332.4 449.8 L1332.4 450.1 L1332.4 450.4 L1332.4 450.7 L1332.4 450.9 L1332.4 451.2 L1332.4 451.5 L1332.4 451.8 L1332.4 452.1 L1332.4 452.4 L1332.4 452.6 L1332.4 452.9 L1332.3 453.2 L1332.3 453.5 L1332.3 453.8 L1332.3 454.1 L1332.3 454.4 L1332.3 454.7 L1332.2 455 L1332.2 455.3 L1332.2 455.6 L1332.2 455.8 L1332.1 456.1 L1332.1 456.4 L1332.1 456.7 L1332 457 L1332 457.3 L1331.9 457.6 L1331.9 457.8 L1331.8 458.1 L1331.8 458.4 L1331.7 458.6 L1331.7 458.9 L1331.6 459.2 L1331.5 459.4 L1331.5 459.7 L1331.4 459.9 L1331.3 460.2 L1331.2 460.4 L1331.1 460.6 L1331 460.9 L1331 461.1 L1330.9 461.3 L1330.8 461.5 L1330.6 461.7 L1330.5 461.9 L1330.4 462.1 L1330.3 462.3 L1330.2 462.4 L1330 462.6 L1329.9 462.8 L1329.8 462.9 L1329.6 463 L1329.5 463.2 L1329.3 463.3 L1329.2 463.4 L1329 463.5 L1328.8 463.6 L1328.7 463.7 L1328.5 463.8 L1328.3 463.8 L1328.1 463.9 L1327.9 463.9 L1327.7 464 L1327.5 464 L1327.3 464 L1327.1 464 L1326.9 464 L1326.7 464 L1326.5 464 L1326.3 464 L1326.1 463.9 L1325.9 463.9 L1325.7 463.8 L1325.5 463.8 L1325.3 463.7 L1325.1 463.6 L1324.8 463.6 L1324.6 463.5 L1324.4 463.4 L1324.2 463.3 L1324 463.2 L1323.8 463 L1323.6 462.9 L1323.4 462.8 L1323.3 462.7 L1323.1 462.5 L1322.9 462.4 L1322.7 462.2 L1322.5 462 L1322.4 461.9 L1322.2 461.7 L1322 461.5 L1321.9 461.3 L1321.7 461.1 L1321.5 460.9 L1321.4 460.7 L1321.2 460.5 L1321 460.3 L1320.9 460.1 L1320.7 459.9 L1320.6 459.7 L1320.4 459.5 L1320.3 459.3 L1320.1 459 L1320 458.8 L1319.9 458.6 L1319.7 458.3 L1319.6 458.1 L1319.4 457.9 L1319.3 457.6 L1319.1 457.4 L1319 457.1 L1318.9 456.9 L1318.7 456.6 L1318.6 456.4 L1318.5 456.2 L1318.3 455.9 L1318.2 455.7 L1318 455.4 L1317.9 455.2 L1317.8 454.9 L1317.6 454.7 L1317.5 454.4 L1317.3 454.2 L1317.2 454 L1317.1 453.7 L1316.9 453.5 L1316.8 453.3 L1316.6 453 L1316.5 452.8 L1316.4 452.5 L1316.2 452.3 L1316.1 452.1 L1316 451.8 L1315.8 451.6 L1315.7 451.4 L1315.6 451.1 L1315.4 450.9 L1315.3 450.7 L1315.2 450.4 L1315.1 450.2 L1314.9 450 L1314.8 449.8 L1314.7 449.5 L1314.6 449.3 L1314.5 449.1 L1314.4 448.8 L1314.3 448.6 L1314.2 448.4 L1314.1 448.1 L1314 447.9 L1313.9 447.7 L1313.8 447.5 L1313.7 447.2 L1313.7 447 L1313.6 446.8 L1313.5 446.5 L1313.5 446.3 L1313.4 446.1 L1313.3 445.8 L1313.3 445.6 L1313.3 445.4 L1313.2 445.1 L1313.2 444.9 L1313.2 444.7 L1313.1 444.4 L1313.1 444.2 L1313.1 443.9 L1313.1 443.7 L1313.1 443.5 L1313.1 443.2 L1313.2 443 L1313.2 442.7 L1313.2 442.5 L1313.3 442.3 L1313.3 442 L1313.3 441.8 L1313.4 441.5 L1313.5 441.3 L1313.5 441 L1313.6 440.8 L1313.7 440.5 L1313.8 440.3 L1313.9 440.1 L1314 439.8 L1314.1 439.6 L1314.2 439.4 L1314.3 439.2 L1314.5 438.9 L1314.6 438.7 L1314.7 438.5 L1314.9 438.3 L1315 438.1 L1315.2 437.9 L1315.3 437.7 L1315.5 437.5 L1315.6 437.3 L1315.8 437.1 L1316 437 L1316.2 436.8 L1316.4 436.6 L1316.5 436.5 L1316.7 436.4 L1316.9 436.2 L1317.1 436.1 L1317.3 436 L1317.5 435.9 L1317.7 435.8 L1318 435.7 Z" fill="none" stroke="#ff8c00" stroke-width="3.1" stroke-linejoin="round"/>
<path d="M1318.6 640.6 L1319.5 641 L1320.3 641.7 L1321.1 642.5 L1322 643.5 L1322.8 644.6 L1323.7 645.6 L1324.6 646.5 L1325.6 647.2 L1326.7 647.9 L1327.9 648.4 L1329.1 648.9 L1330.3 649.2 L1331.6 649.6 L1332.8 649.9 L1334.1 650.2 L1335.3 650.5 L1336.5 650.8 L1337.7 651.2 L1338.8 651.7 L1339.9 652.2 L1340.9 652.8 L1341.9 653.4 L1342.9 654.2 L1343.8 654.9 L1344.6 655.8 L1345.4 656.6 L1346.2 657.6 L1346.9 658.5 L1347.7 659.6 L1348.3 660.6 L1349 661.7 L1349.6 662.8 L1350.2 663.9 L1350.8 665.1 L1351.3 666.2 L1351.9 667.4 L1352.4 668.6 L1352.9 669.8 L1353.4 670.9 L1353.8 672.1 L1354.3 673.3 L1354.7 674.5 L1355.2 675.7 L1355.6 676.9 L1356 678.1 L1356.4 679.3 L1356.7 680.5 L1357.1 681.7 L1357.4 682.9 L1357.8 684.1 L1358.1 685.4 L1358.4 686.6 L1358.6 687.8 L1358.9 689 L1359.1 690.2 L1359.4 691.4 L1359.6 692.6 L1359.8 693.9 L1360 695.1 L1360.1 696.3 L1360.3 697.5 L1360.4 698.7 L1360.5 700 L1360.6 701.2 L1360.7 702.4 L1360.8 703.7 L1360.8 704.9 L1360.9 706.1 L1360.9 707.3 L1360.9 708.6 L1360.9 709.8 L1360.9 711 L1360.8 712.3 L1360.7 713.5 L1360.7 714.7 L1360.6 715.9 L1360.4 717.2 L1360.3 718.4 L1360.1 719.6 L1360 720.9 L1359.8 722.1 L1359.6 723.3 L1359.4 724.6 L1359.1 725.8 L1358.9 727 L1358.6 728.2 L1358.4 729.5 L1358.1 730.7 L1357.8 731.9 L1357.5 733.1 L1357.2 734.4 L1356.9 735.6 L1356.6 736.8 L1356.3 738 L1355.9 739.2 L1355.6 740.5 L1355.3 741.7 L1354.9 742.9 L1354.6 744.1 L1354.3 745.3 L1353.9 746.5 L1353.6 747.7 L1353.3 748.9 L1352.9 750.1 L1352.6 751.3 L1352.3 752.5 L1351.9 753.7 L1351.6 754.9 L1351.2 756 L1350.8 757.2 L1350.4 758.3 L1350 759.4 L1349.5 760.5 L1348.9 761.6 L1348.3 762.6 L1347.6 763.6 L1346.9 764.6 L1346.1 765.6 L1345.3 766.5 L1344.4 767.4 L1343.5 768.3 L1342.5 769.1 L1341.5 769.9 L1340.5 770.7 L1339.4 771.4 L1338.3 772.2 L1337.2 772.9 L1336.1 773.5 L1335 774.1 L1333.8 774.7 L1332.6 775.2 L1331.5 775.7 L1330.3 776.1 L1329.1 776.5 L1327.9 776.8 L1326.7 777 L1325.5 777.2 L1324.3 777.3 L1323.1 777.3 L1322 777.2 L1320.8 777.1 L1319.7 776.9 L1318.6 776.5 L1317.5 776.1 L1316.4 775.6 L1315.3 774.9 L1314.3 774.2 L1313.3 773.4 L1312.3 772.4 L1311.3 771.4 L1310.4 770.3 L1309.5 769.3 L1308.5 768.3 L1307.5 767.3 L1306.6 766.4 L1305.6 765.7 L1304.5 765.1 L1303.4 764.7 L1302.3 764.6 L1301.1 764.6 L1299.9 764.8 L1298.6 765.1 L1297.4 765.5 L1296.1 765.9 L1294.9 766.1 L1293.8 766.3 L1292.7 766.3 L1291.6 766 L1290.7 765.5 L1289.8 764.8 L1288.9 763.9 L1288.2 762.9 L1287.4 761.8 L1286.7 760.6 L1286.1 759.3 L1285.4 758.1 L1284.8 756.8 L1284.3 755.6 L1283.7 754.4 L1283.2 753.2 L1282.7 752 L1282.2 750.9 L1281.8 749.7 L1281.4 748.6 L1281 747.4 L1280.7 746.2 L1280.4 745.1 L1280.2 743.9 L1280 742.7 L1279.8 741.5 L1279.7 740.3 L1279.5 739 L1279.4 737.8 L1279.3 736.6 L1279.1 735.3 L1278.8 734.1 L1278.6 732.9 L1278.2 731.7 L1277.7 730.5 L1277.2 729.3 L1276.5 728.2 L1275.8 727 L1275 725.9 L1274.1 724.8 L1273.3 723.7 L1272.4 722.7 L1271.7 721.6 L1271 720.5 L1270.4 719.5 L1269.9 718.4 L1269.6 717.3 L1269.5 716.3 L1269.6 715.2 L1270 714.1 L1270.5 713 L1271.2 711.9 L1271.9 710.8 L1272.6 709.6 L1273.3 708.5 L1273.8 707.4 L1274.2 706.3 L1274.4 705.2 L1274.3 704.1 L1273.9 702.9 L1273.2 701.9 L1272.4 700.8 L1271.5 699.7 L1270.6 698.7 L1269.7 697.7 L1269 696.7 L1268.4 695.7 L1268 694.8 L1267.9 693.9 L1268.2 693 L1268.7 692.2 L1269.5 691.3 L1270.4 690.5 L1271.5 689.7 L1272.5 688.8 L1273.6 687.9 L1274.7 687 L1275.6 686 L1276.3 684.9 L1276.9 683.8 L1277.3 682.6 L1277.5 681.4 L1277.7 680.1 L1277.7 678.9 L1277.7 677.6 L1277.7 676.3 L1277.6 675 L1277.6 673.7 L1277.7 672.5 L1277.9 671.3 L1278.2 670.2 L1278.7 669.2 L1279.3 668.2 L1280.1 667.3 L1281 666.4 L1281.9 665.5 L1282.9 664.7 L1283.8 663.8 L1284.7 662.9 L1285.5 661.9 L1286.1 660.9 L1286.6 659.8 L1287 658.6 L1287.3 657.4 L1287.5 656.2 L1287.8 655.1 L1288.2 654.2 L1288.8 653.4 L1289.6 652.9 L1290.5 652.5 L1291.6 652.2 L1292.8 652.1 L1294 652 L1295.4 652 L1296.7 651.9 L1298.1 651.9 L1299.5 651.8 L1300.8 651.6 L1302 651.3 L1303.2 650.9 L1304.4 650.4 L1305.5 649.8 L1306.5 649.1 L1307.5 648.4 L1308.5 647.6 L1309.6 646.7 L1310.6 645.8 L1311.6 644.9 L1312.6 643.9 L1313.7 643 L1314.7 642.1 L1315.7 641.4 L1316.8 640.9 L1317.7 640.6 L1318.6 640.6 Z" fill="#ffe8cc"/>
<path d="M1328.1 662.3 L1329 662.5 L1329.9 662.8 L1330.7 663 L1331.5 663.3 L1332.3 663.7 L1333.1 664 L1333.8 664.5 L1334.5 664.9 L1335.2 665.4 L1335.9 665.9 L1336.5 666.4 L1337.2 667 L1337.8 667.6 L1338.4 668.2 L1338.9 668.9 L1339.5 669.5 L1340 670.2 L1340.5 670.9 L1341 671.7 L1341.5 672.4 L1342 673.2 L1342.4 674 L1342.8 674.8 L1343.2 675.6 L1343.6 676.4 L1344 677.2 L1344.4 678.1 L1344.7 678.9 L1345.1 679.8 L1345.4 680.6 L1345.7 681.5 L1346 682.4 L1346.3 683.2 L1346.6 684.1 L1346.9 685 L1347.2 685.9 L1347.4 686.8 L1347.7 687.6 L1347.9 688.5 L1348.1 689.4 L1348.3 690.3 L1348.5 691.1 L1348.7 692 L1348.9 692.9 L1349 693.8 L1349.1 694.7 L1349.2 695.5 L1349.3 696.4 L1349.4 697.3 L1349.4 698.2 L1349.5 699 L1349.5 699.9 L1349.5 700.8 L1349.4 701.7 L1349.4 702.5 L1349.4 703.4 L1349.3 704.3 L1349.2 705.1 L1349.1 706 L1349.1 706.9 L1349 707.8 L1348.9 708.6 L1348.8 709.5 L1348.7 710.4 L1348.7 711.3 L1348.6 712.2 L1348.6 713.1 L1348.5 714 L1348.5 714.8 L1348.5 715.7 L1348.6 716.6 L1348.6 717.5 L1348.7 718.5 L1348.8 719.4 L1348.9 720.3 L1349.1 721.2 L1349.2 722.1 L1349.4 723 L1349.6 724 L1349.8 724.9 L1350 725.8 L1350.1 726.7 L1350.3 727.6 L1350.4 728.5 L1350.5 729.4 L1350.6 730.3 L1350.6 731.2 L1350.6 732.1 L1350.6 732.9 L1350.5 733.8 L1350.3 734.7 L1350.2 735.5 L1350 736.3 L1349.8 737.2 L1349.5 738 L1349.2 738.8 L1348.9 739.6 L1348.6 740.4 L1348.2 741.2 L1347.8 742 L1347.4 742.7 L1346.9 743.5 L1346.5 744.3 L1346 745 L1345.5 745.8 L1345 746.5 L1344.4 747.3 L1343.9 748 L1343.3 748.7 L1342.7 749.5 L1342.1 750.2 L1341.6 750.9 L1340.9 751.6 L1340.3 752.3 L1339.7 753 L1339.1 753.7 L1338.5 754.4 L1337.9 755.1 L1337.3 755.8 L1336.6 756.5 L1336 757.1 L1335.4 757.8 L1334.8 758.4 L1334.2 759.1 L1333.5 759.7 L1332.9 760.2 L1332.2 760.7 L1331.6 761.2 L1330.9 761.6 L1330.1 762 L1329.4 762.2 L1328.6 762.4 L1327.8 762.6 L1327 762.6 L1326.1 762.6 L1325.3 762.5 L1324.4 762.4 L1323.5 762.2 L1322.6 762 L1321.7 761.8 L1320.8 761.5 L1319.9 761.1 L1319 760.8 L1318.1 760.4 L1317.2 760 L1316.4 759.6 L1315.5 759.1 L1314.7 758.7 L1313.9 758.3 L1313.1 757.8 L1312.3 757.3 L1311.5 756.8 L1310.7 756.3 L1310 755.8 L1309.3 755.3 L1308.5 754.8 L1307.8 754.2 L1307.1 753.7 L1306.5 753.1 L1305.8 752.6 L1305.2 752 L1304.5 751.4 L1303.9 750.8 L1303.3 750.1 L1302.7 749.5 L1302.1 748.9 L1301.5 748.2 L1301 747.6 L1300.4 746.9 L1299.9 746.2 L1299.3 745.5 L1298.8 744.8 L1298.3 744.1 L1297.8 743.4 L1297.3 742.7 L1296.8 741.9 L1296.4 741.2 L1295.9 740.4 L1295.5 739.7 L1295 738.9 L1294.6 738.1 L1294.2 737.3 L1293.8 736.5 L1293.4 735.7 L1293 734.9 L1292.6 734 L1292.3 733.2 L1291.9 732.4 L1291.6 731.5 L1291.2 730.7 L1290.9 729.8 L1290.6 728.9 L1290.3 728.1 L1290 727.2 L1289.7 726.3 L1289.5 725.4 L1289.2 724.6 L1289 723.7 L1288.8 722.8 L1288.6 721.9 L1288.4 721.1 L1288.3 720.2 L1288.1 719.3 L1288 718.5 L1287.9 717.6 L1287.8 716.7 L1287.7 715.9 L1287.6 715 L1287.5 714.2 L1287.5 713.3 L1287.4 712.5 L1287.4 711.6 L1287.4 710.8 L1287.3 709.9 L1287.3 709 L1287.3 708.2 L1287.3 707.3 L1287.3 706.4 L1287.3 705.5 L1287.3 704.6 L1287.2 703.7 L1287.2 702.8 L1287.2 701.9 L1287.1 701 L1287.1 700 L1287 699.1 L1287 698.1 L1286.9 697.1 L1286.8 696.1 L1286.7 695.1 L1286.6 694.1 L1286.5 693.1 L1286.4 692 L1286.3 691 L1286.3 690 L1286.2 689 L1286.2 688 L1286.2 687.1 L1286.2 686.1 L1286.2 685.2 L1286.3 684.3 L1286.4 683.5 L1286.6 682.6 L1286.8 681.8 L1287.1 681.1 L1287.4 680.4 L1287.8 679.7 L1288.2 679.1 L1288.7 678.5 L1289.3 678 L1289.9 677.6 L1290.6 677.1 L1291.4 676.8 L1292.2 676.4 L1293 676.1 L1293.9 675.8 L1294.7 675.5 L1295.6 675.2 L1296.5 674.9 L1297.4 674.5 L1298.2 674.2 L1299 673.8 L1299.9 673.3 L1300.6 672.8 L1301.3 672.3 L1302 671.7 L1302.6 671.1 L1303.3 670.4 L1303.8 669.7 L1304.4 669 L1304.9 668.2 L1305.5 667.5 L1306 666.8 L1306.6 666.2 L1307.2 665.5 L1307.7 665 L1308.4 664.5 L1309 664 L1309.7 663.6 L1310.5 663.3 L1311.2 663 L1312 662.8 L1312.9 662.6 L1313.7 662.5 L1314.6 662.3 L1315.5 662.3 L1316.4 662.2 L1317.4 662.1 L1318.3 662.1 L1319.3 662 L1320.3 662 L1321.3 662 L1322.3 661.9 L1323.3 661.9 L1324.3 662 L1325.2 662 L1326.2 662.1 L1327.2 662.2 L1328.1 662.3 Z" fill="#ffd199"/>
<path d="M1317.2 678.2 L1317.7 677.9 L1318.3 677.7 L1318.8 677.5 L1319.3 677.3 L1319.9 677.1 L1320.4 676.9 L1321 676.8 L1321.6 676.7 L1322.2 676.6 L1322.8 676.6 L1323.3 676.5 L1323.9 676.5 L1324.5 676.5 L1325.1 676.6 L1325.7 676.6 L1326.3 676.7 L1326.9 676.8 L1327.4 676.9 L1328 677.1 L1328.6 677.3 L1329.1 677.5 L1329.6 677.7 L1330.1 677.9 L1330.7 678.2 L1331.1 678.5 L1331.6 678.8 L1332.1 679.2 L1332.5 679.5 L1332.9 679.9 L1333.3 680.3 L1333.7 680.7 L1334.1 681.2 L1334.4 681.6 L1334.8 682.1 L1335.1 682.6 L1335.4 683.1 L1335.7 683.6 L1336 684.1 L1336.3 684.6 L1336.6 685.1 L1336.8 685.7 L1337.1 686.2 L1337.3 686.7 L1337.5 687.3 L1337.7 687.8 L1337.9 688.4 L1338.1 688.9 L1338.2 689.5 L1338.4 690.1 L1338.5 690.6 L1338.7 691.2 L1338.8 691.7 L1338.9 692.3 L1339 692.9 L1339.1 693.5 L1339.2 694 L1339.3 694.6 L1339.4 695.2 L1339.5 695.7 L1339.5 696.3 L1339.6 696.9 L1339.7 697.5 L1339.7 698.1 L1339.8 698.6 L1339.8 699.2 L1339.9 699.8 L1339.9 700.4 L1339.9 701 L1340 701.6 L1340 702.1 L1340 702.7 L1340 703.3 L1340.1 703.9 L1340.1 704.5 L1340.1 705.1 L1340.1 705.6 L1340.1 706.2 L1340.2 706.8 L1340.2 707.4 L1340.2 708 L1340.2 708.6 L1340.2 709.1 L1340.2 709.7 L1340.2 710.3 L1340.2 710.9 L1340.2 711.4 L1340.2 712 L1340.2 712.6 L1340.2 713.2 L1340.2 713.8 L1340.2 714.3 L1340.2 714.9 L1340.2 715.5 L1340.2 716.1 L1340.1 716.6 L1340.1 717.2 L1340.1 717.8 L1340 718.3 L1340 718.9 L1339.9 719.5 L1339.9 720.1 L1339.8 720.6 L1339.7 721.2 L1339.7 721.8 L1339.6 722.3 L1339.5 722.9 L1339.4 723.4 L1339.3 724 L1339.2 724.6 L1339.1 725.1 L1339 725.7 L1338.9 726.2 L1338.7 726.8 L1338.6 727.4 L1338.5 727.9 L1338.3 728.5 L1338.1 729 L1338 729.6 L1337.8 730.1 L1337.6 730.7 L1337.4 731.2 L1337.2 731.8 L1337 732.3 L1336.8 732.9 L1336.5 733.4 L1336.3 733.9 L1336 734.5 L1335.8 735 L1335.5 735.6 L1335.2 736.1 L1334.9 736.6 L1334.6 737.2 L1334.3 737.7 L1334 738.2 L1333.6 738.8 L1333.3 739.3 L1332.9 739.8 L1332.6 740.3 L1332.2 740.7 L1331.8 741.2 L1331.4 741.7 L1331 742.1 L1330.6 742.5 L1330.2 742.9 L1329.8 743.3 L1329.4 743.6 L1328.9 743.9 L1328.5 744.2 L1328 744.5 L1327.6 744.7 L1327.1 744.9 L1326.6 745.1 L1326.1 745.2 L1325.7 745.3 L1325.2 745.4 L1324.7 745.4 L1324.2 745.4 L1323.7 745.3 L1323.2 745.2 L1322.7 745.1 L1322.1 745 L1321.6 744.8 L1321.1 744.6 L1320.6 744.4 L1320.1 744.2 L1319.6 743.9 L1319 743.6 L1318.5 743.4 L1318 743.1 L1317.5 742.8 L1317 742.4 L1316.5 742.1 L1316 741.8 L1315.5 741.4 L1315 741.1 L1314.5 740.7 L1314 740.4 L1313.5 740 L1313 739.6 L1312.5 739.2 L1312.1 738.8 L1311.6 738.4 L1311.2 738 L1310.7 737.6 L1310.3 737.2 L1309.9 736.8 L1309.4 736.3 L1309 735.9 L1308.6 735.4 L1308.3 735 L1307.9 734.5 L1307.5 734.1 L1307.2 733.6 L1306.9 733.1 L1306.5 732.6 L1306.2 732.2 L1305.9 731.7 L1305.7 731.2 L1305.4 730.7 L1305.1 730.2 L1304.9 729.6 L1304.7 729.1 L1304.5 728.6 L1304.2 728.1 L1304.1 727.5 L1303.9 727 L1303.7 726.5 L1303.5 725.9 L1303.4 725.4 L1303.2 724.8 L1303.1 724.3 L1302.9 723.7 L1302.8 723.1 L1302.7 722.6 L1302.6 722 L1302.5 721.4 L1302.4 720.9 L1302.3 720.3 L1302.2 719.7 L1302.1 719.2 L1302 718.6 L1301.9 718 L1301.9 717.4 L1301.8 716.8 L1301.7 716.2 L1301.6 715.7 L1301.6 715.1 L1301.5 714.5 L1301.5 713.9 L1301.4 713.3 L1301.4 712.7 L1301.3 712.1 L1301.3 711.6 L1301.3 711 L1301.2 710.4 L1301.2 709.8 L1301.2 709.2 L1301.2 708.7 L1301.2 708.1 L1301.3 707.5 L1301.3 706.9 L1301.3 706.4 L1301.4 705.8 L1301.4 705.2 L1301.5 704.7 L1301.6 704.1 L1301.7 703.6 L1301.8 703 L1301.9 702.5 L1302.1 701.9 L1302.2 701.4 L1302.4 700.9 L1302.6 700.4 L1302.8 699.8 L1303 699.3 L1303.2 698.8 L1303.4 698.3 L1303.7 697.8 L1303.9 697.3 L1304.2 696.8 L1304.5 696.3 L1304.7 695.8 L1305 695.3 L1305.3 694.8 L1305.6 694.3 L1305.9 693.8 L1306.2 693.3 L1306.5 692.8 L1306.8 692.3 L1307.1 691.8 L1307.4 691.2 L1307.7 690.7 L1308 690.2 L1308.3 689.7 L1308.6 689.1 L1308.9 688.6 L1309.2 688.1 L1309.5 687.5 L1309.8 687 L1310.1 686.5 L1310.4 686 L1310.7 685.4 L1311 684.9 L1311.3 684.4 L1311.7 683.9 L1312 683.4 L1312.3 682.9 L1312.7 682.4 L1313 682 L1313.4 681.5 L1313.8 681.1 L1314.2 680.7 L1314.6 680.3 L1315 679.9 L1315.4 679.5 L1315.8 679.1 L1316.3 678.8 L1316.8 678.5 L1317.2 678.2 Z" fill="#ffba66"/>
<path d="M1323.1 693.5 L1323.3 693.5 L1323.6 693.6 L1323.8 693.6 L1324 693.7 L1324.3 693.8 L1324.5 693.9 L1324.7 694 L1324.9 694.2 L1325.1 694.4 L1325.4 694.5 L1325.6 694.7 L1325.8 694.9 L1326 695.1 L1326.2 695.4 L1326.4 695.6 L1326.6 695.8 L1326.8 696.1 L1327 696.3 L1327.1 696.6 L1327.3 696.9 L1327.5 697.2 L1327.7 697.5 L1327.8 697.7 L1328 698 L1328.1 698.3 L1328.3 698.6 L1328.4 698.9 L1328.6 699.2 L1328.7 699.5 L1328.8 699.8 L1328.9 700.1 L1329 700.4 L1329.1 700.7 L1329.2 701 L1329.3 701.3 L1329.4 701.6 L1329.5 701.9 L1329.6 702.2 L1329.7 702.5 L1329.7 702.8 L1329.8 703.1 L1329.9 703.4 L1329.9 703.7 L1330 704 L1330 704.3 L1330.1 704.6 L1330.1 704.9 L1330.1 705.2 L1330.2 705.5 L1330.2 705.8 L1330.2 706.1 L1330.2 706.4 L1330.2 706.7 L1330.2 706.9 L1330.2 707.2 L1330.2 707.5 L1330.2 707.8 L1330.2 708.1 L1330.2 708.4 L1330.2 708.7 L1330.2 708.9 L1330.1 709.2 L1330.1 709.5 L1330.1 709.8 L1330.1 710.1 L1330 710.4 L1330 710.6 L1329.9 710.9 L1329.9 711.2 L1329.9 711.5 L1329.8 711.7 L1329.8 712 L1329.7 712.3 L1329.7 712.6 L1329.6 712.8 L1329.5 713.1 L1329.5 713.4 L1329.4 713.7 L1329.4 713.9 L1329.3 714.2 L1329.2 714.5 L1329.2 714.8 L1329.1 715 L1329 715.3 L1329 715.6 L1328.9 715.9 L1328.8 716.2 L1328.8 716.5 L1328.7 716.7 L1328.6 717 L1328.6 717.3 L1328.5 717.6 L1328.4 717.9 L1328.4 718.2 L1328.3 718.5 L1328.3 718.8 L1328.2 719.1 L1328.1 719.4 L1328.1 719.7 L1328 720.1 L1328 720.4 L1327.9 720.7 L1327.9 721 L1327.8 721.4 L1327.8 721.7 L1327.7 722 L1327.7 722.3 L1327.6 722.7 L1327.6 723 L1327.5 723.3 L1327.5 723.7 L1327.5 724 L1327.4 724.3 L1327.4 724.7 L1327.3 725 L1327.3 725.3 L1327.2 725.7 L1327.2 726 L1327.1 726.3 L1327 726.6 L1327 726.9 L1326.9 727.2 L1326.8 727.5 L1326.8 727.8 L1326.7 728.1 L1326.6 728.3 L1326.5 728.6 L1326.4 728.9 L1326.3 729.1 L1326.2 729.3 L1326.1 729.6 L1326 729.8 L1325.8 730 L1325.7 730.2 L1325.6 730.4 L1325.4 730.5 L1325.3 730.7 L1325.1 730.9 L1324.9 731 L1324.8 731.1 L1324.6 731.2 L1324.4 731.3 L1324.2 731.4 L1324 731.5 L1323.8 731.5 L1323.5 731.6 L1323.3 731.6 L1323.1 731.6 L1322.9 731.6 L1322.7 731.6 L1322.4 731.6 L1322.2 731.5 L1322 731.5 L1321.8 731.4 L1321.6 731.3 L1321.4 731.2 L1321.1 731.1 L1320.9 731 L1320.7 730.9 L1320.6 730.7 L1320.4 730.6 L1320.2 730.4 L1320 730.3 L1319.8 730.1 L1319.7 729.9 L1319.5 729.7 L1319.3 729.4 L1319.2 729.2 L1319 729 L1318.9 728.7 L1318.7 728.5 L1318.6 728.2 L1318.5 728 L1318.3 727.7 L1318.2 727.4 L1318.1 727.1 L1318 726.9 L1317.8 726.6 L1317.7 726.3 L1317.6 725.9 L1317.5 725.6 L1317.4 725.3 L1317.3 725 L1317.2 724.7 L1317.1 724.4 L1317 724 L1316.9 723.7 L1316.9 723.4 L1316.8 723 L1316.7 722.7 L1316.6 722.4 L1316.5 722 L1316.5 721.7 L1316.4 721.3 L1316.3 721 L1316.3 720.7 L1316.2 720.3 L1316.1 720 L1316.1 719.7 L1316 719.3 L1316 719 L1315.9 718.7 L1315.9 718.4 L1315.8 718 L1315.8 717.7 L1315.7 717.4 L1315.7 717.1 L1315.6 716.8 L1315.6 716.5 L1315.6 716.2 L1315.5 715.9 L1315.5 715.6 L1315.5 715.3 L1315.4 715 L1315.4 714.7 L1315.4 714.4 L1315.3 714.1 L1315.3 713.9 L1315.3 713.6 L1315.3 713.3 L1315.3 713 L1315.2 712.7 L1315.2 712.4 L1315.2 712.2 L1315.2 711.9 L1315.2 711.6 L1315.2 711.3 L1315.2 711 L1315.2 710.8 L1315.2 710.5 L1315.2 710.2 L1315.2 709.9 L1315.2 709.6 L1315.2 709.3 L1315.2 709.1 L1315.2 708.8 L1315.2 708.5 L1315.2 708.2 L1315.2 707.9 L1315.2 707.6 L1315.2 707.3 L1315.3 707 L1315.3 706.7 L1315.3 706.5 L1315.3 706.2 L1315.4 705.9 L1315.4 705.6 L1315.4 705.3 L1315.5 705 L1315.5 704.7 L1315.5 704.4 L1315.6 704.1 L1315.6 703.8 L1315.7 703.5 L1315.8 703.2 L1315.8 702.9 L1315.9 702.6 L1316 702.3 L1316 702 L1316.1 701.7 L1316.2 701.4 L1316.3 701.1 L1316.4 700.9 L1316.5 700.6 L1316.6 700.3 L1316.7 700 L1316.8 699.7 L1316.9 699.4 L1317.1 699.1 L1317.2 698.9 L1317.3 698.6 L1317.5 698.3 L1317.6 698 L1317.8 697.8 L1317.9 697.5 L1318.1 697.2 L1318.3 697 L1318.5 696.7 L1318.7 696.5 L1318.8 696.2 L1319 696 L1319.2 695.7 L1319.5 695.5 L1319.7 695.3 L1319.9 695.1 L1320.1 694.9 L1320.3 694.7 L1320.5 694.5 L1320.8 694.3 L1321 694.2 L1321.2 694 L1321.5 693.9 L1321.7 693.8 L1321.9 693.7 L1322.2 693.6 L1322.4 693.6 L1322.6 693.5 L1322.9 693.5 L1323.1 693.5 Z" fill="#ffa333"/>
<path d="M1318.6 640.6 L1319.5 641 L1320.3 641.7 L1321.1 642.5 L1322 643.5 L1322.8 644.6 L1323.7 645.6 L1324.6 646.5 L1325.6 647.2 L1326.7 647.9 L1327.9 648.4 L1329.1 648.9 L1330.3 649.2 L1331.6 649.6 L1332.8 649.9 L1334.1 650.2 L1335.3 650.5 L1336.5 650.8 L1337.7 651.2 L1338.8 651.7 L1339.9 652.2 L1340.9 652.8 L1341.9 653.4 L1342.9 654.2 L1343.8 654.9 L1344.6 655.8 L1345.4 656.6 L1346.2 657.6 L1346.9 658.5 L1347.7 659.6 L1348.3 660.6 L1349 661.7 L1349.6 662.8 L1350.2 663.9 L1350.8 665.1 L1351.3 666.2 L1351.9 667.4 L1352.4 668.6 L1352.9 669.8 L1353.4 670.9 L1353.8 672.1 L1354.3 673.3 L1354.7 674.5 L1355.2 675.7 L1355.6 676.9 L1356 678.1 L1356.4 679.3 L1356.7 680.5 L1357.1 681.7 L1357.4 682.9 L1357.8 684.1 L1358.1 685.4 L1358.4 686.6 L1358.6 687.8 L1358.9 689 L1359.1 690.2 L1359.4 691.4 L1359.6 692.6 L1359.8 693.9 L1360 695.1 L1360.1 696.3 L1360.3 697.5 L1360.4 698.7 L1360.5 700 L1360.6 701.2 L1360.7 702.4 L1360.8 703.7 L1360.8 704.9 L1360.9 706.1 L1360.9 707.3 L1360.9 708.6 L1360.9 709.8 L1360.9 711 L1360.8 712.3 L1360.7 713.5 L1360.7 714.7 L1360.6 715.9 L1360.4 717.2 L1360.3 718.4 L1360.1 719.6 L1360 720.9 L1359.8 722.1 L1359.6 723.3 L1359.4 724.6 L1359.1 725.8 L1358.9 727 L1358.6 728.2 L1358.4 729.5 L1358.1 730.7 L1357.8 731.9 L1357.5 733.1 L1357.2 734.4 L1356.9 735.6 L1356.6 736.8 L1356.3 738 L1355.9 739.2 L1355.6 740.5 L1355.3 741.7 L1354.9 742.9 L1354.6 744.1 L1354.3 745.3 L1353.9 746.5 L1353.6 747.7 L1353.3 748.9 L1352.9 750.1 L1352.6 751.3 L1352.3 752.5 L1351.9 753.7 L1351.6 754.9 L1351.2 756 L1350.8 757.2 L1350.4 758.3 L1350 759.4 L1349.5 760.5 L1348.9 761.6 L1348.3 762.6 L1347.6 763.6 L1346.9 764.6 L1346.1 765.6 L1345.3 766.5 L1344.4 767.4 L1343.5 768.3 L1342.5 769.1 L1341.5 769.9 L1340.5 770.7 L1339.4 771.4 L1338.3 772.2 L1337.2 772.9 L1336.1 773.5 L1335 774.1 L1333.8 774.7 L1332.6 775.2 L1331.5 775.7 L1330.3 776.1 L1329.1 776.5 L1327.9 776.8 L1326.7 777 L1325.5 777.2 L1324.3 777.3 L1323.1 777.3 L1322 777.2 L1320.8 777.1 L1319.7 776.9 L1318.6 776.5 L1317.5 776.1 L1316.4 775.6 L1315.3 774.9 L1314.3 774.2 L1313.3 773.4 L1312.3 772.4 L1311.3 771.4 L1310.4 770.3 L1309.5 769.3 L1308.5 768.3 L1307.5 767.3 L1306.6 766.4 L1305.6 765.7 L1304.5 765.1 L1303.4 764.7 L1302.3 764.6 L1301.1 764.6 L1299.9 764.8 L1298.6 765.1 L1297.4 765.5 L1296.1 765.9 L1294.9 766.1 L1293.8 766.3 L1292.7 766.3 L1291.6 766 L1290.7 765.5 L1289.8 764.8 L1288.9 763.9 L1288.2 762.9 L1287.4 761.8 L1286.7 760.6 L1286.1 759.3 L1285.4 758.1 L1284.8 756.8 L1284.3 755.6 L1283.7 754.4 L1283.2 753.2 L1282.7 752 L1282.2 750.9 L1281.8 749.7 L1281.4 748.6 L1281 747.4 L1280.7 746.2 L1280.4 745.1 L1280.2 743.9 L1280 742.7 L1279.8 741.5 L1279.7 740.3 L1279.5 739 L1279.4 737.8 L1279.3 736.6 L1279.1 735.3 L1278.8 734.1 L1278.6 732.9 L1278.2 731.7 L1277.7 730.5 L1277.2 729.3 L1276.5 728.2 L1275.8 727 L1275 725.9 L1274.1 724.8 L1273.3 723.7 L1272.4 722.7 L1271.7 721.6 L1271 720.5 L1270.4 719.5 L1269.9 718.4 L1269.6 717.3 L1269.5 716.3 L1269.6 715.2 L1270 714.1 L1270.5 713 L1271.2 711.9 L1271.9 710.8 L1272.6 709.6 L1273.3 708.5 L1273.8 707.4 L1274.2 706.3 L1274.4 705.2 L1274.3 704.1 L1273.9 702.9 L1273.2 701.9 L1272.4 700.8 L1271.5 699.7 L1270.6 698.7 L1269.7 697.7 L1269 696.7 L1268.4 695.7 L1268 694.8 L1267.9 693.9 L1268.2 693 L1268.7 692.2 L1269.5 691.3 L1270.4 690.5 L1271.5 689.7 L1272.5 688.8 L1273.6 687.9 L1274.7 687 L1275.6 686 L1276.3 684.9 L1276.9 683.8 L1277.3 682.6 L1277.5 681.4 L1277.7 680.1 L1277.7 678.9 L1277.7 677.6 L1277.7 676.3 L1277.6 675 L1277.6 673.7 L1277.7 672.5 L1277.9 671.3 L1278.2 670.2 L1278.7 669.2 L1279.3 668.2 L1280.1 667.3 L1281 666.4 L1281.9 665.5 L1282.9 664.7 L1283.8 663.8 L1284.7 662.9 L1285.5 661.9 L1286.1 660.9 L1286.6 659.8 L1287 658.6 L1287.3 657.4 L1287.5 656.2 L1287.8 655.1 L1288.2 654.2 L1288.8 653.4 L1289.6 652.9 L1290.5 652.5 L1291.6 652.2 L1292.8 652.1 L1294 652 L1295.4 652 L1296.7 651.9 L1298.1 651.9 L1299.5 651.8 L1300.8 651.6 L1302 651.3 L1303.2 650.9 L1304.4 650.4 L1305.5 649.8 L1306.5 649.1 L1307.5 648.4 L1308.5 647.6 L1309.6 646.7 L1310.6 645.8 L1311.6 644.9 L1312.6 643.9 L1313.7 643 L1314.7 642.1 L1315.7 641.4 L1316.8 640.9 L1317.7 640.6 L1318.6 640.6 Z" fill="none" stroke="#ff8c00" stroke-width="3.1" stroke-linejoin="round"/>
<path d="M1328.1 662.3 L1329 662.5 L1329.9 662.8 L1330.7 663 L1331.5 663.3 L1332.3 663.7 L1333.1 664 L1333.8 664.5 L1334.5 664.9 L1335.2 665.4 L1335.9 665.9 L1336.5 666.4 L1337.2 667 L1337.8 667.6 L1338.4 668.2 L1338.9 668.9 L1339.5 669.5 L1340 670.2 L1340.5 670.9 L1341 671.7 L1341.5 672.4 L1342 673.2 L1342.4 674 L1342.8 674.8 L1343.2 675.6 L1343.6 676.4 L1344 677.2 L1344.4 678.1 L1344.7 678.9 L1345.1 679.8 L1345.4 680.6 L1345.7 681.5 L1346 682.4 L1346.3 683.2 L1346.6 684.1 L1346.9 685 L1347.2 685.9 L1347.4 686.8 L1347.7 687.6 L1347.9 688.5 L1348.1 689.4 L1348.3 690.3 L1348.5 691.1 L1348.7 692 L1348.9 692.9 L1349 693.8 L1349.1 694.7 L1349.2 695.5 L1349.3 696.4 L1349.4 697.3 L1349.4 698.2 L1349.5 699 L1349.5 699.9 L1349.5 700.8 L1349.4 701.7 L1349.4 702.5 L1349.4 703.4 L1349.3 704.3 L1349.2 705.1 L1349.1 706 L1349.1 706.9 L1349 707.8 L1348.9 708.6 L1348.8 709.5 L1348.7 710.4 L1348.7 711.3 L1348.6 712.2 L1348.6 713.1 L1348.5 714 L1348.5 714.8 L1348.5 715.7 L1348.6 716.6 L1348.6 717.5 L1348.7 718.5 L1348.8 719.4 L1348.9 720.3 L1349.1 721.2 L1349.2 722.1 L1349.4 723 L1349.6 724 L1349.8 724.9 L1350 725.8 L1350.1 726.7 L1350.3 727.6 L1350.4 728.5 L1350.5 729.4 L1350.6 730.3 L1350.6 731.2 L1350.6 732.1 L1350.6 732.9 L1350.5 733.8 L1350.3 734.7 L1350.2 735.5 L1350 736.3 L1349.8 737.2 L1349.5 738 L1349.2 738.8 L1348.9 739.6 L1348.6 740.4 L1348.2 741.2 L1347.8 742 L1347.4 742.7 L1346.9 743.5 L1346.5 744.3 L1346 745 L1345.5 745.8 L1345 746.5 L1344.4 747.3 L1343.9 748 L1343.3 748.7 L1342.7 749.5 L1342.1 750.2 L1341.6 750.9 L1340.9 751.6 L1340.3 752.3 L1339.7 753 L1339.1 753.7 L1338.5 754.4 L1337.9 755.1 L1337.3 755.8 L1336.6 756.5 L1336 757.1 L1335.4 757.8 L1334.8 758.4 L1334.2 759.1 L1333.5 759.7 L1332.9 760.2 L1332.2 760.7 L1331.6 761.2 L1330.9 761.6 L1330.1 762 L1329.4 762.2 L1328.6 762.4 L1327.8 762.6 L1327 762.6 L1326.1 762.6 L1325.3 762.5 L1324.4 762.4 L1323.5 762.2 L1322.6 762 L1321.7 761.8 L1320.8 761.5 L1319.9 761.1 L1319 760.8 L1318.1 760.4 L1317.2 760 L1316.4 759.6 L1315.5 759.1 L1314.7 758.7 L1313.9 758.3 L1313.1 757.8 L1312.3 757.3 L1311.5 756.8 L1310.7 756.3 L1310 755.8 L1309.3 755.3 L1308.5 754.8 L1307.8 754.2 L1307.1 753.7 L1306.5 753.1 L1305.8 752.6 L1305.2 752 L1304.5 751.4 L1303.9 750.8 L1303.3 750.1 L1302.7 749.5 L1302.1 748.9 L1301.5 748.2 L1301 747.6 L1300.4 746.9 L1299.9 746.2 L1299.3 745.5 L1298.8 744.8 L1298.3 744.1 L1297.8 743.4 L1297.3 742.7 L1296.8 741.9 L1296.4 741.2 L1295.9 740.4 L1295.5 739.7 L1295 738.9 L1294.6 738.1 L1294.2 737.3 L1293.8 736.5 L1293.4 735.7 L1293 734.9 L1292.6 734 L1292.3 733.2 L1291.9 732.4 L1291.6 731.5 L1291.2 730.7 L1290.9 729.8 L1290.6 728.9 L1290.3 728.1 L1290 727.2 L1289.7 726.3 L1289.5 725.4 L1289.2 724.6 L1289 723.7 L1288.8 722.8 L1288.6 721.9 L1288.4 721.1 L1288.3 720.2 L1288.1 719.3 L1288 718.5 L1287.9 717.6 L1287.8 716.7 L1287.7 715.9 L1287.6 715 L1287.5 714.2 L1287.5 713.3 L1287.4 712.5 L1287.4 711.6 L1287.4 710.8 L1287.3 709.9 L1287.3 709 L1287.3 708.2 L1287.3 707.3 L1287.3 706.4 L1287.3 705.5 L1287.3 704.6 L1287.2 703.7 L1287.2 702.8 L1287.2 701.9 L1287.1 701 L1287.1 700 L1287 699.1 L1287 698.1 L1286.9 697.1 L1286.8 696.1 L1286.7 695.1 L1286.6 694.1 L1286.5 693.1 L1286.4 692 L1286.3 691 L1286.3 690 L1286.2 689 L1286.2 688 L1286.2 687.1 L1286.2 686.1 L1286.2 685.2 L1286.3 684.3 L1286.4 683.5 L1286.6 682.6 L1286.8 681.8 L1287.1 681.1 L1287.4 680.4 L1287.8 679.7 L1288.2 679.1 L1288.7 678.5 L1289.3 678 L1289.9 677.6 L1290.6 677.1 L1291.4 676.8 L1292.2 676.4 L1293 676.1 L1293.9 675.8 L1294.7 675.5 L1295.6 675.2 L1296.5 674.9 L1297.4 674.5 L1298.2 674.2 L1299 673.8 L1299.9 673.3 L1300.6 672.8 L1301.3 672.3 L1302 671.7 L1302.6 671.1 L1303.3 670.4 L1303.8 669.7 L1304.4 669 L1304.9 668.2 L1305.5 667.5 L1306 666.8 L1306.6 666.2 L1307.2 665.5 L1307.7 665 L1308.4 664.5 L1309 664 L1309.7 663.6 L1310.5 663.3 L1311.2 663 L1312 662.8 L1312.9 662.6 L1313.7 662.5 L1314.6 662.3 L1315.5 662.3 L1316.4 662.2 L1317.4 662.1 L1318.3 662.1 L1319.3 662 L1320.3 662 L1321.3 662 L1322.3 661.9 L1323.3 661.9 L1324.3 662 L1325.2 662 L1326.2 662.1 L1327.2 662.2 L1328.1 662.3 Z" fill="none" stroke="#ff8c00" stroke-width="3.1" stroke-linejoin="round"/>
<path d="M1317.2 678.2 L1317.7 677.9 L1318.3 677.7 L1318.8 677.5 L1319.3 677.3 L1319.9 677.1 L1320.4 676.9 L1321 676.8 L1321.6 676.7 L1322.2 676.6 L1322.8 676.6 L1323.3 676.5 L1323.9 676.5 L1324.5 676.5 L1325.1 676.6 L1325.7 676.6 L1326.3 676.7 L1326.9 676.8 L1327.4 676.9 L1328 677.1 L1328.6 677.3 L1329.1 677.5 L1329.6 677.7 L1330.1 677.9 L1330.7 678.2 L1331.1 678.5 L1331.6 678.8 L1332.1 679.2 L1332.5 679.5 L1332.9 679.9 L1333.3 680.3 L1333.7 680.7 L1334.1 681.2 L1334.4 681.6 L1334.8 682.1 L1335.1 682.6 L1335.4 683.1 L1335.7 683.6 L1336 684.1 L1336.3 684.6 L1336.6 685.1 L1336.8 685.7 L1337.1 686.2 L1337.3 686.7 L1337.5 687.3 L1337.7 687.8 L1337.9 688.4 L1338.1 688.9 L1338.2 689.5 L1338.4 690.1 L1338.5 690.6 L1338.7 691.2 L1338.8 691.7 L1338.9 692.3 L1339 692.9 L1339.1 693.5 L1339.2 694 L1339.3 694.6 L1339.4 695.2 L1339.5 695.7 L1339.5 696.3 L1339.6 696.9 L1339.7 697.5 L1339.7 698.1 L1339.8 698.6 L1339.8 699.2 L1339.9 699.8 L1339.9 700.4 L1339.9 701 L1340 701.6 L1340 702.1 L1340 702.7 L1340 703.3 L1340.1 703.9 L1340.1 704.5 L1340.1 705.1 L1340.1 705.6 L1340.1 706.2 L1340.2 706.8 L1340.2 707.4 L1340.2 708 L1340.2 708.6 L1340.2 709.1 L1340.2 709.7 L1340.2 710.3 L1340.2 710.9 L1340.2 711.4 L1340.2 712 L1340.2 712.6 L1340.2 713.2 L1340.2 713.8 L1340.2 714.3 L1340.2 714.9 L1340.2 715.5 L1340.2 716.1 L1340.1 716.6 L1340.1 717.2 L1340.1 717.8 L1340 718.3 L1340 718.9 L1339.9 719.5 L1339.9 720.1 L1339.8 720.6 L1339.7 721.2 L1339.7 721.8 L1339.6 722.3 L1339.5 722.9 L1339.4 723.4 L1339.3 724 L1339.2 724.6 L1339.1 725.1 L1339 725.7 L1338.9 726.2 L1338.7 726.8 L1338.6 727.4 L1338.5 727.9 L1338.3 728.5 L1338.1 729 L1338 729.6 L1337.8 730.1 L1337.6 730.7 L1337.4 731.2 L1337.2 731.8 L1337 732.3 L1336.8 732.9 L1336.5 733.4 L1336.3 733.9 L1336 734.5 L1335.8 735 L1335.5 735.6 L1335.2 736.1 L1334.9 736.6 L1334.6 737.2 L1334.3 737.7 L1334 738.2 L1333.6 738.8 L1333.3 739.3 L1332.9 739.8 L1332.6 740.3 L1332.2 740.7 L1331.8 741.2 L1331.4 741.7 L1331 742.1 L1330.6 742.5 L1330.2 742.9 L1329.8 743.3 L1329.4 743.6 L1328.9 743.9 L1328.5 744.2 L1328 744.5 L1327.6 744.7 L1327.1 744.9 L1326.6 745.1 L1326.1 745.2 L1325.7 745.3 L1325.2 745.4 L1324.7 745.4 L1324.2 745.4 L1323.7 745.3 L1323.2 745.2 L1322.7 745.1 L1322.1 745 L1321.6 744.8 L1321.1 744.6 L1320.6 744.4 L1320.1 744.2 L1319.6 743.9 L1319 743.6 L1318.5 743.4 L1318 743.1 L1317.5 742.8 L1317 742.4 L1316.5 742.1 L1316 741.8 L1315.5 741.4 L1315 741.1 L1314.5 740.7 L1314 740.4 L1313.5 740 L1313 739.6 L1312.5 739.2 L1312.1 738.8 L1311.6 738.4 L1311.2 738 L1310.7 737.6 L1310.3 737.2 L1309.9 736.8 L1309.4 736.3 L1309 735.9 L1308.6 735.4 L1308.3 735 L1307.9 734.5 L1307.5 734.1 L1307.2 733.6 L1306.9 733.1 L1306.5 732.6 L1306.2 732.2 L1305.9 731.7 L1305.7 731.2 L1305.4 730.7 L1305.1 730.2 L1304.9 729.6 L1304.7 729.1 L1304.5 728.6 L1304.2 728.1 L1304.1 727.5 L1303.9 727 L1303.7 726.5 L1303.5 725.9 L1303.4 725.4 L1303.2 724.8 L1303.1 724.3 L1302.9 723.7 L1302.8 723.1 L1302.7 722.6 L1302.6 722 L1302.5 721.4 L1302.4 720.9 L1302.3 720.3 L1302.2 719.7 L1302.1 719.2 L1302 718.6 L1301.9 718 L1301.9 717.4 L1301.8 716.8 L1301.7 716.2 L1301.6 715.7 L1301.6 715.1 L1301.5 714.5 L1301.5 713.9 L1301.4 713.3 L1301.4 712.7 L1301.3 712.1 L1301.3 711.6 L1301.3 711 L1301.2 710.4 L1301.2 709.8 L1301.2 709.2 L1301.2 708.7 L1301.2 708.1 L1301.3 707.5 L1301.3 706.9 L1301.3 706.4 L1301.4 705.8 L1301.4 705.2 L1301.5 704.7 L1301.6 704.1 L1301.7 703.6 L1301.8 703 L1301.9 702.5 L1302.1 701.9 L1302.2 701.4 L1302.4 700.9 L1302.6 700.4 L1302.8 699.8 L1303 699.3 L1303.2 698.8 L1303.4 698.3 L1303.7 697.8 L1303.9 697.3 L1304.2 696.8 L1304.5 696.3 L1304.7 695.8 L1305 695.3 L1305.3 694.8 L1305.6 694.3 L1305.9 693.8 L1306.2 693.3 L1306.5 692.8 L1306.8 692.3 L1307.1 691.8 L1307.4 691.2 L1307.7 690.7 L1308 690.2 L1308.3 689.7 L1308.6 689.1 L1308.9 688.6 L1309.2 688.1 L1309.5 687.5 L1309.8 687 L1310.1 686.5 L1310.4 686 L1310.7 685.4 L1311 684.9 L1311.3 684.4 L1311.7 683.9 L1312 683.4 L1312.3 682.9 L1312.7 682.4 L1313 682 L1313.4 681.5 L1313.8 681.1 L1314.2 680.7 L1314.6 680.3 L1315 679.9 L1315.4 679.5 L1315.8 679.1 L1316.3 678.8 L1316.8 678.5 L1317.2 678.2 Z" fill="none" stroke="#ff8c00" stroke-width="3.1" stroke-linejoin="round"/>
<path d="M1323.1 693.5 L1323.3 693.5 L1323.6 693.6 L1323.8 693.6 L1324 693.7 L1324.3 693.8 L1324.5 693.9 L1324.7 694 L1324.9 694.2 L1325.1 694.4 L1325.4 694.5 L1325.6 694.7 L1325.8 694.9 L1326 695.1 L1326.2 695.4 L1326.4 695.6 L1326.6 695.8 L1326.8 696.1 L1327 696.3 L1327.1 696.6 L1327.3 696.9 L1327.5 697.2 L1327.7 697.5 L1327.8 697.7 L1328 698 L1328.1 698.3 L1328.3 698.6 L1328.4 698.9 L1328.6 699.2 L1328.7 699.5 L1328.8 699.8 L1328.9 700.1 L1329 700.4 L1329.1 700.7 L1329.2 701 L1329.3 701.3 L1329.4 701.6 L1329.5 701.9 L1329.6 702.2 L1329.7 702.5 L1329.7 702.8 L1329.8 703.1 L1329.9 703.4 L1329.9 703.7 L1330 704 L1330 704.3 L1330.1 704.6 L1330.1 704.9 L1330.1 705.2 L1330.2 705.5 L1330.2 705.8 L1330.2 706.1 L1330.2 706.4 L1330.2 706.7 L1330.2 706.9 L1330.2 707.2 L1330.2 707.5 L1330.2 707.8 L1330.2 708.1 L1330.2 708.4 L1330.2 708.7 L1330.2 708.9 L1330.1 709.2 L1330.1 709.5 L1330.1 709.8 L1330.1 710.1 L1330 710.4 L1330 710.6 L1329.9 710.9 L1329.9 711.2 L1329.9 711.5 L1329.8 711.7 L1329.8 712 L1329.7 712.3 L1329.7 712.6 L1329.6 712.8 L1329.5 713.1 L1329.5 713.4 L1329.4 713.7 L1329.4 713.9 L1329.3 714.2 L1329.2 714.5 L1329.2 714.8 L1329.1 715 L1329 715.3 L1329 715.6 L1328.9 715.9 L1328.8 716.2 L1328.8 716.5 L1328.7 716.7 L1328.6 717 L1328.6 717.3 L1328.5 717.6 L1328.4 717.9 L1328.4 718.2 L1328.3 718.5 L1328.3 718.8 L1328.2 719.1 L1328.1 719.4 L1328.1 719.7 L1328 720.1 L1328 720.4 L1327.9 720.7 L1327.9 721 L1327.8 721.4 L1327.8 721.7 L1327.7 722 L1327.7 722.3 L1327.6 722.7 L1327.6 723 L1327.5 723.3 L1327.5 723.7 L1327.5 724 L1327.4 724.3 L1327.4 724.7 L1327.3 725 L1327.3 725.3 L1327.2 725.7 L1327.2 726 L1327.1 726.3 L1327 726.6 L1327 726.9 L1326.9 727.2 L1326.8 727.5 L1326.8 727.8 L1326.7 728.1 L1326.6 728.3 L1326.5 728.6 L1326.4 728.9 L1326.3 729.1 L1326.2 729.3 L1326.1 729.6 L1326 729.8 L1325.8 730 L1325.7 730.2 L1325.6 730.4 L1325.4 730.5 L1325.3 730.7 L1325.1 730.9 L1324.9 731 L1324.8 731.1 L1324.6 731.2 L1324.4 731.3 L1324.2 731.4 L1324 731.5 L1323.8 731.5 L1323.5 731.6 L1323.3 731.6 L1323.1 731.6 L1322.9 731.6 L1322.7 731.6 L1322.4 731.6 L1322.2 731.5 L1322 731.5 L1321.8 731.4 L1321.6 731.3 L1321.4 731.2 L1321.1 731.1 L1320.9 731 L1320.7 730.9 L1320.6 730.7 L1320.4 730.6 L1320.2 730.4 L1320 730.3 L1319.8 730.1 L1319.7 729.9 L1319.5 729.7 L1319.3 729.4 L1319.2 729.2 L1319 729 L1318.9 728.7 L1318.7 728.5 L1318.6 728.2 L1318.5 728 L1318.3 727.7 L1318.2 727.4 L1318.1 727.1 L1318 726.9 L1317.8 726.6 L1317.7 726.3 L1317.6 725.9 L1317.5 725.6 L1317.4 725.3 L1317.3 725 L1317.2 724.7 L1317.1 724.4 L1317 724 L1316.9 723.7 L1316.9 723.4 L1316.8 723 L1316.7 722.7 L1316.6 722.4 L1316.5 722 L1316.5 721.7 L1316.4 721.3 L1316.3 721 L1316.3 720.7 L1316.2 720.3 L1316.1 720 L1316.1 719.7 L1316 719.3 L1316 719 L1315.9 718.7 L1315.9 718.4 L1315.8 718 L1315.8 717.7 L1315.7 717.4 L1315.7 717.1 L1315.6 716.8 L1315.6 716.5 L1315.6 716.2 L1315.5 715.9 L1315.5 715.6 L1315.5 715.3 L1315.4 715 L1315.4 714.7 L1315.4 714.4 L1315.3 714.1 L1315.3 713.9 L1315.3 713.6 L1315.3 713.3 L1315.3 713 L1315.2 712.7 L1315.2 712.4 L1315.2 712.2 L1315.2 711.9 L1315.2 711.6 L1315.2 711.3 L1315.2 711 L1315.2 710.8 L1315.2 710.5 L1315.2 710.2 L1315.2 709.9 L1315.2 709.6 L1315.2 709.3 L1315.2 709.1 L1315.2 708.8 L1315.2 708.5 L1315.2 708.2 L1315.2 707.9 L1315.2 707.6 L1315.2 707.3 L1315.3 707 L1315.3 706.7 L1315.3 706.5 L1315.3 706.2 L1315.4 705.9 L1315.4 705.6 L1315.4 705.3 L1315.5 705 L1315.5 704.7 L1315.5 704.4 L1315.6 704.1 L1315.6 703.8 L1315.7 703.5 L1315.8 703.2 L1315.8 702.9 L1315.9 702.6 L1316 702.3 L1316 702 L1316.1 701.7 L1316.2 701.4 L1316.3 701.1 L1316.4 700.9 L1316.5 700.6 L1316.6 700.3 L1316.7 700 L1316.8 699.7 L1316.9 699.4 L1317.1 699.1 L1317.2 698.9 L1317.3 698.6 L1317.5 698.3 L1317.6 698 L1317.8 697.8 L1317.9 697.5 L1318.1 697.2 L1318.3 697 L1318.5 696.7 L1318.7 696.5 L1318.8 696.2 L1319 696 L1319.2 695.7 L1319.5 695.5 L1319.7 695.3 L1319.9 695.1 L1320.1 694.9 L1320.3 694.7 L1320.5 694.5 L1320.8 694.3 L1321 694.2 L1321.2 694 L1321.5 693.9 L1321.7 693.8 L1321.9 693.7 L1322.2 693.6 L1322.4 693.6 L1322.6 693.5 L1322.9 693.5 L1323.1 693.5 Z" fill="none" stroke="#ff8c00" stroke-width="3.1" stroke-linejoin="round"/>
<path d="M1554.8 645.2 L1556 645.7 L1557.3 646.4 L1558.4 647.1 L1559.6 647.9 L1560.7 648.7 L1561.8 649.4 L1562.9 650.1 L1564 650.6 L1565.2 651 L1566.4 651.1 L1567.7 651 L1569 650.7 L1570.3 650.4 L1571.6 650.1 L1573 649.9 L1574.3 649.8 L1575.6 649.9 L1576.9 650.1 L1578.2 650.2 L1579.4 650.3 L1580.7 650.1 L1582 649.8 L1583.3 649.3 L1584.5 648.8 L1585.8 648.3 L1587.1 647.7 L1588.5 647.3 L1589.9 646.9 L1591.2 646.6 L1592.7 646.3 L1594.1 646.2 L1595.5 646.2 L1596.9 646.2 L1598.2 646.4 L1599.6 646.6 L1600.9 647 L1602.2 647.4 L1603.4 647.9 L1604.5 648.6 L1605.6 649.3 L1606.6 650.2 L1607.5 651.1 L1608.3 652.2 L1608.9 653.3 L1609.5 654.6 L1610 656 L1610.4 657.4 L1610.8 658.8 L1611.2 660.2 L1611.7 661.4 L1612.4 662.5 L1613.2 663.4 L1614.3 664.1 L1615.6 664.6 L1616.9 665 L1618.3 665.5 L1619.6 665.9 L1620.9 666.6 L1622 667.4 L1622.9 668.4 L1623.6 669.5 L1624.1 670.8 L1624.5 672.2 L1624.6 673.6 L1624.5 675 L1624.1 676.4 L1623.6 677.8 L1622.9 679.2 L1622.2 680.5 L1621.5 681.7 L1621 682.9 L1620.7 684 L1620.8 685.1 L1621.2 686.1 L1622 687.1 L1623 688 L1624.1 688.8 L1625.4 689.7 L1626.6 690.6 L1627.9 691.4 L1629.1 692.3 L1630.2 693.2 L1631.2 694.1 L1632 695.1 L1632.6 696.1 L1632.9 697.2 L1632.9 698.4 L1632.8 699.7 L1632.5 701 L1632.1 702.3 L1631.6 703.7 L1631.2 705.1 L1630.8 706.5 L1630.5 707.9 L1630.4 709.3 L1630.4 710.7 L1630.5 712.1 L1630.6 713.5 L1630.8 714.9 L1631.1 716.2 L1631.4 717.6 L1631.7 718.9 L1631.9 720.3 L1632.1 721.6 L1632.2 722.9 L1632.2 724.2 L1632.1 725.5 L1632 726.8 L1631.7 728.1 L1631.4 729.3 L1631 730.6 L1630.6 731.8 L1630 733 L1629.4 734.3 L1628.8 735.5 L1628.1 736.7 L1627.4 737.8 L1626.6 739 L1625.8 740.2 L1625 741.3 L1624.2 742.5 L1623.3 743.6 L1622.4 744.8 L1621.6 745.9 L1620.7 747 L1619.8 748.1 L1618.9 749.2 L1618.1 750.2 L1617.2 751.3 L1616.4 752.4 L1615.5 753.4 L1614.7 754.4 L1613.9 755.5 L1613 756.5 L1612.2 757.5 L1611.3 758.5 L1610.5 759.5 L1609.6 760.5 L1608.7 761.5 L1607.8 762.4 L1606.9 763.4 L1605.9 764.3 L1605 765.3 L1604 766.2 L1602.9 767.1 L1601.9 768.1 L1600.7 768.9 L1599.6 769.7 L1598.4 770.3 L1597.2 770.8 L1595.9 771 L1594.6 771 L1593.3 770.8 L1591.9 770.5 L1590.5 770.2 L1589.2 769.8 L1587.8 769.6 L1586.5 769.6 L1585.3 769.7 L1584 770.1 L1582.8 770.6 L1581.6 771.3 L1580.5 772 L1579.3 772.8 L1578.1 773.6 L1577 774.3 L1575.7 775 L1574.5 775.5 L1573.2 775.9 L1571.9 776.2 L1570.6 776.4 L1569.2 776.6 L1567.9 776.6 L1566.5 776.5 L1565.1 776.4 L1563.8 776.2 L1562.4 775.9 L1561 775.6 L1559.6 775.2 L1558.3 774.7 L1557 774.2 L1555.6 773.7 L1554.4 773.1 L1553.1 772.5 L1551.9 771.8 L1550.7 771.1 L1549.5 770.4 L1548.4 769.7 L1547.3 768.9 L1546.4 768 L1545.4 767.1 L1544.6 766.1 L1543.8 765 L1543.1 763.8 L1542.5 762.6 L1542 761.4 L1541.4 760.1 L1540.9 758.8 L1540.3 757.6 L1539.6 756.4 L1538.9 755.3 L1538 754.4 L1537.1 753.4 L1536.1 752.6 L1535.1 751.7 L1534.1 750.9 L1533.1 750 L1532.1 749.1 L1531.2 748.1 L1530.3 747.1 L1529.4 746.1 L1528.6 745 L1527.8 743.9 L1527.1 742.7 L1526.5 741.5 L1525.9 740.2 L1525.3 739 L1524.8 737.7 L1524.3 736.3 L1523.8 735 L1523.5 733.7 L1523.1 732.3 L1522.8 730.9 L1522.6 729.5 L1522.4 728.1 L1522.2 726.8 L1522.1 725.4 L1522 724 L1522 722.6 L1522 721.3 L1522.1 719.9 L1522.2 718.6 L1522.3 717.3 L1522.4 715.9 L1522.5 714.6 L1522.7 713.3 L1522.8 712 L1522.9 710.7 L1523 709.4 L1523.1 708 L1523.2 706.7 L1523.2 705.4 L1523.1 704.1 L1523 702.7 L1522.9 701.4 L1522.8 700 L1522.6 698.6 L1522.4 697.3 L1522.2 695.9 L1521.9 694.5 L1521.6 693.1 L1521.4 691.7 L1521.1 690.3 L1520.8 688.9 L1520.6 687.6 L1520.4 686.2 L1520.4 684.9 L1520.5 683.6 L1520.7 682.3 L1521 681.1 L1521.6 679.9 L1522.2 678.8 L1523 677.6 L1523.8 676.5 L1524.6 675.4 L1525.5 674.3 L1526.3 673.2 L1527.1 672 L1527.8 670.8 L1528.5 669.6 L1529.2 668.4 L1529.9 667.3 L1530.7 666.2 L1531.6 665.2 L1532.6 664.3 L1533.6 663.4 L1534.7 662.6 L1535.9 661.8 L1537 660.9 L1538 660.1 L1538.8 659.1 L1539.5 658.1 L1540 656.9 L1540.4 655.7 L1540.7 654.4 L1541 653.1 L1541.3 651.8 L1541.7 650.5 L1542.3 649.4 L1543.2 648.4 L1544.1 647.4 L1545.3 646.6 L1546.5 646 L1547.8 645.4 L1549.2 645.1 L1550.6 644.8 L1552 644.8 L1553.4 644.9 L1554.8 645.2 Z" fill="#ffe8cc"/>
<path d="M1558.1 662.6 L1558.9 662.4 L1559.8 662.2 L1560.7 662 L1561.6 661.9 L1562.5 661.9 L1563.4 661.8 L1564.3 661.8 L1565.2 661.9 L1566.1 661.9 L1567 662 L1568 662.2 L1568.9 662.3 L1569.9 662.5 L1570.8 662.7 L1571.8 663 L1572.7 663.2 L1573.7 663.5 L1574.7 663.8 L1575.6 664.1 L1576.6 664.5 L1577.5 664.8 L1578.5 665.2 L1579.5 665.6 L1580.4 666 L1581.4 666.4 L1582.3 666.8 L1583.3 667.2 L1584.2 667.6 L1585.2 668 L1586.1 668.4 L1587 668.8 L1588 669.2 L1588.9 669.7 L1589.8 670.1 L1590.7 670.5 L1591.6 670.9 L1592.4 671.3 L1593.3 671.7 L1594.1 672.1 L1595 672.5 L1595.8 672.9 L1596.6 673.3 L1597.4 673.8 L1598.1 674.3 L1598.9 674.7 L1599.6 675.3 L1600.2 675.8 L1600.9 676.4 L1601.5 677 L1602.1 677.6 L1602.6 678.3 L1603.2 679 L1603.7 679.8 L1604.1 680.6 L1604.6 681.4 L1605 682.2 L1605.4 683.1 L1605.8 684 L1606.2 684.9 L1606.6 685.8 L1607 686.7 L1607.4 687.6 L1607.8 688.5 L1608.2 689.4 L1608.6 690.3 L1609 691.2 L1609.4 692.1 L1609.9 693 L1610.3 693.9 L1610.7 694.8 L1611.1 695.7 L1611.5 696.6 L1611.9 697.4 L1612.3 698.3 L1612.6 699.2 L1612.9 700.1 L1613.2 701 L1613.4 701.9 L1613.6 702.8 L1613.8 703.7 L1613.9 704.6 L1614 705.6 L1614.1 706.5 L1614.2 707.4 L1614.2 708.3 L1614.3 709.3 L1614.2 710.2 L1614.2 711.1 L1614.2 712.1 L1614.1 713 L1614 713.9 L1613.9 714.9 L1613.8 715.8 L1613.6 716.8 L1613.5 717.7 L1613.3 718.7 L1613.2 719.6 L1613 720.5 L1612.8 721.5 L1612.6 722.4 L1612.4 723.4 L1612.2 724.3 L1612 725.3 L1611.7 726.2 L1611.5 727.1 L1611.3 728.1 L1611.1 729 L1610.8 729.9 L1610.6 730.9 L1610.3 731.8 L1610 732.7 L1609.7 733.6 L1609.4 734.5 L1609.1 735.4 L1608.8 736.2 L1608.4 737.1 L1608 737.9 L1607.6 738.7 L1607.1 739.5 L1606.7 740.3 L1606.1 741.1 L1605.6 741.8 L1605.1 742.5 L1604.5 743.3 L1603.9 744 L1603.3 744.7 L1602.6 745.3 L1602 746 L1601.3 746.7 L1600.6 747.3 L1599.9 747.9 L1599.2 748.6 L1598.4 749.2 L1597.7 749.8 L1596.9 750.4 L1596.2 751 L1595.4 751.6 L1594.6 752.2 L1593.9 752.8 L1593.1 753.4 L1592.3 754 L1591.5 754.6 L1590.8 755.3 L1590 755.9 L1589.2 756.5 L1588.4 757.1 L1587.7 757.7 L1586.9 758.3 L1586.1 758.9 L1585.4 759.4 L1584.6 760 L1583.8 760.5 L1583 760.9 L1582.2 761.4 L1581.4 761.8 L1580.6 762.1 L1579.7 762.4 L1578.8 762.6 L1577.9 762.8 L1577 762.9 L1576.1 762.9 L1575.2 762.9 L1574.2 762.9 L1573.3 762.8 L1572.3 762.7 L1571.4 762.5 L1570.4 762.3 L1569.5 762.1 L1568.5 761.9 L1567.6 761.6 L1566.6 761.3 L1565.7 761 L1564.8 760.7 L1563.9 760.4 L1563 760 L1562.1 759.6 L1561.3 759.3 L1560.4 758.9 L1559.6 758.5 L1558.7 758 L1557.9 757.6 L1557 757.1 L1556.2 756.7 L1555.4 756.2 L1554.5 755.7 L1553.7 755.2 L1552.9 754.7 L1552.1 754.1 L1551.3 753.6 L1550.5 753 L1549.7 752.4 L1548.9 751.8 L1548.2 751.2 L1547.4 750.6 L1546.7 749.9 L1545.9 749.3 L1545.2 748.6 L1544.5 747.9 L1543.9 747.2 L1543.2 746.5 L1542.6 745.8 L1541.9 745.1 L1541.3 744.4 L1540.8 743.6 L1540.2 742.8 L1539.7 742.1 L1539.2 741.3 L1538.7 740.5 L1538.3 739.6 L1537.8 738.8 L1537.5 738 L1537.1 737.1 L1536.8 736.3 L1536.5 735.4 L1536.2 734.5 L1536 733.6 L1535.8 732.7 L1535.6 731.8 L1535.5 730.9 L1535.3 729.9 L1535.2 729 L1535.1 728 L1535.1 727.1 L1535 726.1 L1535 725.2 L1534.9 724.2 L1534.9 723.2 L1534.9 722.3 L1534.9 721.3 L1534.9 720.3 L1534.9 719.4 L1534.9 718.4 L1534.9 717.4 L1534.9 716.4 L1534.9 715.5 L1534.9 714.5 L1534.9 713.5 L1534.9 712.6 L1534.9 711.6 L1534.9 710.6 L1535 709.7 L1535 708.7 L1535 707.7 L1535.1 706.8 L1535.1 705.8 L1535.2 704.9 L1535.3 703.9 L1535.4 703 L1535.5 702 L1535.6 701.1 L1535.7 700.1 L1535.8 699.2 L1536 698.3 L1536.1 697.4 L1536.3 696.4 L1536.5 695.5 L1536.7 694.6 L1536.9 693.7 L1537.1 692.8 L1537.4 691.9 L1537.6 691 L1537.9 690.1 L1538.2 689.2 L1538.6 688.4 L1538.9 687.5 L1539.3 686.6 L1539.6 685.8 L1540.1 684.9 L1540.5 684.1 L1540.9 683.2 L1541.4 682.4 L1541.8 681.6 L1542.3 680.7 L1542.8 679.9 L1543.3 679.1 L1543.8 678.2 L1544.3 677.4 L1544.8 676.6 L1545.3 675.7 L1545.9 674.9 L1546.4 674 L1546.9 673.2 L1547.4 672.4 L1547.9 671.5 L1548.5 670.7 L1549 669.9 L1549.6 669.1 L1550.2 668.3 L1550.8 667.6 L1551.4 666.9 L1552 666.2 L1552.7 665.6 L1553.4 665 L1554.1 664.5 L1554.9 664 L1555.6 663.6 L1556.4 663.2 L1557.3 662.9 L1558.1 662.6 Z" fill="#ffd199"/>
<path d="M1561.5 678.6 L1562 678.4 L1562.6 678.3 L1563.1 678.1 L1563.7 678 L1564.3 677.9 L1564.8 677.9 L1565.4 677.8 L1566 677.8 L1566.6 677.8 L1567.2 677.8 L1567.8 677.9 L1568.4 677.9 L1569 678 L1569.6 678.1 L1570.2 678.2 L1570.8 678.4 L1571.5 678.5 L1572.1 678.7 L1572.7 678.9 L1573.3 679.1 L1574 679.3 L1574.6 679.5 L1575.2 679.7 L1575.8 680 L1576.5 680.2 L1577.1 680.5 L1577.7 680.7 L1578.3 681 L1579 681.3 L1579.6 681.6 L1580.2 681.9 L1580.8 682.1 L1581.4 682.4 L1582 682.7 L1582.6 683.1 L1583.2 683.4 L1583.8 683.7 L1584.3 684 L1584.9 684.3 L1585.5 684.6 L1586 685 L1586.6 685.3 L1587.1 685.6 L1587.7 686 L1588.2 686.3 L1588.7 686.7 L1589.2 687 L1589.7 687.4 L1590.2 687.8 L1590.7 688.2 L1591.1 688.6 L1591.6 689 L1592 689.4 L1592.4 689.8 L1592.8 690.3 L1593.2 690.7 L1593.6 691.2 L1594 691.7 L1594.4 692.1 L1594.7 692.6 L1595.1 693.1 L1595.4 693.6 L1595.7 694.1 L1596 694.7 L1596.2 695.2 L1596.5 695.7 L1596.7 696.3 L1597 696.8 L1597.2 697.4 L1597.4 698 L1597.6 698.5 L1597.7 699.1 L1597.9 699.7 L1598 700.3 L1598.1 700.8 L1598.2 701.4 L1598.3 702 L1598.4 702.6 L1598.4 703.2 L1598.5 703.8 L1598.5 704.4 L1598.5 705 L1598.5 705.6 L1598.5 706.3 L1598.5 706.9 L1598.4 707.5 L1598.4 708.1 L1598.3 708.7 L1598.2 709.3 L1598.1 710 L1598 710.6 L1597.9 711.2 L1597.8 711.8 L1597.7 712.5 L1597.5 713.1 L1597.4 713.7 L1597.2 714.3 L1597.1 714.9 L1596.9 715.6 L1596.7 716.2 L1596.5 716.8 L1596.3 717.4 L1596.1 718 L1595.9 718.7 L1595.7 719.3 L1595.5 719.9 L1595.2 720.5 L1595 721.1 L1594.8 721.7 L1594.5 722.3 L1594.3 722.9 L1594 723.5 L1593.8 724.1 L1593.5 724.7 L1593.3 725.2 L1593 725.8 L1592.7 726.4 L1592.4 727 L1592.2 727.5 L1591.9 728.1 L1591.6 728.6 L1591.3 729.2 L1591 729.7 L1590.7 730.3 L1590.4 730.8 L1590 731.3 L1589.7 731.8 L1589.3 732.3 L1589 732.9 L1588.6 733.3 L1588.2 733.8 L1587.9 734.3 L1587.4 734.8 L1587 735.3 L1586.6 735.7 L1586.2 736.2 L1585.7 736.6 L1585.3 737 L1584.8 737.4 L1584.3 737.9 L1583.8 738.3 L1583.3 738.6 L1582.8 739 L1582.3 739.4 L1581.8 739.7 L1581.2 740.1 L1580.7 740.4 L1580.1 740.7 L1579.6 741 L1579 741.3 L1578.5 741.6 L1577.9 741.8 L1577.3 742.1 L1576.7 742.3 L1576.1 742.5 L1575.5 742.7 L1574.9 742.9 L1574.4 743.1 L1573.8 743.2 L1573.1 743.3 L1572.5 743.4 L1571.9 743.5 L1571.3 743.6 L1570.7 743.7 L1570.1 743.7 L1569.5 743.7 L1568.9 743.7 L1568.3 743.7 L1567.7 743.7 L1567.1 743.6 L1566.4 743.5 L1565.8 743.4 L1565.2 743.3 L1564.6 743.1 L1564 743 L1563.4 742.8 L1562.9 742.6 L1562.3 742.4 L1561.7 742.2 L1561.1 741.9 L1560.5 741.7 L1560 741.4 L1559.4 741.1 L1558.9 740.8 L1558.3 740.5 L1557.8 740.1 L1557.2 739.8 L1556.7 739.4 L1556.2 739 L1555.7 738.6 L1555.2 738.2 L1554.7 737.8 L1554.2 737.4 L1553.7 737 L1553.3 736.5 L1552.8 736.1 L1552.4 735.6 L1551.9 735.1 L1551.5 734.7 L1551.1 734.2 L1550.7 733.7 L1550.3 733.2 L1550 732.6 L1549.6 732.1 L1549.3 731.6 L1549 731 L1548.7 730.5 L1548.4 730 L1548.1 729.4 L1547.8 728.8 L1547.6 728.3 L1547.3 727.7 L1547.1 727.2 L1546.9 726.6 L1546.7 726 L1546.5 725.4 L1546.4 724.8 L1546.2 724.2 L1546.1 723.6 L1546 723 L1545.9 722.4 L1545.8 721.8 L1545.7 721.2 L1545.6 720.6 L1545.5 720 L1545.5 719.4 L1545.4 718.8 L1545.4 718.2 L1545.4 717.5 L1545.4 716.9 L1545.4 716.3 L1545.4 715.7 L1545.4 715 L1545.5 714.4 L1545.5 713.8 L1545.5 713.1 L1545.6 712.5 L1545.7 711.9 L1545.7 711.2 L1545.8 710.6 L1545.9 710 L1546 709.3 L1546.1 708.7 L1546.2 708 L1546.3 707.4 L1546.4 706.8 L1546.5 706.1 L1546.7 705.5 L1546.8 704.8 L1546.9 704.2 L1547.1 703.6 L1547.2 702.9 L1547.4 702.3 L1547.5 701.7 L1547.7 701 L1547.8 700.4 L1548 699.8 L1548.2 699.1 L1548.3 698.5 L1548.5 697.9 L1548.7 697.3 L1548.9 696.7 L1549 696 L1549.2 695.4 L1549.4 694.8 L1549.6 694.2 L1549.8 693.6 L1550 693 L1550.3 692.4 L1550.5 691.8 L1550.7 691.2 L1551 690.6 L1551.2 690.1 L1551.5 689.5 L1551.7 688.9 L1552 688.4 L1552.3 687.8 L1552.6 687.3 L1552.9 686.7 L1553.2 686.2 L1553.6 685.7 L1553.9 685.1 L1554.3 684.6 L1554.6 684.1 L1555 683.6 L1555.4 683.2 L1555.8 682.7 L1556.2 682.3 L1556.7 681.8 L1557.1 681.4 L1557.6 681 L1558 680.6 L1558.5 680.3 L1559 679.9 L1559.4 679.6 L1559.9 679.3 L1560.5 679.1 L1561 678.8 L1561.5 678.6 Z" fill="#ffba66"/>
<path d="M1561.4 689.6 L1561.6 689.3 L1561.9 689.1 L1562.1 688.9 L1562.4 688.7 L1562.6 688.5 L1562.9 688.3 L1563.2 688.2 L1563.5 688.1 L1563.8 688 L1564.1 687.9 L1564.5 687.8 L1564.8 687.7 L1565.1 687.6 L1565.5 687.6 L1565.8 687.6 L1566.2 687.6 L1566.6 687.6 L1566.9 687.6 L1567.3 687.6 L1567.7 687.6 L1568 687.7 L1568.4 687.7 L1568.8 687.8 L1569.1 687.9 L1569.5 687.9 L1569.9 688 L1570.2 688.1 L1570.6 688.3 L1571 688.4 L1571.3 688.5 L1571.7 688.7 L1572 688.8 L1572.4 689 L1572.7 689.1 L1573 689.3 L1573.3 689.5 L1573.6 689.7 L1573.9 689.9 L1574.2 690.1 L1574.5 690.3 L1574.8 690.5 L1575.1 690.7 L1575.3 690.9 L1575.6 691.2 L1575.8 691.4 L1576.1 691.6 L1576.3 691.9 L1576.6 692.1 L1576.8 692.4 L1577 692.7 L1577.2 692.9 L1577.4 693.2 L1577.6 693.5 L1577.8 693.7 L1578 694 L1578.2 694.3 L1578.4 694.6 L1578.6 694.9 L1578.8 695.2 L1579 695.5 L1579.2 695.8 L1579.3 696.1 L1579.5 696.4 L1579.7 696.7 L1579.8 697 L1580 697.4 L1580.2 697.7 L1580.3 698 L1580.5 698.3 L1580.7 698.7 L1580.8 699 L1581 699.3 L1581.1 699.6 L1581.3 700 L1581.5 700.3 L1581.6 700.6 L1581.8 701 L1582 701.3 L1582.1 701.6 L1582.3 702 L1582.4 702.3 L1582.6 702.7 L1582.7 703 L1582.9 703.3 L1583 703.7 L1583.2 704 L1583.3 704.4 L1583.5 704.7 L1583.6 705 L1583.8 705.4 L1583.9 705.7 L1584.1 706.1 L1584.2 706.4 L1584.3 706.8 L1584.5 707.1 L1584.6 707.5 L1584.7 707.8 L1584.8 708.2 L1584.9 708.5 L1585 708.9 L1585.1 709.2 L1585.2 709.6 L1585.3 709.9 L1585.4 710.3 L1585.5 710.6 L1585.6 711 L1585.7 711.3 L1585.8 711.7 L1585.8 712 L1585.9 712.4 L1586 712.7 L1586 713 L1586.1 713.4 L1586.1 713.7 L1586.1 714.1 L1586.2 714.4 L1586.2 714.8 L1586.2 715.1 L1586.2 715.5 L1586.2 715.8 L1586.2 716.2 L1586.2 716.5 L1586.2 716.8 L1586.1 717.2 L1586.1 717.5 L1586.1 717.9 L1586 718.2 L1585.9 718.5 L1585.9 718.9 L1585.8 719.2 L1585.7 719.5 L1585.6 719.9 L1585.5 720.2 L1585.4 720.5 L1585.3 720.9 L1585.2 721.2 L1585 721.5 L1584.9 721.8 L1584.7 722.2 L1584.5 722.5 L1584.4 722.8 L1584.2 723.1 L1584 723.4 L1583.8 723.7 L1583.6 724.1 L1583.3 724.4 L1583.1 724.7 L1582.9 725 L1582.6 725.2 L1582.3 725.5 L1582.1 725.8 L1581.8 726.1 L1581.5 726.3 L1581.2 726.6 L1581 726.8 L1580.7 727 L1580.4 727.2 L1580.1 727.4 L1579.7 727.6 L1579.4 727.8 L1579.1 728 L1578.8 728.1 L1578.5 728.3 L1578.1 728.4 L1577.8 728.5 L1577.5 728.6 L1577.1 728.6 L1576.8 728.7 L1576.4 728.7 L1576.1 728.7 L1575.8 728.7 L1575.4 728.7 L1575.1 728.6 L1574.7 728.6 L1574.4 728.5 L1574.1 728.4 L1573.7 728.3 L1573.4 728.1 L1573.1 728 L1572.8 727.8 L1572.4 727.6 L1572.1 727.5 L1571.8 727.3 L1571.5 727 L1571.3 726.8 L1571 726.6 L1570.7 726.3 L1570.5 726.1 L1570.2 725.8 L1570 725.5 L1569.8 725.3 L1569.6 725 L1569.4 724.7 L1569.2 724.4 L1569 724.1 L1568.9 723.8 L1568.7 723.4 L1568.6 723.1 L1568.4 722.8 L1568.3 722.5 L1568.2 722.1 L1568.1 721.8 L1568 721.4 L1567.9 721.1 L1567.8 720.7 L1567.7 720.4 L1567.6 720 L1567.5 719.7 L1567.4 719.3 L1567.3 719 L1567.3 718.6 L1567.2 718.2 L1567.1 717.9 L1567.1 717.5 L1567 717.2 L1566.9 716.8 L1566.8 716.4 L1566.8 716.1 L1566.7 715.7 L1566.6 715.4 L1566.5 715 L1566.4 714.7 L1566.4 714.3 L1566.3 714 L1566.2 713.6 L1566.1 713.3 L1566 712.9 L1566 712.6 L1565.9 712.3 L1565.8 711.9 L1565.7 711.6 L1565.7 711.2 L1565.6 710.9 L1565.5 710.6 L1565.5 710.2 L1565.4 709.9 L1565.4 709.5 L1565.3 709.2 L1565.3 708.9 L1565.2 708.5 L1565.2 708.2 L1565.1 707.9 L1565.1 707.5 L1565 707.2 L1565 706.9 L1564.9 706.5 L1564.9 706.2 L1564.8 705.9 L1564.8 705.5 L1564.7 705.2 L1564.6 704.9 L1564.6 704.6 L1564.5 704.3 L1564.4 703.9 L1564.2 703.6 L1564.1 703.3 L1564 703 L1563.8 702.7 L1563.7 702.4 L1563.5 702.1 L1563.3 701.9 L1563.2 701.6 L1563 701.3 L1562.8 701 L1562.6 700.7 L1562.4 700.4 L1562.2 700.1 L1562 699.8 L1561.8 699.5 L1561.6 699.2 L1561.4 698.9 L1561.2 698.6 L1561 698.3 L1560.9 698 L1560.7 697.7 L1560.6 697.4 L1560.4 697.1 L1560.3 696.7 L1560.2 696.4 L1560.1 696 L1560 695.7 L1560 695.3 L1559.9 695 L1559.9 694.6 L1559.9 694.2 L1559.9 693.8 L1559.9 693.5 L1560 693.1 L1560 692.7 L1560.1 692.4 L1560.2 692 L1560.3 691.7 L1560.4 691.3 L1560.5 691 L1560.7 690.7 L1560.9 690.4 L1561 690.1 L1561.2 689.8 L1561.4 689.6 Z" fill="#ffa333"/>
<path d="M1554.8 645.2 L1556 645.7 L1557.3 646.4 L1558.4 647.1 L1559.6 647.9 L1560.7 648.7 L1561.8 649.4 L1562.9 650.1 L1564 650.6 L1565.2 651 L1566.4 651.1 L1567.7 651 L1569 650.7 L1570.3 650.4 L1571.6 650.1 L1573 649.9 L1574.3 649.8 L1575.6 649.9 L1576.9 650.1 L1578.2 650.2 L1579.4 650.3 L1580.7 650.1 L1582 649.8 L1583.3 649.3 L1584.5 648.8 L1585.8 648.3 L1587.1 647.7 L1588.5 647.3 L1589.9 646.9 L1591.2 646.6 L1592.7 646.3 L1594.1 646.2 L1595.5 646.2 L1596.9 646.2 L1598.2 646.4 L1599.6 646.6 L1600.9 647 L1602.2 647.4 L1603.4 647.9 L1604.5 648.6 L1605.6 649.3 L1606.6 650.2 L1607.5 651.1 L1608.3 652.2 L1608.9 653.3 L1609.5 654.6 L1610 656 L1610.4 657.4 L1610.8 658.8 L1611.2 660.2 L1611.7 661.4 L1612.4 662.5 L1613.2 663.4 L1614.3 664.1 L1615.6 664.6 L1616.9 665 L1618.3 665.5 L1619.6 665.9 L1620.9 666.6 L1622 667.4 L1622.9 668.4 L1623.6 669.5 L1624.1 670.8 L1624.5 672.2 L1624.6 673.6 L1624.5 675 L1624.1 676.4 L1623.6 677.8 L1622.9 679.2 L1622.2 680.5 L1621.5 681.7 L1621 682.9 L1620.7 684 L1620.8 685.1 L1621.2 686.1 L1622 687.1 L1623 688 L1624.1 688.8 L1625.4 689.7 L1626.6 690.6 L1627.9 691.4 L1629.1 692.3 L1630.2 693.2 L1631.2 694.1 L1632 695.1 L1632.6 696.1 L1632.9 697.2 L1632.9 698.4 L1632.8 699.7 L1632.5 701 L1632.1 702.3 L1631.6 703.7 L1631.2 705.1 L1630.8 706.5 L1630.5 707.9 L1630.4 709.3 L1630.4 710.7 L1630.5 712.1 L1630.6 713.5 L1630.8 714.9 L1631.1 716.2 L1631.4 717.6 L1631.7 718.9 L1631.9 720.3 L1632.1 721.6 L1632.2 722.9 L1632.2 724.2 L1632.1 725.5 L1632 726.8 L1631.7 728.1 L1631.4 729.3 L1631 730.6 L1630.6 731.8 L1630 733 L1629.4 734.3 L1628.8 735.5 L1628.1 736.7 L1627.4 737.8 L1626.6 739 L1625.8 740.2 L1625 741.3 L1624.2 742.5 L1623.3 743.6 L1622.4 744.8 L1621.6 745.9 L1620.7 747 L1619.8 748.1 L1618.9 749.2 L1618.1 750.2 L1617.2 751.3 L1616.4 752.4 L1615.5 753.4 L1614.7 754.4 L1613.9 755.5 L1613 756.5 L1612.2 757.5 L1611.3 758.5 L1610.5 759.5 L1609.6 760.5 L1608.7 761.5 L1607.8 762.4 L1606.9 763.4 L1605.9 764.3 L1605 765.3 L1604 766.2 L1602.9 767.1 L1601.9 768.1 L1600.7 768.9 L1599.6 769.7 L1598.4 770.3 L1597.2 770.8 L1595.9 771 L1594.6 771 L1593.3 770.8 L1591.9 770.5 L1590.5 770.2 L1589.2 769.8 L1587.8 769.6 L1586.5 769.6 L1585.3 769.7 L1584 770.1 L1582.8 770.6 L1581.6 771.3 L1580.5 772 L1579.3 772.8 L1578.1 773.6 L1577 774.3 L1575.7 775 L1574.5 775.5 L1573.2 775.9 L1571.9 776.2 L1570.6 776.4 L1569.2 776.6 L1567.9 776.6 L1566.5 776.5 L1565.1 776.4 L1563.8 776.2 L1562.4 775.9 L1561 775.6 L1559.6 775.2 L1558.3 774.7 L1557 774.2 L1555.6 773.7 L1554.4 773.1 L1553.1 772.5 L1551.9 771.8 L1550.7 771.1 L1549.5 770.4 L1548.4 769.7 L1547.3 768.9 L1546.4 768 L1545.4 767.1 L1544.6 766.1 L1543.8 765 L1543.1 763.8 L1542.5 762.6 L1542 761.4 L1541.4 760.1 L1540.9 758.8 L1540.3 757.6 L1539.6 756.4 L1538.9 755.3 L1538 754.4 L1537.1 753.4 L1536.1 752.6 L1535.1 751.7 L1534.1 750.9 L1533.1 750 L1532.1 749.1 L1531.2 748.1 L1530.3 747.1 L1529.4 746.1 L1528.6 745 L1527.8 743.9 L1527.1 742.7 L1526.5 741.5 L1525.9 740.2 L1525.3 739 L1524.8 737.7 L1524.3 736.3 L1523.8 735 L1523.5 733.7 L1523.1 732.3 L1522.8 730.9 L1522.6 729.5 L1522.4 728.1 L1522.2 726.8 L1522.1 725.4 L1522 724 L1522 722.6 L1522 721.3 L1522.1 719.9 L1522.2 718.6 L1522.3 717.3 L1522.4 715.9 L1522.5 714.6 L1522.7 713.3 L1522.8 712 L1522.9 710.7 L1523 709.4 L1523.1 708 L1523.2 706.7 L1523.2 705.4 L1523.1 704.1 L1523 702.7 L1522.9 701.4 L1522.8 700 L1522.6 698.6 L1522.4 697.3 L1522.2 695.9 L1521.9 694.5 L1521.6 693.1 L1521.4 691.7 L1521.1 690.3 L1520.8 688.9 L1520.6 687.6 L1520.4 686.2 L1520.4 684.9 L1520.5 683.6 L1520.7 682.3 L1521 681.1 L1521.6 679.9 L1522.2 678.8 L1523 677.6 L1523.8 676.5 L1524.6 675.4 L1525.5 674.3 L1526.3 673.2 L1527.1 672 L1527.8 670.8 L1528.5 669.6 L1529.2 668.4 L1529.9 667.3 L1530.7 666.2 L1531.6 665.2 L1532.6 664.3 L1533.6 663.4 L1534.7 662.6 L1535.9 661.8 L1537 660.9 L1538 660.1 L1538.8 659.1 L1539.5 658.1 L1540 656.9 L1540.4 655.7 L1540.7 654.4 L1541 653.1 L1541.3 651.8 L1541.7 650.5 L1542.3 649.4 L1543.2 648.4 L1544.1 647.4 L1545.3 646.6 L1546.5 646 L1547.8 645.4 L1549.2 645.1 L1550.6 644.8 L1552 644.8 L1553.4 644.9 L1554.8 645.2 Z" fill="none" stroke="#ff8c00" stroke-width="3.1" stroke-linejoin="round"/>
<path d="M1558.1 662.6 L1558.9 662.4 L1559.8 662.2 L1560.7 662 L1561.6 661.9 L1562.5 661.9 L1563.4 661.8 L1564.3 661.8 L1565.2 661.9 L1566.1 661.9 L1567 662 L1568 662.2 L1568.9 662.3 L1569.9 662.5 L1570.8 662.7 L1571.8 663 L1572.7 663.2 L1573.7 663.5 L1574.7 663.8 L1575.6 664.1 L1576.6 664.5 L1577.5 664.8 L1578.5 665.2 L1579.5 665.6 L1580.4 666 L1581.4 666.4 L1582.3 666.8 L1583.3 667.2 L1584.2 667.6 L1585.2 668 L1586.1 668.4 L1587 668.8 L1588 669.2 L1588.9 669.7 L1589.8 670.1 L1590.7 670.5 L1591.6 670.9 L1592.4 671.3 L1593.3 671.7 L1594.1 672.1 L1595 672.5 L1595.8 672.9 L1596.6 673.3 L1597.4 673.8 L1598.1 674.3 L1598.9 674.7 L1599.6 675.3 L1600.2 675.8 L1600.9 676.4 L1601.5 677 L1602.1 677.6 L1602.6 678.3 L1603.2 679 L1603.7 679.8 L1604.1 680.6 L1604.6 681.4 L1605 682.2 L1605.4 683.1 L1605.8 684 L1606.2 684.9 L1606.6 685.8 L1607 686.7 L1607.4 687.6 L1607.8 688.5 L1608.2 689.4 L1608.6 690.3 L1609 691.2 L1609.4 692.1 L1609.9 693 L1610.3 693.9 L1610.7 694.8 L1611.1 695.7 L1611.5 696.6 L1611.9 697.4 L1612.3 698.3 L1612.6 699.2 L1612.9 700.1 L1613.2 701 L1613.4 701.9 L1613.6 702.8 L1613.8 703.7 L1613.9 704.6 L1614 705.6 L1614.1 706.5 L1614.2 707.4 L1614.2 708.3 L1614.3 709.3 L1614.2 710.2 L1614.2 711.1 L1614.2 712.1 L1614.1 713 L1614 713.9 L1613.9 714.9 L1613.8 715.8 L1613.6 716.8 L1613.5 717.7 L1613.3 718.7 L1613.2 719.6 L1613 720.5 L1612.8 721.5 L1612.6 722.4 L1612.4 723.4 L1612.2 724.3 L1612 725.3 L1611.7 726.2 L1611.5 727.1 L1611.3 728.1 L1611.1 729 L1610.8 729.9 L1610.6 730.9 L1610.3 731.8 L1610 732.7 L1609.7 733.6 L1609.4 734.5 L1609.1 735.4 L1608.8 736.2 L1608.4 737.1 L1608 737.9 L1607.6 738.7 L1607.1 739.5 L1606.7 740.3 L1606.1 741.1 L1605.6 741.8 L1605.1 742.5 L1604.5 743.3 L1603.9 744 L1603.3 744.7 L1602.6 745.3 L1602 746 L1601.3 746.7 L1600.6 747.3 L1599.9 747.9 L1599.2 748.6 L1598.4 749.2 L1597.7 749.8 L1596.9 750.4 L1596.2 751 L1595.4 751.6 L1594.6 752.2 L1593.9 752.8 L1593.1 753.4 L1592.3 754 L1591.5 754.6 L1590.8 755.3 L1590 755.9 L1589.2 756.5 L1588.4 757.1 L1587.7 757.7 L1586.9 758.3 L1586.1 758.9 L1585.4 759.4 L1584.6 760 L1583.8 760.5 L1583 760.9 L1582.2 761.4 L1581.4 761.8 L1580.6 762.1 L1579.7 762.4 L1578.8 762.6 L1577.9 762.8 L1577 762.9 L1576.1 762.9 L1575.2 762.9 L1574.2 762.9 L1573.3 762.8 L1572.3 762.7 L1571.4 762.5 L1570.4 762.3 L1569.5 762.1 L1568.5 761.9 L1567.6 761.6 L1566.6 761.3 L1565.7 761 L1564.8 760.7 L1563.9 760.4 L1563 760 L1562.1 759.6 L1561.3 759.3 L1560.4 758.9 L1559.6 758.5 L1558.7 758 L1557.9 757.6 L1557 757.1 L1556.2 756.7 L1555.4 756.2 L1554.5 755.7 L1553.7 755.2 L1552.9 754.7 L1552.1 754.1 L1551.3 753.6 L1550.5 753 L1549.7 752.4 L1548.9 751.8 L1548.2 751.2 L1547.4 750.6 L1546.7 749.9 L1545.9 749.3 L1545.2 748.6 L1544.5 747.9 L1543.9 747.2 L1543.2 746.5 L1542.6 745.8 L1541.9 745.1 L1541.3 744.4 L1540.8 743.6 L1540.2 742.8 L1539.7 742.1 L1539.2 741.3 L1538.7 740.5 L1538.3 739.6 L1537.8 738.8 L1537.5 738 L1537.1 737.1 L1536.8 736.3 L1536.5 735.4 L1536.2 734.5 L1536 733.6 L1535.8 732.7 L1535.6 731.8 L1535.5 730.9 L1535.3 729.9 L1535.2 729 L1535.1 728 L1535.1 727.1 L1535 726.1 L1535 725.2 L1534.9 724.2 L1534.9 723.2 L1534.9 722.3 L1534.9 721.3 L1534.9 720.3 L1534.9 719.4 L1534.9 718.4 L1534.9 717.4 L1534.9 716.4 L1534.9 715.5 L1534.9 714.5 L1534.9 713.5 L1534.9 712.6 L1534.9 711.6 L1534.9 710.6 L1535 709.7 L1535 708.7 L1535 707.7 L1535.1 706.8 L1535.1 705.8 L1535.2 704.9 L1535.3 703.9 L1535.4 703 L1535.5 702 L1535.6 701.1 L1535.7 700.1 L1535.8 699.2 L1536 698.3 L1536.1 697.4 L1536.3 696.4 L1536.5 695.5 L1536.7 694.6 L1536.9 693.7 L1537.1 692.8 L1537.4 691.9 L1537.6 691 L1537.9 690.1 L1538.2 689.2 L1538.6 688.4 L1538.9 687.5 L1539.3 686.6 L1539.6 685.8 L1540.1 684.9 L1540.5 684.1 L1540.9 683.2 L1541.4 682.4 L1541.8 681.6 L1542.3 680.7 L1542.8 679.9 L1543.3 679.1 L1543.8 678.2 L1544.3 677.4 L1544.8 676.6 L1545.3 675.7 L1545.9 674.9 L1546.4 674 L1546.9 673.2 L1547.4 672.4 L1547.9 671.5 L1548.5 670.7 L1549 669.9 L1549.6 669.1 L1550.2 668.3 L1550.8 667.6 L1551.4 666.9 L1552 666.2 L1552.7 665.6 L1553.4 665 L1554.1 664.5 L1554.9 664 L1555.6 663.6 L1556.4 663.2 L1557.3 662.9 L1558.1 662.6 Z" fill="none" stroke="#ff8c00" stroke-width="3.1" stroke-linejoin="round"/>
<path d="M1561.5 678.6 L1562 678.4 L1562.6 678.3 L1563.1 678.1 L1563.7 678 L1564.3 677.9 L1564.8 677.9 L1565.4 677.8 L1566 677.8 L1566.6 677.8 L1567.2 677.8 L1567.8 677.9 L1568.4 677.9 L1569 678 L1569.6 678.1 L1570.2 678.2 L1570.8 678.4 L1571.5 678.5 L1572.1 678.7 L1572.7 678.9 L1573.3 679.1 L1574 679.3 L1574.6 679.5 L1575.2 679.7 L1575.8 680 L1576.5 680.2 L1577.1 680.5 L1577.7 680.7 L1578.3 681 L1579 681.3 L1579.6 681.6 L1580.2 681.9 L1580.8 682.1 L1581.4 682.4 L1582 682.7 L1582.6 683.1 L1583.2 683.4 L1583.8 683.7 L1584.3 684 L1584.9 684.3 L1585.5 684.6 L1586 685 L1586.6 685.3 L1587.1 685.6 L1587.7 686 L1588.2 686.3 L1588.7 686.7 L1589.2 687 L1589.7 687.4 L1590.2 687.8 L1590.7 688.2 L1591.1 688.6 L1591.6 689 L1592 689.4 L1592.4 689.8 L1592.8 690.3 L1593.2 690.7 L1593.6 691.2 L1594 691.7 L1594.4 692.1 L1594.7 692.6 L1595.1 693.1 L1595.4 693.6 L1595.7 694.1 L1596 694.7 L1596.2 695.2 L1596.5 695.7 L1596.7 696.3 L1597 696.8 L1597.2 697.4 L1597.4 698 L1597.6 698.5 L1597.7 699.1 L1597.9 699.7 L1598 700.3 L1598.1 700.8 L1598.2 701.4 L1598.3 702 L1598.4 702.6 L1598.4 703.2 L1598.5 703.8 L1598.5 704.4 L1598.5 705 L1598.5 705.6 L1598.5 706.3 L1598.5 706.9 L1598.4 707.5 L1598.4 708.1 L1598.3 708.7 L1598.2 709.3 L1598.1 710 L1598 710.6 L1597.9 711.2 L1597.8 711.8 L1597.7 712.5 L1597.5 713.1 L1597.4 713.7 L1597.2 714.3 L1597.1 714.9 L1596.9 715.6 L1596.7 716.2 L1596.5 716.8 L1596.3 717.4 L1596.1 718 L1595.9 718.7 L1595.7 719.3 L1595.5 719.9 L1595.2 720.5 L1595 721.1 L1594.8 721.7 L1594.5 722.3 L1594.3 722.9 L1594 723.5 L1593.8 724.1 L1593.5 724.7 L1593.3 725.2 L1593 725.8 L1592.7 726.4 L1592.4 727 L1592.2 727.5 L1591.9 728.1 L1591.6 728.6 L1591.3 729.2 L1591 729.7 L1590.7 730.3 L1590.4 730.8 L1590 731.3 L1589.7 731.8 L1589.3 732.3 L1589 732.9 L1588.6 733.3 L1588.2 733.8 L1587.9 734.3 L1587.4 734.8 L1587 735.3 L1586.6 735.7 L1586.2 736.2 L1585.7 736.6 L1585.3 737 L1584.8 737.4 L1584.3 737.9 L1583.8 738.3 L1583.3 738.6 L1582.8 739 L1582.3 739.4 L1581.8 739.7 L1581.2 740.1 L1580.7 740.4 L1580.1 740.7 L1579.6 741 L1579 741.3 L1578.5 741.6 L1577.9 741.8 L1577.3 742.1 L1576.7 742.3 L1576.1 742.5 L1575.5 742.7 L1574.9 742.9 L1574.4 743.1 L1573.8 743.2 L1573.1 743.3 L1572.5 743.4 L1571.9 743.5 L1571.3 743.6 L1570.7 743.7 L1570.1 743.7 L1569.5 743.7 L1568.9 743.7 L1568.3 743.7 L1567.7 743.7 L1567.1 743.6 L1566.4 743.5 L1565.8 743.4 L1565.2 743.3 L1564.6 743.1 L1564 743 L1563.4 742.8 L1562.9 742.6 L1562.3 742.4 L1561.7 742.2 L1561.1 741.9 L1560.5 741.7 L1560 741.4 L1559.4 741.1 L1558.9 740.8 L1558.3 740.5 L1557.8 740.1 L1557.2 739.8 L1556.7 739.4 L1556.2 739 L1555.7 738.6 L1555.2 738.2 L1554.7 737.8 L1554.2 737.4 L1553.7 737 L1553.3 736.5 L1552.8 736.1 L1552.4 735.6 L1551.9 735.1 L1551.5 734.7 L1551.1 734.2 L1550.7 733.7 L1550.3 733.2 L1550 732.6 L1549.6 732.1 L1549.3 731.6 L1549 731 L1548.7 730.5 L1548.4 730 L1548.1 729.4 L1547.8 728.8 L1547.6 728.3 L1547.3 727.7 L1547.1 727.2 L1546.9 726.6 L1546.7 726 L1546.5 725.4 L1546.4 724.8 L1546.2 724.2 L1546.1 723.6 L1546 723 L1545.9 722.4 L1545.8 721.8 L1545.7 721.2 L1545.6 720.6 L1545.5 720 L1545.5 719.4 L1545.4 718.8 L1545.4 718.2 L1545.4 717.5 L1545.4 716.9 L1545.4 716.3 L1545.4 715.7 L1545.4 715 L1545.5 714.4 L1545.5 713.8 L1545.5 713.1 L1545.6 712.5 L1545.7 711.9 L1545.7 711.2 L1545.8 710.6 L1545.9 710 L1546 709.3 L1546.1 708.7 L1546.2 708 L1546.3 707.4 L1546.4 706.8 L1546.5 706.1 L1546.7 705.5 L1546.8 704.8 L1546.9 704.2 L1547.1 703.6 L1547.2 702.9 L1547.4 702.3 L1547.5 701.7 L1547.7 701 L1547.8 700.4 L1548 699.8 L1548.2 699.1 L1548.3 698.5 L1548.5 697.9 L1548.7 697.3 L1548.9 696.7 L1549 696 L1549.2 695.4 L1549.4 694.8 L1549.6 694.2 L1549.8 693.6 L1550 693 L1550.3 692.4 L1550.5 691.8 L1550.7 691.2 L1551 690.6 L1551.2 690.1 L1551.5 689.5 L1551.7 688.9 L1552 688.4 L1552.3 687.8 L1552.6 687.3 L1552.9 686.7 L1553.2 686.2 L1553.6 685.7 L1553.9 685.1 L1554.3 684.6 L1554.6 684.1 L1555 683.6 L1555.4 683.2 L1555.8 682.7 L1556.2 682.3 L1556.7 681.8 L1557.1 681.4 L1557.6 681 L1558 680.6 L1558.5 680.3 L1559 679.9 L1559.4 679.6 L1559.9 679.3 L1560.5 679.1 L1561 678.8 L1561.5 678.6 Z" fill="none" stroke="#ff8c00" stroke-width="3.1" stroke-linejoin="round"/>
<path d="M1561.4 689.6 L1561.6 689.3 L1561.9 689.1 L1562.1 688.9 L1562.4 688.7 L1562.6 688.5 L1562.9 688.3 L1563.2 688.2 L1563.5 688.1 L1563.8 688 L1564.1 687.9 L1564.5 687.8 L1564.8 687.7 L1565.1 687.6 L1565.5 687.6 L1565.8 687.6 L1566.2 687.6 L1566.6 687.6 L1566.9 687.6 L1567.3 687.6 L1567.7 687.6 L1568 687.7 L1568.4 687.7 L1568.8 687.8 L1569.1 687.9 L1569.5 687.9 L1569.9 688 L1570.2 688.1 L1570.6 688.3 L1571 688.4 L1571.3 688.5 L1571.7 688.7 L1572 688.8 L1572.4 689 L1572.7 689.1 L1573 689.3 L1573.3 689.5 L1573.6 689.7 L1573.9 689.9 L1574.2 690.1 L1574.5 690.3 L1574.8 690.5 L1575.1 690.7 L1575.3 690.9 L1575.6 691.2 L1575.8 691.4 L1576.1 691.6 L1576.3 691.9 L1576.6 692.1 L1576.8 692.4 L1577 692.7 L1577.2 692.9 L1577.4 693.2 L1577.6 693.5 L1577.8 693.7 L1578 694 L1578.2 694.3 L1578.4 694.6 L1578.6 694.9 L1578.8 695.2 L1579 695.5 L1579.2 695.8 L1579.3 696.1 L1579.5 696.4 L1579.7 696.7 L1579.8 697 L1580 697.4 L1580.2 697.7 L1580.3 698 L1580.5 698.3 L1580.7 698.7 L1580.8 699 L1581 699.3 L1581.1 699.6 L1581.3 700 L1581.5 700.3 L1581.6 700.6 L1581.8 701 L1582 701.3 L1582.1 701.6 L1582.3 702 L1582.4 702.3 L1582.6 702.7 L1582.7 703 L1582.9 703.3 L1583 703.7 L1583.2 704 L1583.3 704.4 L1583.5 704.7 L1583.6 705 L1583.8 705.4 L1583.9 705.7 L1584.1 706.1 L1584.2 706.4 L1584.3 706.8 L1584.5 707.1 L1584.6 707.5 L1584.7 707.8 L1584.8 708.2 L1584.9 708.5 L1585 708.9 L1585.1 709.2 L1585.2 709.6 L1585.3 709.9 L1585.4 710.3 L1585.5 710.6 L1585.6 711 L1585.7 711.3 L1585.8 711.7 L1585.8 712 L1585.9 712.4 L1586 712.7 L1586 713 L1586.1 713.4 L1586.1 713.7 L1586.1 714.1 L1586.2 714.4 L1586.2 714.8 L1586.2 715.1 L1586.2 715.5 L1586.2 715.8 L1586.2 716.2 L1586.2 716.5 L1586.2 716.8 L1586.1 717.2 L1586.1 717.5 L1586.1 717.9 L1586 718.2 L1585.9 718.5 L1585.9 718.9 L1585.8 719.2 L1585.7 719.5 L1585.6 719.9 L1585.5 720.2 L1585.4 720.5 L1585.3 720.9 L1585.2 721.2 L1585 721.5 L1584.9 721.8 L1584.7 722.2 L1584.5 722.5 L1584.4 722.8 L1584.2 723.1 L1584 723.4 L1583.8 723.7 L1583.6 724.1 L1583.3 724.4 L1583.1 724.7 L1582.9 725 L1582.6 725.2 L1582.3 725.5 L1582.1 725.8 L1581.8 726.1 L1581.5 726.3 L1581.2 726.6 L1581 726.8 L1580.7 727 L1580.4 727.2 L1580.1 727.4 L1579.7 727.6 L1579.4 727.8 L1579.1 728 L1578.8 728.1 L1578.5 728.3 L1578.1 728.4 L1577.8 728.5 L1577.5 728.6 L1577.1 728.6 L1576.8 728.7 L1576.4 728.7 L1576.1 728.7 L1575.8 728.7 L1575.4 728.7 L1575.1 728.6 L1574.7 728.6 L1574.4 728.5 L1574.1 728.4 L1573.7 728.3 L1573.4 728.1 L1573.1 728 L1572.8 727.8 L1572.4 727.6 L1572.1 727.5 L1571.8 727.3 L1571.5 727 L1571.3 726.8 L1571 726.6 L1570.7 726.3 L1570.5 726.1 L1570.2 725.8 L1570 725.5 L1569.8 725.3 L1569.6 725 L1569.4 724.7 L1569.2 724.4 L1569 724.1 L1568.9 723.8 L1568.7 723.4 L1568.6 723.1 L1568.4 722.8 L1568.3 722.5 L1568.2 722.1 L1568.1 721.8 L1568 721.4 L1567.9 721.1 L1567.8 720.7 L1567.7 720.4 L1567.6 720 L1567.5 719.7 L1567.4 719.3 L1567.3 719 L1567.3 718.6 L1567.2 718.2 L1567.1 717.9 L1567.1 717.5 L1567 717.2 L1566.9 716.8 L1566.8 716.4 L1566.8 716.1 L1566.7 715.7 L1566.6 715.4 L1566.5 715 L1566.4 714.7 L1566.4 714.3 L1566.3 714 L1566.2 713.6 L1566.1 713.3 L1566 712.9 L1566 712.6 L1565.9 712.3 L1565.8 711.9 L1565.7 711.6 L1565.7 711.2 L1565.6 710.9 L1565.5 710.6 L1565.5 710.2 L1565.4 709.9 L1565.4 709.5 L1565.3 709.2 L1565.3 708.9 L1565.2 708.5 L1565.2 708.2 L1565.1 707.9 L1565.1 707.5 L1565 707.2 L1565 706.9 L1564.9 706.5 L1564.9 706.2 L1564.8 705.9 L1564.8 705.5 L1564.7 705.2 L1564.6 704.9 L1564.6 704.6 L1564.5 704.3 L1564.4 703.9 L1564.2 703.6 L1564.1 703.3 L1564 703 L1563.8 702.7 L1563.7 702.4 L1563.5 702.1 L1563.3 701.9 L1563.2 701.6 L1563 701.3 L1562.8 701 L1562.6 700.7 L1562.4 700.4 L1562.2 700.1 L1562 699.8 L1561.8 699.5 L1561.6 699.2 L1561.4 698.9 L1561.2 698.6 L1561 698.3 L1560.9 698 L1560.7 697.7 L1560.6 697.4 L1560.4 697.1 L1560.3 696.7 L1560.2 696.4 L1560.1 696 L1560 695.7 L1560 695.3 L1559.9 695 L1559.9 694.6 L1559.9 694.2 L1559.9 693.8 L1559.9 693.5 L1560 693.1 L1560 692.7 L1560.1 692.4 L1560.2 692 L1560.3 691.7 L1560.4 691.3 L1560.5 691 L1560.7 690.7 L1560.9 690.4 L1561 690.1 L1561.2 689.8 L1561.4 689.6 Z" fill="none" stroke="#ff8c00" stroke-width="3.1" stroke-linejoin="round"/>
<rect x="1185.3" y="2.7" width="261.3" height="272.2" fill="none" stroke="#000" stroke-width="1.8"/>
<rect x="1185.3" y="288.9" width="261.3" height="272.2" fill="none" stroke="#000" stroke-width="1.8"/>
<rect x="1460.0" y="288.9" width="261.3" height="272.2" fill="none" stroke="#000" stroke-width="1.8"/>
<rect x="1185.3" y="575.6" width="261.3" height="272.2" fill="none" stroke="#000" stroke-width="1.8"/>
<rect x="1460.0" y="575.6" width="261.3" height="272.2" fill="none" stroke="#000" stroke-width="1.8"/>
<rect x="1735.0" y="575.6" width="261.3" height="272.2" fill="none" stroke="#000" stroke-width="1.8"/>
<line x1="1244.4" y1="274.9" x2="1244.4" y2="282.4" stroke="#000" stroke-width="1.8"/>
<line x1="1315.1" y1="274.9" x2="1315.1" y2="282.4" stroke="#000" stroke-width="1.8"/>
<line x1="1385.8" y1="274.9" x2="1385.8" y2="282.4" stroke="#000" stroke-width="1.8"/>
<line x1="1244.4" y1="561.0999999999999" x2="1244.4" y2="568.6" stroke="#000" stroke-width="1.8"/>
<line x1="1315.1" y1="561.0999999999999" x2="1315.1" y2="568.6" stroke="#000" stroke-width="1.8"/>
<line x1="1385.8" y1="561.0999999999999" x2="1385.8" y2="568.6" stroke="#000" stroke-width="1.8"/>
<line x1="1177.8" y1="317.7" x2="1185.3" y2="317.7" stroke="#000" stroke-width="1.8"/>
<line x1="1177.8" y1="393.4" x2="1185.3" y2="393.4" stroke="#000" stroke-width="1.8"/>
<line x1="1177.8" y1="469.4" x2="1185.3" y2="469.4" stroke="#000" stroke-width="1.8"/>
<line x1="1177.8" y1="545.6" x2="1185.3" y2="545.6" stroke="#000" stroke-width="1.8"/>
<line x1="1475.25" y1="561.0999999999999" x2="1475.25" y2="568.6" stroke="#000" stroke-width="1.8"/>
<line x1="1548.0" y1="561.0999999999999" x2="1548.0" y2="568.6" stroke="#000" stroke-width="1.8"/>
<line x1="1621.5" y1="561.0999999999999" x2="1621.5" y2="568.6" stroke="#000" stroke-width="1.8"/>
<line x1="1694.0" y1="561.0999999999999" x2="1694.0" y2="568.6" stroke="#000" stroke-width="1.8"/>
<line x1="1244.4" y1="847.8" x2="1244.4" y2="855.3" stroke="#000" stroke-width="1.8"/>
<line x1="1315.1" y1="847.8" x2="1315.1" y2="855.3" stroke="#000" stroke-width="1.8"/>
<line x1="1385.8" y1="847.8" x2="1385.8" y2="855.3" stroke="#000" stroke-width="1.8"/>
<line x1="1177.8" y1="638.3" x2="1185.3" y2="638.3" stroke="#000" stroke-width="1.8"/>
<line x1="1177.8" y1="708.4" x2="1185.3" y2="708.4" stroke="#000" stroke-width="1.8"/>
<line x1="1177.8" y1="778.4" x2="1185.3" y2="778.4" stroke="#000" stroke-width="1.8"/>
<line x1="1475.25" y1="847.8" x2="1475.25" y2="855.3" stroke="#000" stroke-width="1.8"/>
<line x1="1548.0" y1="847.8" x2="1548.0" y2="855.3" stroke="#000" stroke-width="1.8"/>
<line x1="1621.5" y1="847.8" x2="1621.5" y2="855.3" stroke="#000" stroke-width="1.8"/>
<line x1="1694.0" y1="847.8" x2="1694.0" y2="855.3" stroke="#000" stroke-width="1.8"/>
<line x1="1452.5" y1="638.3" x2="1460.0" y2="638.3" stroke="#000" stroke-width="1.8"/>
<line x1="1452.5" y1="708.4" x2="1460.0" y2="708.4" stroke="#000" stroke-width="1.8"/>
<line x1="1452.5" y1="778.4" x2="1460.0" y2="778.4" stroke="#000" stroke-width="1.8"/>
<line x1="1799.8" y1="847.8" x2="1799.8" y2="855.3" stroke="#000" stroke-width="1.8"/>
<line x1="1868.7" y1="847.8" x2="1868.7" y2="855.3" stroke="#000" stroke-width="1.8"/>
<line x1="1937.7" y1="847.8" x2="1937.7" y2="855.3" stroke="#000" stroke-width="1.8"/>
<text transform="translate(1231.9 917.3) scale(1 1.085) rotate(-45)" font-size="29.2">6.90</text>
<text transform="translate(1303.6 918.8) scale(1 1.085) rotate(-45)" font-size="29.2">7.05</text>
<text transform="translate(1374.5 917.3) scale(1 1.085) rotate(-45)" font-size="29.2">7.20</text>
<text transform="translate(1454.8 930.3) scale(1 1.085) rotate(-45)" font-size="29.2">&#8722;1.18</text>
<text transform="translate(1529.6 932.8) scale(1 1.085) rotate(-45)" font-size="29.2">&#8722;1.17</text>
<text transform="translate(1601.1 931.6) scale(1 1.085) rotate(-45)" font-size="29.2">&#8722;1.16</text>
<text transform="translate(1673.7 931.4) scale(1 1.085) rotate(-45)" font-size="29.2">&#8722;1.15</text>
<text transform="translate(1787.4 918.8) scale(1 1.085) rotate(-45)" font-size="29.2">0.15</text>
<text transform="translate(1856.5 917.3) scale(1 1.085) rotate(-45)" font-size="29.2">0.30</text>
<text transform="translate(1925.3 918.8) scale(1 1.085) rotate(-45)" font-size="29.2">0.45</text>
<text transform="translate(1117.3 372.7) scale(1 1.085) rotate(-45)" font-size="29.2">&#8722;1.15</text>
<text transform="translate(1116.9 448.6) scale(1 1.085) rotate(-45)" font-size="29.2">&#8722;1.16</text>
<text transform="translate(1121 525.8) scale(1 1.085) rotate(-45)" font-size="29.2">&#8722;1.17</text>
<text transform="translate(1116.9 599.5) scale(1 1.085) rotate(-45)" font-size="29.2">&#8722;1.18</text>
<text transform="translate(1128.9 680.7) scale(1 1.085) rotate(-45)" font-size="29.2">0.45</text>
<text transform="translate(1129.3 749.3) scale(1 1.085) rotate(-45)" font-size="29.2">0.30</text>
<text transform="translate(1128.9 820.8) scale(1 1.085) rotate(-45)" font-size="29.2">0.15</text>
<text transform="translate(1316 954) scale(1 1.085)" font-size="34.5" text-anchor="middle">Age (Gyr)</text>
<text transform="translate(1590.7 954.7) scale(1 1.085)" font-size="34.5" text-anchor="middle">log(Z<tspan font-size="19" dy="4" font-family="DejaVu Sans">&#9733;</tspan><tspan dy="-4">/Z</tspan><tspan font-size="23" dy="4" font-family="DejaVu Sans">&#8857;</tspan><tspan dy="-4">)</tspan></text>
<text transform="translate(1865.6 954.8) scale(1 1.085)" font-size="34.5" text-anchor="middle">A<tspan font-size="24.2" dy="3.5">V, diffuse</tspan></text>
<text transform="translate(1099.4 425.4) scale(1 1.085) rotate(-90)" font-size="34.5" text-anchor="middle" textLength="140.7" lengthAdjust="spacingAndGlyphs">log(Z<tspan font-size="19" dy="4" font-family="DejaVu Sans">&#9733;</tspan><tspan dy="-4">/Z</tspan><tspan font-size="23" dy="4" font-family="DejaVu Sans">&#8857;</tspan><tspan dy="-4">)</tspan></text>
<text transform="translate(1099.4 711.6) scale(1 1.085) rotate(-90)" font-size="34.5" text-anchor="middle" textLength="111.1" lengthAdjust="spacingAndGlyphs">A<tspan font-size="24.2" dy="3.5">V, diffuse</tspan></text>
</svg>
</body></html>
